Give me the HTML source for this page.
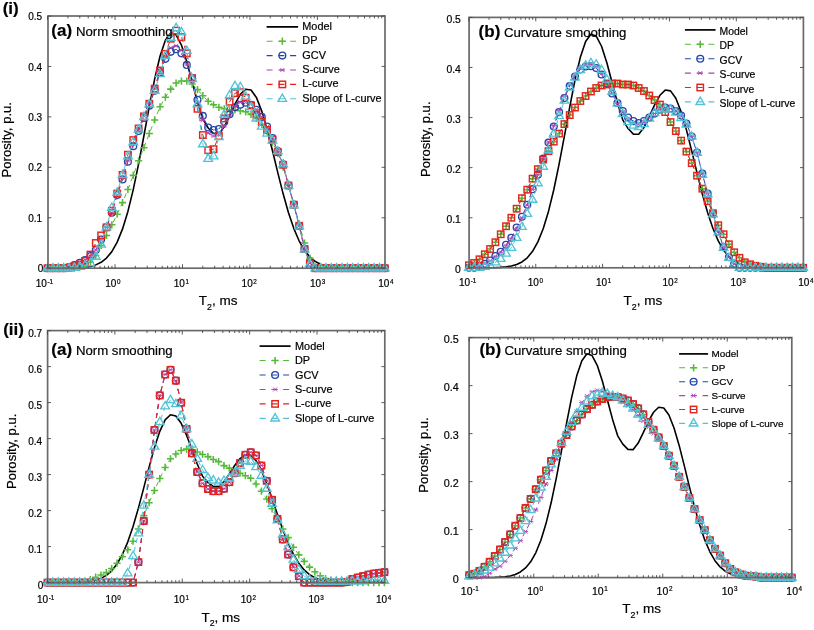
<!DOCTYPE html><html><head><meta charset="utf-8"><title>T2 distributions</title><style>html,body{margin:0;padding:0;background:#fff;width:814px;height:630px;overflow:hidden}svg{display:block}text{stroke:#000;stroke-width:.2px}</style></head><body><svg width="814" height="630" viewBox="0 0 814 630" font-family='"Liberation Sans", Arial, Helvetica, sans-serif'><rect width="814" height="630" fill="#fff"/><text x="2.7" y="14.0" font-size="17" font-weight="bold" fill="#000">(i)</text><text x="3.2" y="335.0" font-size="17" font-weight="bold" fill="#000">(ii)</text><clipPath id="clipA"><rect x="41.6" y="10" width="349.25" height="264.2"/></clipPath>
<g clip-path="url(#clipA)">
<path d="M47.6 268.2 L52.95 268.19 L58.31 268.18 L63.66 268.16 L69.01 268.1 L74.37 267.99 L79.72 267.75 L85.07 267.29 L90.43 266.43 L95.78 264.9 L101.13 262.3 L106.48 258.1 L111.84 251.63 L117.19 242.14 L122.54 228.91 L127.9 211.43 L133.25 189.59 L138.6 163.87 L143.96 135.48 L149.31 106.38 L154.66 79.05 L160.02 56.2 L165.37 40.28 L170.72 32.97 L176.08 34.82 L181.43 45.06 L186.78 61.68 L192.14 81.75 L197.49 101.97 L202.84 119.19 L208.2 127.97 L213.55 133.52 L218.9 133.75 L224.25 126.82 L229.61 115.87 L234.96 104.14 L240.31 94.44 L245.67 89.19 L251.02 89.99 L256.37 97.41 L261.73 110.96 L267.08 129.29 L272.43 150.53 L277.79 172.65 L283.14 193.84 L288.49 212.75 L293.85 228.57 L299.2 241.06 L304.55 250.39 L309.91 257.01 L315.26 261.46 L320.61 264.31 L325.97 266.05 L331.32 267.06 L336.67 267.62 L342.02 267.92 L347.38 268.07 L352.73 268.14 L358.08 268.17 L363.44 268.19 L368.79 268.2 L374.14 268.2 L379.5 268.2 L384.85 268.2" stroke="#000" stroke-width="1.6" fill="none" stroke-linejoin="round"/>
<path d="M47.6 268.2 L52.95 268.2 L58.31 268.2 L63.66 268.2 L69.01 268.2 L74.37 268.2 L79.72 267.19 L85.07 265.68 L90.43 262.15 L95.78 255.59 L101.13 245.5 L106.48 235.41 L111.84 224.82 L117.19 214.23 L122.54 202.63 L127.9 189.51 L133.25 175.39 L138.6 160.76 L143.96 147.65 L149.31 133.53 L154.66 119.91 L160.02 106.79 L165.37 97.21 L170.72 89.14 L176.08 83.09 L181.43 81.07 L186.78 81.07 L192.14 84.09 L197.49 89.64 L202.84 95.7 L208.2 101.24 L213.55 104.77 L218.9 107.3 L224.25 108.81 L229.61 109.82 L234.96 109.82 L240.31 110.83 L245.67 111.84 L251.02 114.36 L256.37 118.39 L261.73 124.45 L267.08 132.01 L272.43 142.1 L277.79 153.2 L283.14 167.32 L288.49 184.97 L293.85 204.14 L299.2 223.81 L304.55 242.98 L309.91 258.11 L315.26 265.68 L320.61 268.2 L325.97 268.2 L331.32 268.2 L336.67 268.2 L342.02 268.2 L347.38 268.2 L352.73 268.2 L358.08 268.2 L363.44 268.2 L368.79 268.2 L374.14 268.2 L379.5 268.2 L384.85 268.2" stroke="#56b93a" stroke-width="1" fill="none" stroke-dasharray="5 4"/>
<path d="M44 268.2H51.2M47.6 264.6V271.8" stroke="#56b93a" stroke-width="1.55" fill="none"/><path d="M49.35 268.2H56.55M52.95 264.6V271.8" stroke="#56b93a" stroke-width="1.55" fill="none"/><path d="M54.71 268.2H61.91M58.31 264.6V271.8" stroke="#56b93a" stroke-width="1.55" fill="none"/><path d="M60.06 268.2H67.26M63.66 264.6V271.8" stroke="#56b93a" stroke-width="1.55" fill="none"/><path d="M65.41 268.2H72.61M69.01 264.6V271.8" stroke="#56b93a" stroke-width="1.55" fill="none"/><path d="M70.77 268.2H77.97M74.37 264.6V271.8" stroke="#56b93a" stroke-width="1.55" fill="none"/><path d="M76.12 267.19H83.32M79.72 263.59V270.79" stroke="#56b93a" stroke-width="1.55" fill="none"/><path d="M81.47 265.68H88.67M85.07 262.08V269.28" stroke="#56b93a" stroke-width="1.55" fill="none"/><path d="M86.83 262.15H94.03M90.43 258.55V265.75" stroke="#56b93a" stroke-width="1.55" fill="none"/><path d="M92.18 255.59H99.38M95.78 251.99V259.19" stroke="#56b93a" stroke-width="1.55" fill="none"/><path d="M97.53 245.5H104.73M101.13 241.9V249.1" stroke="#56b93a" stroke-width="1.55" fill="none"/><path d="M102.88 235.41H110.08M106.48 231.81V239.01" stroke="#56b93a" stroke-width="1.55" fill="none"/><path d="M108.24 224.82H115.44M111.84 221.22V228.42" stroke="#56b93a" stroke-width="1.55" fill="none"/><path d="M113.59 214.23H120.79M117.19 210.63V217.83" stroke="#56b93a" stroke-width="1.55" fill="none"/><path d="M118.94 202.63H126.14M122.54 199.03V206.23" stroke="#56b93a" stroke-width="1.55" fill="none"/><path d="M124.3 189.51H131.5M127.9 185.91V193.11" stroke="#56b93a" stroke-width="1.55" fill="none"/><path d="M129.65 175.39H136.85M133.25 171.79V178.99" stroke="#56b93a" stroke-width="1.55" fill="none"/><path d="M135 160.76H142.2M138.6 157.16V164.36" stroke="#56b93a" stroke-width="1.55" fill="none"/><path d="M140.36 147.65H147.56M143.96 144.05V151.25" stroke="#56b93a" stroke-width="1.55" fill="none"/><path d="M145.71 133.53H152.91M149.31 129.93V137.13" stroke="#56b93a" stroke-width="1.55" fill="none"/><path d="M151.06 119.91H158.26M154.66 116.31V123.51" stroke="#56b93a" stroke-width="1.55" fill="none"/><path d="M156.42 106.79H163.62M160.02 103.19V110.39" stroke="#56b93a" stroke-width="1.55" fill="none"/><path d="M161.77 97.21H168.97M165.37 93.61V100.81" stroke="#56b93a" stroke-width="1.55" fill="none"/><path d="M167.12 89.14H174.32M170.72 85.54V92.74" stroke="#56b93a" stroke-width="1.55" fill="none"/><path d="M172.48 83.09H179.68M176.08 79.49V86.69" stroke="#56b93a" stroke-width="1.55" fill="none"/><path d="M177.83 81.07H185.03M181.43 77.47V84.67" stroke="#56b93a" stroke-width="1.55" fill="none"/><path d="M183.18 81.07H190.38M186.78 77.47V84.67" stroke="#56b93a" stroke-width="1.55" fill="none"/><path d="M188.54 84.09H195.74M192.14 80.49V87.69" stroke="#56b93a" stroke-width="1.55" fill="none"/><path d="M193.89 89.64H201.09M197.49 86.04V93.24" stroke="#56b93a" stroke-width="1.55" fill="none"/><path d="M199.24 95.7H206.44M202.84 92.1V99.3" stroke="#56b93a" stroke-width="1.55" fill="none"/><path d="M204.6 101.24H211.8M208.2 97.64V104.84" stroke="#56b93a" stroke-width="1.55" fill="none"/><path d="M209.95 104.77H217.15M213.55 101.17V108.37" stroke="#56b93a" stroke-width="1.55" fill="none"/><path d="M215.3 107.3H222.5M218.9 103.7V110.9" stroke="#56b93a" stroke-width="1.55" fill="none"/><path d="M220.65 108.81H227.85M224.25 105.21V112.41" stroke="#56b93a" stroke-width="1.55" fill="none"/><path d="M226.01 109.82H233.21M229.61 106.22V113.42" stroke="#56b93a" stroke-width="1.55" fill="none"/><path d="M231.36 109.82H238.56M234.96 106.22V113.42" stroke="#56b93a" stroke-width="1.55" fill="none"/><path d="M236.71 110.83H243.91M240.31 107.23V114.43" stroke="#56b93a" stroke-width="1.55" fill="none"/><path d="M242.07 111.84H249.27M245.67 108.24V115.44" stroke="#56b93a" stroke-width="1.55" fill="none"/><path d="M247.42 114.36H254.62M251.02 110.76V117.96" stroke="#56b93a" stroke-width="1.55" fill="none"/><path d="M252.77 118.39H259.97M256.37 114.79V121.99" stroke="#56b93a" stroke-width="1.55" fill="none"/><path d="M258.13 124.45H265.33M261.73 120.85V128.05" stroke="#56b93a" stroke-width="1.55" fill="none"/><path d="M263.48 132.01H270.68M267.08 128.41V135.61" stroke="#56b93a" stroke-width="1.55" fill="none"/><path d="M268.83 142.1H276.03M272.43 138.5V145.7" stroke="#56b93a" stroke-width="1.55" fill="none"/><path d="M274.19 153.2H281.39M277.79 149.6V156.8" stroke="#56b93a" stroke-width="1.55" fill="none"/><path d="M279.54 167.32H286.74M283.14 163.72V170.92" stroke="#56b93a" stroke-width="1.55" fill="none"/><path d="M284.89 184.97H292.09M288.49 181.37V188.57" stroke="#56b93a" stroke-width="1.55" fill="none"/><path d="M290.25 204.14H297.45M293.85 200.54V207.74" stroke="#56b93a" stroke-width="1.55" fill="none"/><path d="M295.6 223.81H302.8M299.2 220.21V227.41" stroke="#56b93a" stroke-width="1.55" fill="none"/><path d="M300.95 242.98H308.15M304.55 239.38V246.58" stroke="#56b93a" stroke-width="1.55" fill="none"/><path d="M306.31 258.11H313.51M309.91 254.51V261.71" stroke="#56b93a" stroke-width="1.55" fill="none"/><path d="M311.66 265.68H318.86M315.26 262.08V269.28" stroke="#56b93a" stroke-width="1.55" fill="none"/><path d="M317.01 268.2H324.21M320.61 264.6V271.8" stroke="#56b93a" stroke-width="1.55" fill="none"/><path d="M322.37 268.2H329.57M325.97 264.6V271.8" stroke="#56b93a" stroke-width="1.55" fill="none"/><path d="M327.72 268.2H334.92M331.32 264.6V271.8" stroke="#56b93a" stroke-width="1.55" fill="none"/><path d="M333.07 268.2H340.27M336.67 264.6V271.8" stroke="#56b93a" stroke-width="1.55" fill="none"/><path d="M338.42 268.2H345.62M342.02 264.6V271.8" stroke="#56b93a" stroke-width="1.55" fill="none"/><path d="M343.78 268.2H350.98M347.38 264.6V271.8" stroke="#56b93a" stroke-width="1.55" fill="none"/><path d="M349.13 268.2H356.33M352.73 264.6V271.8" stroke="#56b93a" stroke-width="1.55" fill="none"/><path d="M354.48 268.2H361.68M358.08 264.6V271.8" stroke="#56b93a" stroke-width="1.55" fill="none"/><path d="M359.84 268.2H367.04M363.44 264.6V271.8" stroke="#56b93a" stroke-width="1.55" fill="none"/><path d="M365.19 268.2H372.39M368.79 264.6V271.8" stroke="#56b93a" stroke-width="1.55" fill="none"/><path d="M370.54 268.2H377.74M374.14 264.6V271.8" stroke="#56b93a" stroke-width="1.55" fill="none"/><path d="M375.9 268.2H383.1M379.5 264.6V271.8" stroke="#56b93a" stroke-width="1.55" fill="none"/><path d="M381.25 268.2H388.45M384.85 264.6V271.8" stroke="#56b93a" stroke-width="1.55" fill="none"/>
<path d="M47.6 268.2 L52.95 268.2 L58.31 268.2 L63.66 268.2 L69.01 267.19 L74.37 265.17 L79.72 262.8 L85.07 259.98 L90.43 256.09 L95.78 250.04 L101.13 239.45 L106.48 227.34 L111.84 212.72 L117.19 195.06 L122.54 179.43 L127.9 161.77 L133.25 146.14 L138.6 131 L143.96 117.89 L149.31 105.78 L154.66 90.65 L160.02 72.49 L165.37 58.87 L170.72 51.81 L176.08 49.29 L181.43 53.33 L186.78 64.93 L192.14 79.05 L197.49 99.73 L202.84 115.87 L208.2 127.47 L213.55 129.99 L218.9 128.99 L224.25 121.92 L229.61 114.36 L234.96 107.3 L240.31 104.77 L245.67 102.76 L251.02 104.77 L256.37 109.82 L261.73 116.88 L267.08 126.46 L272.43 138.06 L277.79 151.18 L283.14 164.29 L288.49 185.48 L293.85 204.65 L299.2 225.83 L304.55 249.03 L309.91 263.16 L315.26 268.2 L320.61 268.2 L325.97 268.2 L331.32 268.2 L336.67 268.2 L342.02 268.2 L347.38 268.2 L352.73 268.2 L358.08 268.2 L363.44 268.2 L368.79 268.2 L374.14 268.2 L379.5 268.2 L384.85 268.2" stroke="#2446a8" stroke-width="1" fill="none" stroke-dasharray="5 4"/>
<circle cx="47.6" cy="268.2" r="3.4" stroke="#2446a8" stroke-width="1.35" fill="none"/><circle cx="52.95" cy="268.2" r="3.4" stroke="#2446a8" stroke-width="1.35" fill="none"/><circle cx="58.31" cy="268.2" r="3.4" stroke="#2446a8" stroke-width="1.35" fill="none"/><circle cx="63.66" cy="268.2" r="3.4" stroke="#2446a8" stroke-width="1.35" fill="none"/><circle cx="69.01" cy="267.19" r="3.4" stroke="#2446a8" stroke-width="1.35" fill="none"/><circle cx="74.37" cy="265.17" r="3.4" stroke="#2446a8" stroke-width="1.35" fill="none"/><circle cx="79.72" cy="262.8" r="3.4" stroke="#2446a8" stroke-width="1.35" fill="none"/><circle cx="85.07" cy="259.98" r="3.4" stroke="#2446a8" stroke-width="1.35" fill="none"/><circle cx="90.43" cy="256.09" r="3.4" stroke="#2446a8" stroke-width="1.35" fill="none"/><circle cx="95.78" cy="250.04" r="3.4" stroke="#2446a8" stroke-width="1.35" fill="none"/><circle cx="101.13" cy="239.45" r="3.4" stroke="#2446a8" stroke-width="1.35" fill="none"/><circle cx="106.48" cy="227.34" r="3.4" stroke="#2446a8" stroke-width="1.35" fill="none"/><circle cx="111.84" cy="212.72" r="3.4" stroke="#2446a8" stroke-width="1.35" fill="none"/><circle cx="117.19" cy="195.06" r="3.4" stroke="#2446a8" stroke-width="1.35" fill="none"/><circle cx="122.54" cy="179.43" r="3.4" stroke="#2446a8" stroke-width="1.35" fill="none"/><circle cx="127.9" cy="161.77" r="3.4" stroke="#2446a8" stroke-width="1.35" fill="none"/><circle cx="133.25" cy="146.14" r="3.4" stroke="#2446a8" stroke-width="1.35" fill="none"/><circle cx="138.6" cy="131" r="3.4" stroke="#2446a8" stroke-width="1.35" fill="none"/><circle cx="143.96" cy="117.89" r="3.4" stroke="#2446a8" stroke-width="1.35" fill="none"/><circle cx="149.31" cy="105.78" r="3.4" stroke="#2446a8" stroke-width="1.35" fill="none"/><circle cx="154.66" cy="90.65" r="3.4" stroke="#2446a8" stroke-width="1.35" fill="none"/><circle cx="160.02" cy="72.49" r="3.4" stroke="#2446a8" stroke-width="1.35" fill="none"/><circle cx="165.37" cy="58.87" r="3.4" stroke="#2446a8" stroke-width="1.35" fill="none"/><circle cx="170.72" cy="51.81" r="3.4" stroke="#2446a8" stroke-width="1.35" fill="none"/><circle cx="176.08" cy="49.29" r="3.4" stroke="#2446a8" stroke-width="1.35" fill="none"/><circle cx="181.43" cy="53.33" r="3.4" stroke="#2446a8" stroke-width="1.35" fill="none"/><circle cx="186.78" cy="64.93" r="3.4" stroke="#2446a8" stroke-width="1.35" fill="none"/><circle cx="192.14" cy="79.05" r="3.4" stroke="#2446a8" stroke-width="1.35" fill="none"/><circle cx="197.49" cy="99.73" r="3.4" stroke="#2446a8" stroke-width="1.35" fill="none"/><circle cx="202.84" cy="115.87" r="3.4" stroke="#2446a8" stroke-width="1.35" fill="none"/><circle cx="208.2" cy="127.47" r="3.4" stroke="#2446a8" stroke-width="1.35" fill="none"/><circle cx="213.55" cy="129.99" r="3.4" stroke="#2446a8" stroke-width="1.35" fill="none"/><circle cx="218.9" cy="128.99" r="3.4" stroke="#2446a8" stroke-width="1.35" fill="none"/><circle cx="224.25" cy="121.92" r="3.4" stroke="#2446a8" stroke-width="1.35" fill="none"/><circle cx="229.61" cy="114.36" r="3.4" stroke="#2446a8" stroke-width="1.35" fill="none"/><circle cx="234.96" cy="107.3" r="3.4" stroke="#2446a8" stroke-width="1.35" fill="none"/><circle cx="240.31" cy="104.77" r="3.4" stroke="#2446a8" stroke-width="1.35" fill="none"/><circle cx="245.67" cy="102.76" r="3.4" stroke="#2446a8" stroke-width="1.35" fill="none"/><circle cx="251.02" cy="104.77" r="3.4" stroke="#2446a8" stroke-width="1.35" fill="none"/><circle cx="256.37" cy="109.82" r="3.4" stroke="#2446a8" stroke-width="1.35" fill="none"/><circle cx="261.73" cy="116.88" r="3.4" stroke="#2446a8" stroke-width="1.35" fill="none"/><circle cx="267.08" cy="126.46" r="3.4" stroke="#2446a8" stroke-width="1.35" fill="none"/><circle cx="272.43" cy="138.06" r="3.4" stroke="#2446a8" stroke-width="1.35" fill="none"/><circle cx="277.79" cy="151.18" r="3.4" stroke="#2446a8" stroke-width="1.35" fill="none"/><circle cx="283.14" cy="164.29" r="3.4" stroke="#2446a8" stroke-width="1.35" fill="none"/><circle cx="288.49" cy="185.48" r="3.4" stroke="#2446a8" stroke-width="1.35" fill="none"/><circle cx="293.85" cy="204.65" r="3.4" stroke="#2446a8" stroke-width="1.35" fill="none"/><circle cx="299.2" cy="225.83" r="3.4" stroke="#2446a8" stroke-width="1.35" fill="none"/><circle cx="304.55" cy="249.03" r="3.4" stroke="#2446a8" stroke-width="1.35" fill="none"/><circle cx="309.91" cy="263.16" r="3.4" stroke="#2446a8" stroke-width="1.35" fill="none"/><circle cx="315.26" cy="268.2" r="3.4" stroke="#2446a8" stroke-width="1.35" fill="none"/><circle cx="320.61" cy="268.2" r="3.4" stroke="#2446a8" stroke-width="1.35" fill="none"/><circle cx="325.97" cy="268.2" r="3.4" stroke="#2446a8" stroke-width="1.35" fill="none"/><circle cx="331.32" cy="268.2" r="3.4" stroke="#2446a8" stroke-width="1.35" fill="none"/><circle cx="336.67" cy="268.2" r="3.4" stroke="#2446a8" stroke-width="1.35" fill="none"/><circle cx="342.02" cy="268.2" r="3.4" stroke="#2446a8" stroke-width="1.35" fill="none"/><circle cx="347.38" cy="268.2" r="3.4" stroke="#2446a8" stroke-width="1.35" fill="none"/><circle cx="352.73" cy="268.2" r="3.4" stroke="#2446a8" stroke-width="1.35" fill="none"/><circle cx="358.08" cy="268.2" r="3.4" stroke="#2446a8" stroke-width="1.35" fill="none"/><circle cx="363.44" cy="268.2" r="3.4" stroke="#2446a8" stroke-width="1.35" fill="none"/><circle cx="368.79" cy="268.2" r="3.4" stroke="#2446a8" stroke-width="1.35" fill="none"/><circle cx="374.14" cy="268.2" r="3.4" stroke="#2446a8" stroke-width="1.35" fill="none"/><circle cx="379.5" cy="268.2" r="3.4" stroke="#2446a8" stroke-width="1.35" fill="none"/><circle cx="384.85" cy="268.2" r="3.4" stroke="#2446a8" stroke-width="1.35" fill="none"/>
<path d="M47.6 268.2 L52.95 268.2 L58.31 268.2 L63.66 268.2 L69.01 267.19 L74.37 265.17 L79.72 262.9 L85.07 260.13 L90.43 256.09 L95.78 250.04 L101.13 239.95 L106.48 227.34 L111.84 212.72 L117.19 195.06 L122.54 178.42 L127.9 160.26 L133.25 144.12 L138.6 128.99 L143.96 115.87 L149.31 103.26 L154.66 88.13 L160.02 70.48 L165.37 56.35 L170.72 47.78 L176.08 45.76 L181.43 50.3 L186.78 63.92 L192.14 80.56 L197.49 102.76 L202.84 120.41 L208.2 133.02 L213.55 136.05 L218.9 134.53 L224.25 125.96 L229.61 115.87 L234.96 106.29 L240.31 102.25 L245.67 100.23 L251.02 103.26 L256.37 109.31 L261.73 116.88 L267.08 126.97 L272.43 138.57 L277.79 151.68 L283.14 164.8 L288.49 185.48 L293.85 204.65 L299.2 225.83 L304.55 249.03 L309.91 263.16 L315.26 268.2 L320.61 268.2 L325.97 268.2 L331.32 268.2 L336.67 268.2 L342.02 268.2 L347.38 268.2 L352.73 268.2 L358.08 268.2 L363.44 268.2 L368.79 268.2 L374.14 268.2 L379.5 268.2 L384.85 268.2" stroke="#b040b0" stroke-width="1" fill="none" stroke-dasharray="5 4"/>
<path d="M44.9 268.2H50.3M45.6 266.2L49.6 270.2M45.6 270.2L49.6 266.2" stroke="#b040b0" stroke-width="0.9" fill="none"/><path d="M50.25 268.2H55.65M50.95 266.2L54.95 270.2M50.95 270.2L54.95 266.2" stroke="#b040b0" stroke-width="0.9" fill="none"/><path d="M55.61 268.2H61.01M56.31 266.2L60.31 270.2M56.31 270.2L60.31 266.2" stroke="#b040b0" stroke-width="0.9" fill="none"/><path d="M60.96 268.2H66.36M61.66 266.2L65.66 270.2M61.66 270.2L65.66 266.2" stroke="#b040b0" stroke-width="0.9" fill="none"/><path d="M66.31 267.19H71.71M67.01 265.19L71.01 269.19M67.01 269.19L71.01 265.19" stroke="#b040b0" stroke-width="0.9" fill="none"/><path d="M71.67 265.17H77.07M72.37 263.17L76.37 267.17M72.37 267.17L76.37 263.17" stroke="#b040b0" stroke-width="0.9" fill="none"/><path d="M77.02 262.9H82.42M77.72 260.9L81.72 264.9M77.72 264.9L81.72 260.9" stroke="#b040b0" stroke-width="0.9" fill="none"/><path d="M82.37 260.13H87.77M83.07 258.13L87.07 262.13M83.07 262.13L87.07 258.13" stroke="#b040b0" stroke-width="0.9" fill="none"/><path d="M87.73 256.09H93.13M88.43 254.09L92.43 258.09M88.43 258.09L92.43 254.09" stroke="#b040b0" stroke-width="0.9" fill="none"/><path d="M93.08 250.04H98.48M93.78 248.04L97.78 252.04M93.78 252.04L97.78 248.04" stroke="#b040b0" stroke-width="0.9" fill="none"/><path d="M98.43 239.95H103.83M99.13 237.95L103.13 241.95M99.13 241.95L103.13 237.95" stroke="#b040b0" stroke-width="0.9" fill="none"/><path d="M103.78 227.34H109.18M104.48 225.34L108.48 229.34M104.48 229.34L108.48 225.34" stroke="#b040b0" stroke-width="0.9" fill="none"/><path d="M109.14 212.72H114.54M109.84 210.72L113.84 214.72M109.84 214.72L113.84 210.72" stroke="#b040b0" stroke-width="0.9" fill="none"/><path d="M114.49 195.06H119.89M115.19 193.06L119.19 197.06M115.19 197.06L119.19 193.06" stroke="#b040b0" stroke-width="0.9" fill="none"/><path d="M119.84 178.42H125.24M120.54 176.42L124.54 180.42M120.54 180.42L124.54 176.42" stroke="#b040b0" stroke-width="0.9" fill="none"/><path d="M125.2 160.26H130.6M125.9 158.26L129.9 162.26M125.9 162.26L129.9 158.26" stroke="#b040b0" stroke-width="0.9" fill="none"/><path d="M130.55 144.12H135.95M131.25 142.12L135.25 146.12M131.25 146.12L135.25 142.12" stroke="#b040b0" stroke-width="0.9" fill="none"/><path d="M135.9 128.99H141.3M136.6 126.99L140.6 130.99M136.6 130.99L140.6 126.99" stroke="#b040b0" stroke-width="0.9" fill="none"/><path d="M141.26 115.87H146.66M141.96 113.87L145.96 117.87M141.96 117.87L145.96 113.87" stroke="#b040b0" stroke-width="0.9" fill="none"/><path d="M146.61 103.26H152.01M147.31 101.26L151.31 105.26M147.31 105.26L151.31 101.26" stroke="#b040b0" stroke-width="0.9" fill="none"/><path d="M151.96 88.13H157.36M152.66 86.13L156.66 90.13M152.66 90.13L156.66 86.13" stroke="#b040b0" stroke-width="0.9" fill="none"/><path d="M157.32 70.48H162.72M158.02 68.48L162.02 72.48M158.02 72.48L162.02 68.48" stroke="#b040b0" stroke-width="0.9" fill="none"/><path d="M162.67 56.35H168.07M163.37 54.35L167.37 58.35M163.37 58.35L167.37 54.35" stroke="#b040b0" stroke-width="0.9" fill="none"/><path d="M168.02 47.78H173.42M168.72 45.78L172.72 49.78M168.72 49.78L172.72 45.78" stroke="#b040b0" stroke-width="0.9" fill="none"/><path d="M173.38 45.76H178.78M174.08 43.76L178.08 47.76M174.08 47.76L178.08 43.76" stroke="#b040b0" stroke-width="0.9" fill="none"/><path d="M178.73 50.3H184.13M179.43 48.3L183.43 52.3M179.43 52.3L183.43 48.3" stroke="#b040b0" stroke-width="0.9" fill="none"/><path d="M184.08 63.92H189.48M184.78 61.92L188.78 65.92M184.78 65.92L188.78 61.92" stroke="#b040b0" stroke-width="0.9" fill="none"/><path d="M189.44 80.56H194.84M190.14 78.56L194.14 82.56M190.14 82.56L194.14 78.56" stroke="#b040b0" stroke-width="0.9" fill="none"/><path d="M194.79 102.76H200.19M195.49 100.76L199.49 104.76M195.49 104.76L199.49 100.76" stroke="#b040b0" stroke-width="0.9" fill="none"/><path d="M200.14 120.41H205.54M200.84 118.41L204.84 122.41M200.84 122.41L204.84 118.41" stroke="#b040b0" stroke-width="0.9" fill="none"/><path d="M205.5 133.02H210.9M206.2 131.02L210.2 135.02M206.2 135.02L210.2 131.02" stroke="#b040b0" stroke-width="0.9" fill="none"/><path d="M210.85 136.05H216.25M211.55 134.05L215.55 138.05M211.55 138.05L215.55 134.05" stroke="#b040b0" stroke-width="0.9" fill="none"/><path d="M216.2 134.53H221.6M216.9 132.53L220.9 136.53M216.9 136.53L220.9 132.53" stroke="#b040b0" stroke-width="0.9" fill="none"/><path d="M221.55 125.96H226.95M222.25 123.96L226.25 127.96M222.25 127.96L226.25 123.96" stroke="#b040b0" stroke-width="0.9" fill="none"/><path d="M226.91 115.87H232.31M227.61 113.87L231.61 117.87M227.61 117.87L231.61 113.87" stroke="#b040b0" stroke-width="0.9" fill="none"/><path d="M232.26 106.29H237.66M232.96 104.29L236.96 108.29M232.96 108.29L236.96 104.29" stroke="#b040b0" stroke-width="0.9" fill="none"/><path d="M237.61 102.25H243.01M238.31 100.25L242.31 104.25M238.31 104.25L242.31 100.25" stroke="#b040b0" stroke-width="0.9" fill="none"/><path d="M242.97 100.23H248.37M243.67 98.23L247.67 102.23M243.67 102.23L247.67 98.23" stroke="#b040b0" stroke-width="0.9" fill="none"/><path d="M248.32 103.26H253.72M249.02 101.26L253.02 105.26M249.02 105.26L253.02 101.26" stroke="#b040b0" stroke-width="0.9" fill="none"/><path d="M253.67 109.31H259.07M254.37 107.31L258.37 111.31M254.37 111.31L258.37 107.31" stroke="#b040b0" stroke-width="0.9" fill="none"/><path d="M259.03 116.88H264.43M259.73 114.88L263.73 118.88M259.73 118.88L263.73 114.88" stroke="#b040b0" stroke-width="0.9" fill="none"/><path d="M264.38 126.97H269.78M265.08 124.97L269.08 128.97M265.08 128.97L269.08 124.97" stroke="#b040b0" stroke-width="0.9" fill="none"/><path d="M269.73 138.57H275.13M270.43 136.57L274.43 140.57M270.43 140.57L274.43 136.57" stroke="#b040b0" stroke-width="0.9" fill="none"/><path d="M275.09 151.68H280.49M275.79 149.68L279.79 153.68M275.79 153.68L279.79 149.68" stroke="#b040b0" stroke-width="0.9" fill="none"/><path d="M280.44 164.8H285.84M281.14 162.8L285.14 166.8M281.14 166.8L285.14 162.8" stroke="#b040b0" stroke-width="0.9" fill="none"/><path d="M285.79 185.48H291.19M286.49 183.48L290.49 187.48M286.49 187.48L290.49 183.48" stroke="#b040b0" stroke-width="0.9" fill="none"/><path d="M291.15 204.65H296.55M291.85 202.65L295.85 206.65M291.85 206.65L295.85 202.65" stroke="#b040b0" stroke-width="0.9" fill="none"/><path d="M296.5 225.83H301.9M297.2 223.83L301.2 227.83M297.2 227.83L301.2 223.83" stroke="#b040b0" stroke-width="0.9" fill="none"/><path d="M301.85 249.03H307.25M302.55 247.03L306.55 251.03M302.55 251.03L306.55 247.03" stroke="#b040b0" stroke-width="0.9" fill="none"/><path d="M307.21 263.16H312.61M307.91 261.16L311.91 265.16M307.91 265.16L311.91 261.16" stroke="#b040b0" stroke-width="0.9" fill="none"/><path d="M312.56 268.2H317.96M313.26 266.2L317.26 270.2M313.26 270.2L317.26 266.2" stroke="#b040b0" stroke-width="0.9" fill="none"/><path d="M317.91 268.2H323.31M318.61 266.2L322.61 270.2M318.61 270.2L322.61 266.2" stroke="#b040b0" stroke-width="0.9" fill="none"/><path d="M323.27 268.2H328.67M323.97 266.2L327.97 270.2M323.97 270.2L327.97 266.2" stroke="#b040b0" stroke-width="0.9" fill="none"/><path d="M328.62 268.2H334.02M329.32 266.2L333.32 270.2M329.32 270.2L333.32 266.2" stroke="#b040b0" stroke-width="0.9" fill="none"/><path d="M333.97 268.2H339.37M334.67 266.2L338.67 270.2M334.67 270.2L338.67 266.2" stroke="#b040b0" stroke-width="0.9" fill="none"/><path d="M339.32 268.2H344.72M340.02 266.2L344.02 270.2M340.02 270.2L344.02 266.2" stroke="#b040b0" stroke-width="0.9" fill="none"/><path d="M344.68 268.2H350.08M345.38 266.2L349.38 270.2M345.38 270.2L349.38 266.2" stroke="#b040b0" stroke-width="0.9" fill="none"/><path d="M350.03 268.2H355.43M350.73 266.2L354.73 270.2M350.73 270.2L354.73 266.2" stroke="#b040b0" stroke-width="0.9" fill="none"/><path d="M355.38 268.2H360.78M356.08 266.2L360.08 270.2M356.08 270.2L360.08 266.2" stroke="#b040b0" stroke-width="0.9" fill="none"/><path d="M360.74 268.2H366.14M361.44 266.2L365.44 270.2M361.44 270.2L365.44 266.2" stroke="#b040b0" stroke-width="0.9" fill="none"/><path d="M366.09 268.2H371.49M366.79 266.2L370.79 270.2M366.79 270.2L370.79 266.2" stroke="#b040b0" stroke-width="0.9" fill="none"/><path d="M371.44 268.2H376.84M372.14 266.2L376.14 270.2M372.14 270.2L376.14 266.2" stroke="#b040b0" stroke-width="0.9" fill="none"/><path d="M376.8 268.2H382.2M377.5 266.2L381.5 270.2M377.5 270.2L381.5 266.2" stroke="#b040b0" stroke-width="0.9" fill="none"/><path d="M382.15 268.2H387.55M382.85 266.2L386.85 270.2M382.85 270.2L386.85 266.2" stroke="#b040b0" stroke-width="0.9" fill="none"/>
<path d="M47.6 268.2 L52.95 268.2 L58.31 268.2 L63.66 268.2 L69.01 267.7 L74.37 266.18 L79.72 264.42 L85.07 260.89 L90.43 254.58 L95.78 242.98 L101.13 235.41 L106.48 227.34 L111.84 210.7 L117.19 193.55 L122.54 174.89 L127.9 154.71 L133.25 140.08 L138.6 128.48 L143.96 116.38 L149.31 103.77 L154.66 88.63 L160.02 70.48 L165.37 53.83 L170.72 38.7 L176.08 30.63 L181.43 37.18 L186.78 53.33 L192.14 78.04 L197.49 108.81 L202.84 135.04 L208.2 150.17 L213.55 149.16 L218.9 136.05 L224.25 118.39 L229.61 101.75 L234.96 93.17 L240.31 92.16 L245.67 97.71 L251.02 105.28 L256.37 114.36 L261.73 121.92 L267.08 129.99 L272.43 139.58 L277.79 152.19 L283.14 164.8 L288.49 185.48 L293.85 204.65 L299.2 225.83 L304.55 249.03 L309.91 263.16 L315.26 268.2 L320.61 268.2 L325.97 268.2 L331.32 268.2 L336.67 268.2 L342.02 268.2 L347.38 268.2 L352.73 268.2 L358.08 268.2 L363.44 268.2 L368.79 268.2 L374.14 268.2 L379.5 268.2 L384.85 268.2" stroke="#e3241f" stroke-width="1" fill="none" stroke-dasharray="5 4"/>
<rect x="44.4" y="265" width="6.4" height="6.4" stroke="#e3241f" stroke-width="1.45" fill="none"/><rect x="49.75" y="265" width="6.4" height="6.4" stroke="#e3241f" stroke-width="1.45" fill="none"/><rect x="55.11" y="265" width="6.4" height="6.4" stroke="#e3241f" stroke-width="1.45" fill="none"/><rect x="60.46" y="265" width="6.4" height="6.4" stroke="#e3241f" stroke-width="1.45" fill="none"/><rect x="65.81" y="264.5" width="6.4" height="6.4" stroke="#e3241f" stroke-width="1.45" fill="none"/><rect x="71.17" y="262.98" width="6.4" height="6.4" stroke="#e3241f" stroke-width="1.45" fill="none"/><rect x="76.52" y="261.22" width="6.4" height="6.4" stroke="#e3241f" stroke-width="1.45" fill="none"/><rect x="81.87" y="257.69" width="6.4" height="6.4" stroke="#e3241f" stroke-width="1.45" fill="none"/><rect x="87.23" y="251.38" width="6.4" height="6.4" stroke="#e3241f" stroke-width="1.45" fill="none"/><rect x="92.58" y="239.78" width="6.4" height="6.4" stroke="#e3241f" stroke-width="1.45" fill="none"/><rect x="97.93" y="232.21" width="6.4" height="6.4" stroke="#e3241f" stroke-width="1.45" fill="none"/><rect x="103.28" y="224.14" width="6.4" height="6.4" stroke="#e3241f" stroke-width="1.45" fill="none"/><rect x="108.64" y="207.5" width="6.4" height="6.4" stroke="#e3241f" stroke-width="1.45" fill="none"/><rect x="113.99" y="190.35" width="6.4" height="6.4" stroke="#e3241f" stroke-width="1.45" fill="none"/><rect x="119.34" y="171.69" width="6.4" height="6.4" stroke="#e3241f" stroke-width="1.45" fill="none"/><rect x="124.7" y="151.51" width="6.4" height="6.4" stroke="#e3241f" stroke-width="1.45" fill="none"/><rect x="130.05" y="136.88" width="6.4" height="6.4" stroke="#e3241f" stroke-width="1.45" fill="none"/><rect x="135.4" y="125.28" width="6.4" height="6.4" stroke="#e3241f" stroke-width="1.45" fill="none"/><rect x="140.76" y="113.18" width="6.4" height="6.4" stroke="#e3241f" stroke-width="1.45" fill="none"/><rect x="146.11" y="100.57" width="6.4" height="6.4" stroke="#e3241f" stroke-width="1.45" fill="none"/><rect x="151.46" y="85.43" width="6.4" height="6.4" stroke="#e3241f" stroke-width="1.45" fill="none"/><rect x="156.82" y="67.28" width="6.4" height="6.4" stroke="#e3241f" stroke-width="1.45" fill="none"/><rect x="162.17" y="50.63" width="6.4" height="6.4" stroke="#e3241f" stroke-width="1.45" fill="none"/><rect x="167.52" y="35.5" width="6.4" height="6.4" stroke="#e3241f" stroke-width="1.45" fill="none"/><rect x="172.88" y="27.43" width="6.4" height="6.4" stroke="#e3241f" stroke-width="1.45" fill="none"/><rect x="178.23" y="33.98" width="6.4" height="6.4" stroke="#e3241f" stroke-width="1.45" fill="none"/><rect x="183.58" y="50.13" width="6.4" height="6.4" stroke="#e3241f" stroke-width="1.45" fill="none"/><rect x="188.94" y="74.84" width="6.4" height="6.4" stroke="#e3241f" stroke-width="1.45" fill="none"/><rect x="194.29" y="105.61" width="6.4" height="6.4" stroke="#e3241f" stroke-width="1.45" fill="none"/><rect x="199.64" y="131.84" width="6.4" height="6.4" stroke="#e3241f" stroke-width="1.45" fill="none"/><rect x="205" y="146.97" width="6.4" height="6.4" stroke="#e3241f" stroke-width="1.45" fill="none"/><rect x="210.35" y="145.96" width="6.4" height="6.4" stroke="#e3241f" stroke-width="1.45" fill="none"/><rect x="215.7" y="132.85" width="6.4" height="6.4" stroke="#e3241f" stroke-width="1.45" fill="none"/><rect x="221.05" y="115.19" width="6.4" height="6.4" stroke="#e3241f" stroke-width="1.45" fill="none"/><rect x="226.41" y="98.55" width="6.4" height="6.4" stroke="#e3241f" stroke-width="1.45" fill="none"/><rect x="231.76" y="89.97" width="6.4" height="6.4" stroke="#e3241f" stroke-width="1.45" fill="none"/><rect x="237.11" y="88.96" width="6.4" height="6.4" stroke="#e3241f" stroke-width="1.45" fill="none"/><rect x="242.47" y="94.51" width="6.4" height="6.4" stroke="#e3241f" stroke-width="1.45" fill="none"/><rect x="247.82" y="102.08" width="6.4" height="6.4" stroke="#e3241f" stroke-width="1.45" fill="none"/><rect x="253.17" y="111.16" width="6.4" height="6.4" stroke="#e3241f" stroke-width="1.45" fill="none"/><rect x="258.53" y="118.72" width="6.4" height="6.4" stroke="#e3241f" stroke-width="1.45" fill="none"/><rect x="263.88" y="126.79" width="6.4" height="6.4" stroke="#e3241f" stroke-width="1.45" fill="none"/><rect x="269.23" y="136.38" width="6.4" height="6.4" stroke="#e3241f" stroke-width="1.45" fill="none"/><rect x="274.59" y="148.99" width="6.4" height="6.4" stroke="#e3241f" stroke-width="1.45" fill="none"/><rect x="279.94" y="161.6" width="6.4" height="6.4" stroke="#e3241f" stroke-width="1.45" fill="none"/><rect x="285.29" y="182.28" width="6.4" height="6.4" stroke="#e3241f" stroke-width="1.45" fill="none"/><rect x="290.65" y="201.45" width="6.4" height="6.4" stroke="#e3241f" stroke-width="1.45" fill="none"/><rect x="296" y="222.63" width="6.4" height="6.4" stroke="#e3241f" stroke-width="1.45" fill="none"/><rect x="301.35" y="245.83" width="6.4" height="6.4" stroke="#e3241f" stroke-width="1.45" fill="none"/><rect x="306.71" y="259.96" width="6.4" height="6.4" stroke="#e3241f" stroke-width="1.45" fill="none"/><rect x="312.06" y="265" width="6.4" height="6.4" stroke="#e3241f" stroke-width="1.45" fill="none"/><rect x="317.41" y="265" width="6.4" height="6.4" stroke="#e3241f" stroke-width="1.45" fill="none"/><rect x="322.77" y="265" width="6.4" height="6.4" stroke="#e3241f" stroke-width="1.45" fill="none"/><rect x="328.12" y="265" width="6.4" height="6.4" stroke="#e3241f" stroke-width="1.45" fill="none"/><rect x="333.47" y="265" width="6.4" height="6.4" stroke="#e3241f" stroke-width="1.45" fill="none"/><rect x="338.82" y="265" width="6.4" height="6.4" stroke="#e3241f" stroke-width="1.45" fill="none"/><rect x="344.18" y="265" width="6.4" height="6.4" stroke="#e3241f" stroke-width="1.45" fill="none"/><rect x="349.53" y="265" width="6.4" height="6.4" stroke="#e3241f" stroke-width="1.45" fill="none"/><rect x="354.88" y="265" width="6.4" height="6.4" stroke="#e3241f" stroke-width="1.45" fill="none"/><rect x="360.24" y="265" width="6.4" height="6.4" stroke="#e3241f" stroke-width="1.45" fill="none"/><rect x="365.59" y="265" width="6.4" height="6.4" stroke="#e3241f" stroke-width="1.45" fill="none"/><rect x="370.94" y="265" width="6.4" height="6.4" stroke="#e3241f" stroke-width="1.45" fill="none"/><rect x="376.3" y="265" width="6.4" height="6.4" stroke="#e3241f" stroke-width="1.45" fill="none"/><rect x="381.65" y="265" width="6.4" height="6.4" stroke="#e3241f" stroke-width="1.45" fill="none"/>
<path d="M47.6 268.2 L52.95 268.2 L58.31 268.2 L63.66 268.2 L69.01 268.2 L74.37 267.7 L79.72 266.69 L85.07 265.17 L90.43 263.16 L95.78 256.6 L101.13 244.49 L106.48 227.34 L111.84 207.67 L117.19 192.54 L122.54 174.89 L127.9 156.22 L133.25 142.1 L138.6 129.49 L143.96 116.88 L149.31 104.27 L154.66 90.65 L160.02 74.01 L165.37 55.85 L170.72 37.69 L176.08 28.11 L181.43 32.14 L186.78 50.8 L192.14 79.05 L197.49 104.27 L202.84 144.12 L208.2 158.75 L213.55 156.22 L218.9 137.06 L224.25 114.36 L229.61 95.19 L234.96 86.11 L240.31 87.12 L245.67 96.7 L251.02 107.3 L256.37 118.39 L261.73 126.46 L267.08 133.53 L272.43 140.59 L277.79 151.18 L283.14 164.29 L288.49 185.48 L293.85 205.15 L299.2 226.33 L304.55 249.54 L309.91 263.66 L315.26 268.2 L320.61 268.2 L325.97 268.2 L331.32 268.2 L336.67 268.2 L342.02 268.2 L347.38 268.2 L352.73 268.2 L358.08 268.2 L363.44 268.2 L368.79 268.2 L374.14 268.2 L379.5 268.2 L384.85 268.2" stroke="#52c3d6" stroke-width="1" fill="none" stroke-dasharray="5 4"/>
<path d="M47.6 263.5L51.9 270.8H43.3Z" stroke="#52c3d6" stroke-width="1.35" fill="none"/><path d="M52.95 263.5L57.25 270.8H48.65Z" stroke="#52c3d6" stroke-width="1.35" fill="none"/><path d="M58.31 263.5L62.61 270.8H54.01Z" stroke="#52c3d6" stroke-width="1.35" fill="none"/><path d="M63.66 263.5L67.96 270.8H59.36Z" stroke="#52c3d6" stroke-width="1.35" fill="none"/><path d="M69.01 263.5L73.31 270.8H64.71Z" stroke="#52c3d6" stroke-width="1.35" fill="none"/><path d="M74.37 263L78.67 270.3H70.07Z" stroke="#52c3d6" stroke-width="1.35" fill="none"/><path d="M79.72 261.99L84.02 269.29H75.42Z" stroke="#52c3d6" stroke-width="1.35" fill="none"/><path d="M85.07 260.47L89.37 267.77H80.77Z" stroke="#52c3d6" stroke-width="1.35" fill="none"/><path d="M90.43 258.46L94.73 265.76H86.13Z" stroke="#52c3d6" stroke-width="1.35" fill="none"/><path d="M95.78 251.9L100.08 259.2H91.48Z" stroke="#52c3d6" stroke-width="1.35" fill="none"/><path d="M101.13 239.79L105.43 247.09H96.83Z" stroke="#52c3d6" stroke-width="1.35" fill="none"/><path d="M106.48 222.64L110.78 229.94H102.18Z" stroke="#52c3d6" stroke-width="1.35" fill="none"/><path d="M111.84 202.97L116.14 210.27H107.54Z" stroke="#52c3d6" stroke-width="1.35" fill="none"/><path d="M117.19 187.84L121.49 195.14H112.89Z" stroke="#52c3d6" stroke-width="1.35" fill="none"/><path d="M122.54 170.19L126.84 177.49H118.24Z" stroke="#52c3d6" stroke-width="1.35" fill="none"/><path d="M127.9 151.52L132.2 158.82H123.6Z" stroke="#52c3d6" stroke-width="1.35" fill="none"/><path d="M133.25 137.4L137.55 144.7H128.95Z" stroke="#52c3d6" stroke-width="1.35" fill="none"/><path d="M138.6 124.79L142.9 132.09H134.3Z" stroke="#52c3d6" stroke-width="1.35" fill="none"/><path d="M143.96 112.18L148.26 119.48H139.66Z" stroke="#52c3d6" stroke-width="1.35" fill="none"/><path d="M149.31 99.57L153.61 106.87H145.01Z" stroke="#52c3d6" stroke-width="1.35" fill="none"/><path d="M154.66 85.95L158.96 93.25H150.36Z" stroke="#52c3d6" stroke-width="1.35" fill="none"/><path d="M160.02 69.31L164.32 76.61H155.72Z" stroke="#52c3d6" stroke-width="1.35" fill="none"/><path d="M165.37 51.15L169.67 58.45H161.07Z" stroke="#52c3d6" stroke-width="1.35" fill="none"/><path d="M170.72 32.99L175.02 40.29H166.42Z" stroke="#52c3d6" stroke-width="1.35" fill="none"/><path d="M176.08 23.41L180.38 30.71H171.78Z" stroke="#52c3d6" stroke-width="1.35" fill="none"/><path d="M181.43 27.44L185.73 34.74H177.13Z" stroke="#52c3d6" stroke-width="1.35" fill="none"/><path d="M186.78 46.1L191.08 53.4H182.48Z" stroke="#52c3d6" stroke-width="1.35" fill="none"/><path d="M192.14 74.35L196.44 81.65H187.84Z" stroke="#52c3d6" stroke-width="1.35" fill="none"/><path d="M197.49 99.57L201.79 106.87H193.19Z" stroke="#52c3d6" stroke-width="1.35" fill="none"/><path d="M202.84 139.42L207.14 146.72H198.54Z" stroke="#52c3d6" stroke-width="1.35" fill="none"/><path d="M208.2 154.05L212.5 161.35H203.9Z" stroke="#52c3d6" stroke-width="1.35" fill="none"/><path d="M213.55 151.52L217.85 158.82H209.25Z" stroke="#52c3d6" stroke-width="1.35" fill="none"/><path d="M218.9 132.36L223.2 139.66H214.6Z" stroke="#52c3d6" stroke-width="1.35" fill="none"/><path d="M224.25 109.66L228.55 116.96H219.95Z" stroke="#52c3d6" stroke-width="1.35" fill="none"/><path d="M229.61 90.49L233.91 97.79H225.31Z" stroke="#52c3d6" stroke-width="1.35" fill="none"/><path d="M234.96 81.41L239.26 88.71H230.66Z" stroke="#52c3d6" stroke-width="1.35" fill="none"/><path d="M240.31 82.42L244.61 89.72H236.01Z" stroke="#52c3d6" stroke-width="1.35" fill="none"/><path d="M245.67 92L249.97 99.3H241.37Z" stroke="#52c3d6" stroke-width="1.35" fill="none"/><path d="M251.02 102.6L255.32 109.9H246.72Z" stroke="#52c3d6" stroke-width="1.35" fill="none"/><path d="M256.37 113.69L260.67 120.99H252.07Z" stroke="#52c3d6" stroke-width="1.35" fill="none"/><path d="M261.73 121.76L266.03 129.06H257.43Z" stroke="#52c3d6" stroke-width="1.35" fill="none"/><path d="M267.08 128.83L271.38 136.13H262.78Z" stroke="#52c3d6" stroke-width="1.35" fill="none"/><path d="M272.43 135.89L276.73 143.19H268.13Z" stroke="#52c3d6" stroke-width="1.35" fill="none"/><path d="M277.79 146.48L282.09 153.78H273.49Z" stroke="#52c3d6" stroke-width="1.35" fill="none"/><path d="M283.14 159.59L287.44 166.89H278.84Z" stroke="#52c3d6" stroke-width="1.35" fill="none"/><path d="M288.49 180.78L292.79 188.08H284.19Z" stroke="#52c3d6" stroke-width="1.35" fill="none"/><path d="M293.85 200.45L298.15 207.75H289.55Z" stroke="#52c3d6" stroke-width="1.35" fill="none"/><path d="M299.2 221.63L303.5 228.93H294.9Z" stroke="#52c3d6" stroke-width="1.35" fill="none"/><path d="M304.55 244.84L308.85 252.14H300.25Z" stroke="#52c3d6" stroke-width="1.35" fill="none"/><path d="M309.91 258.96L314.21 266.26H305.61Z" stroke="#52c3d6" stroke-width="1.35" fill="none"/><path d="M315.26 263.5L319.56 270.8H310.96Z" stroke="#52c3d6" stroke-width="1.35" fill="none"/><path d="M320.61 263.5L324.91 270.8H316.31Z" stroke="#52c3d6" stroke-width="1.35" fill="none"/><path d="M325.97 263.5L330.27 270.8H321.67Z" stroke="#52c3d6" stroke-width="1.35" fill="none"/><path d="M331.32 263.5L335.62 270.8H327.02Z" stroke="#52c3d6" stroke-width="1.35" fill="none"/><path d="M336.67 263.5L340.97 270.8H332.37Z" stroke="#52c3d6" stroke-width="1.35" fill="none"/><path d="M342.02 263.5L346.32 270.8H337.72Z" stroke="#52c3d6" stroke-width="1.35" fill="none"/><path d="M347.38 263.5L351.68 270.8H343.08Z" stroke="#52c3d6" stroke-width="1.35" fill="none"/><path d="M352.73 263.5L357.03 270.8H348.43Z" stroke="#52c3d6" stroke-width="1.35" fill="none"/><path d="M358.08 263.5L362.38 270.8H353.78Z" stroke="#52c3d6" stroke-width="1.35" fill="none"/><path d="M363.44 263.5L367.74 270.8H359.14Z" stroke="#52c3d6" stroke-width="1.35" fill="none"/><path d="M368.79 263.5L373.09 270.8H364.49Z" stroke="#52c3d6" stroke-width="1.35" fill="none"/><path d="M374.14 263.5L378.44 270.8H369.84Z" stroke="#52c3d6" stroke-width="1.35" fill="none"/><path d="M379.5 263.5L383.8 270.8H375.2Z" stroke="#52c3d6" stroke-width="1.35" fill="none"/><path d="M384.85 263.5L389.15 270.8H380.55Z" stroke="#52c3d6" stroke-width="1.35" fill="none"/>
</g>
<rect x="48" y="16" width="337" height="252.2" fill="none" stroke="#6a6a6a" stroke-width="1.7"/>
<path d="M47.6 268.2V264.2M47.6 16V20M67.9 268.2V265.8M67.9 16V18.4M79.78 268.2V265.8M79.78 16V18.4M88.21 268.2V265.8M88.21 16V18.4M94.75 268.2V265.8M94.75 16V18.4M100.09 268.2V265.8M100.09 16V18.4M104.6 268.2V265.8M104.6 16V18.4M108.51 268.2V265.8M108.51 16V18.4M111.96 268.2V265.8M111.96 16V18.4M115.05 268.2V264.2M115.05 16V20M135.35 268.2V265.8M135.35 16V18.4M147.23 268.2V265.8M147.23 16V18.4M155.66 268.2V265.8M155.66 16V18.4M162.2 268.2V265.8M162.2 16V18.4M167.54 268.2V265.8M167.54 16V18.4M172.05 268.2V265.8M172.05 16V18.4M175.96 268.2V265.8M175.96 16V18.4M179.41 268.2V265.8M179.41 16V18.4M182.5 268.2V264.2M182.5 16V20M202.8 268.2V265.8M202.8 16V18.4M214.68 268.2V265.8M214.68 16V18.4M223.11 268.2V265.8M223.11 16V18.4M229.65 268.2V265.8M229.65 16V18.4M234.99 268.2V265.8M234.99 16V18.4M239.5 268.2V265.8M239.5 16V18.4M243.41 268.2V265.8M243.41 16V18.4M246.86 268.2V265.8M246.86 16V18.4M249.95 268.2V264.2M249.95 16V20M270.25 268.2V265.8M270.25 16V18.4M282.13 268.2V265.8M282.13 16V18.4M290.56 268.2V265.8M290.56 16V18.4M297.1 268.2V265.8M297.1 16V18.4M302.44 268.2V265.8M302.44 16V18.4M306.95 268.2V265.8M306.95 16V18.4M310.86 268.2V265.8M310.86 16V18.4M314.31 268.2V265.8M314.31 16V18.4M317.4 268.2V264.2M317.4 16V20M337.7 268.2V265.8M337.7 16V18.4M349.58 268.2V265.8M349.58 16V18.4M358.01 268.2V265.8M358.01 16V18.4M364.55 268.2V265.8M364.55 16V18.4M369.89 268.2V265.8M369.89 16V18.4M374.4 268.2V265.8M374.4 16V18.4M378.31 268.2V265.8M378.31 16V18.4M381.76 268.2V265.8M381.76 16V18.4M48 268.2H51.4M385 268.2H381.6M48 217.76H51.4M385 217.76H381.6M48 167.32H51.4M385 167.32H381.6M48 116.88H51.4M385 116.88H381.6M48 66.44H51.4M385 66.44H381.6M48 16H51.4M385 16H381.6" stroke="#4a4a4a" stroke-width="0.9" fill="none"/>
<g fill="#000"><text x="35.7" y="286.9" font-size="10.0">10<tspan font-size="6.3" dx="0.6" dy="-3.4">-1</tspan></text><text x="105.3" y="286.9" font-size="10.0">10<tspan font-size="6.3" dx="0.6" dy="-3.4">0</tspan></text><text x="173.8" y="286.9" font-size="10.0">10<tspan font-size="6.3" dx="0.6" dy="-3.4">1</tspan></text><text x="241.6" y="286.9" font-size="10.0">10<tspan font-size="6.3" dx="0.6" dy="-3.4">2</tspan></text><text x="310" y="286.9" font-size="10.0">10<tspan font-size="6.3" dx="0.6" dy="-3.4">3</tspan></text><text x="378.3" y="286.9" font-size="10.0">10<tspan font-size="6.3" dx="0.6" dy="-3.4">4</tspan></text><text x="43.4" y="272.28" font-size="10.0" text-anchor="end">0</text><text x="42.1" y="221.84" font-size="10.0" text-anchor="end">0.1</text><text x="42.1" y="171.4" font-size="10.0" text-anchor="end">0.2</text><text x="42.1" y="120.96" font-size="10.0" text-anchor="end">0.3</text><text x="42.1" y="70.52" font-size="10.0" text-anchor="end">0.4</text><text x="42.1" y="20.08" font-size="10.0" text-anchor="end">0.5</text></g>
<text x="51.3" y="35.7" font-size="17" font-weight="bold" fill="#000">(a)</text>
<text x="75.9" y="35.7" font-size="13.2" fill="#000">Norm smoothing</text>
<text x="198.8" y="305" font-size="13.5" fill="#000">T<tspan font-size="8.8" dy="4.8">2</tspan><tspan dy="-4.8">, ms</tspan></text>
<text transform="translate(11.2 139.75) rotate(-90)" x="0" y="0" font-size="13.1" text-anchor="middle" fill="#000">Porosity, p.u.</text>
<path d="M266.6 26.8H298.1" stroke="#000" stroke-width="1.7"/>
<text x="302.3" y="29.8" font-size="10.9" fill="#000">Model</text>
<path d="M266.6 41.2H298.1" stroke="#56b93a" stroke-width="1.1" stroke-dasharray="6 5.75"/>
<path d="M278.75 41.2H285.95M282.35 37.6V44.8" stroke="#56b93a" stroke-width="1.55" fill="none"/>
<text x="302.3" y="44.2" font-size="10.9" fill="#000">DP</text>
<path d="M266.6 55.6H298.1" stroke="#2446a8" stroke-width="1.1" stroke-dasharray="6 5.75"/>
<circle cx="282.35" cy="55.6" r="3.4" stroke="#2446a8" stroke-width="1.35" fill="none"/>
<text x="302.3" y="58.6" font-size="10.9" fill="#000">GCV</text>
<path d="M266.6 70H298.1" stroke="#b040b0" stroke-width="1.1" stroke-dasharray="6 5.75"/>
<path d="M279.65 70H285.05M280.35 68L284.35 72M280.35 72L284.35 68" stroke="#b040b0" stroke-width="0.9" fill="none"/>
<text x="302.3" y="73" font-size="10.9" fill="#000">S-curve</text>
<path d="M266.6 84.4H298.1" stroke="#e3241f" stroke-width="1.1" stroke-dasharray="6 5.75"/>
<rect x="279.15" y="81.2" width="6.4" height="6.4" stroke="#e3241f" stroke-width="1.45" fill="none"/>
<text x="302.3" y="87.4" font-size="10.9" fill="#000">L-curve</text>
<path d="M266.6 98.8H298.1" stroke="#52c3d6" stroke-width="1.1" stroke-dasharray="6 5.75"/>
<path d="M282.35 94.1L286.65 101.4H278.05Z" stroke="#52c3d6" stroke-width="1.35" fill="none"/>
<text x="302.3" y="101.8" font-size="10.9" fill="#000">Slope of L-curve</text>
<clipPath id="clipB"><rect x="462.9" y="11.4" width="346.25" height="262.4"/></clipPath>
<g clip-path="url(#clipB)">
<path d="M468.9 267.8 L474.21 267.79 L479.51 267.78 L484.82 267.76 L490.12 267.7 L495.43 267.59 L500.73 267.35 L506.04 266.9 L511.34 266.04 L516.65 264.52 L521.96 261.95 L527.26 257.78 L532.57 251.35 L537.87 241.92 L543.18 228.79 L548.48 211.43 L553.79 189.75 L559.09 164.21 L564.4 136.03 L569.71 107.13 L575.01 80 L580.32 57.31 L585.62 41.51 L590.93 34.25 L596.23 36.09 L601.54 46.25 L606.84 62.75 L612.15 82.69 L617.46 102.76 L622.76 119.86 L628.07 128.57 L633.37 134.08 L638.68 134.31 L643.98 127.43 L649.29 116.56 L654.59 104.91 L659.9 95.28 L665.21 90.07 L670.51 90.86 L675.82 98.23 L681.12 111.68 L686.43 129.88 L691.73 150.97 L697.04 172.93 L702.34 193.97 L707.65 212.74 L712.96 228.45 L718.26 240.86 L723.57 250.12 L728.87 256.69 L734.18 261.1 L739.48 263.93 L744.79 265.66 L750.09 266.67 L755.4 267.22 L760.71 267.52 L766.01 267.67 L771.32 267.74 L776.62 267.78 L781.93 267.79 L787.23 267.8 L792.54 267.8 L797.84 267.8 L803.15 267.8" stroke="#000" stroke-width="1.6" fill="none" stroke-linejoin="round"/>
<path d="M468.9 265.3 L474.21 262.99 L479.51 259.29 L484.82 254.28 L490.12 249.02 L495.43 242.26 L500.73 234.25 L506.04 226.23 L511.34 217.72 L516.65 208.71 L521.96 198.19 L527.26 189.68 L532.57 178.66 L537.87 169.14 L543.18 159.63 L548.48 151.11 L553.79 141.6 L559.09 133.59 L564.4 124.07 L569.71 115.06 L575.01 107.54 L580.32 101.03 L585.62 96.03 L590.93 91.52 L596.23 88.01 L601.54 85.51 L606.84 84.51 L612.15 83.51 L617.46 83.51 L622.76 84.51 L628.07 84.51 L633.37 85.51 L638.68 88.01 L643.98 91.02 L649.29 95.52 L654.59 100.03 L659.9 104.54 L665.21 112.05 L670.51 122.07 L675.82 131.08 L681.12 140.6 L686.43 151.61 L691.73 163.13 L697.04 175.65 L702.34 188.67 L707.65 201.19 L712.96 213.21 L718.26 225.23 L723.57 234.25 L728.87 244.26 L734.18 252.28 L739.48 257.78 L744.79 262.29 L750.09 264.29 L755.4 265.8 L760.71 266.8 L766.01 267.8 L771.32 267.8 L776.62 267.8 L781.93 267.8 L787.23 267.8 L792.54 267.8 L797.84 267.8 L803.15 267.8" stroke="#56b93a" stroke-width="1" fill="none" stroke-dasharray="5 4"/>
<path d="M465.3 265.3H472.5M468.9 261.7V268.9" stroke="#56b93a" stroke-width="1.55" fill="none"/><path d="M470.61 262.99H477.81M474.21 259.39V266.59" stroke="#56b93a" stroke-width="1.55" fill="none"/><path d="M475.91 259.29H483.11M479.51 255.69V262.89" stroke="#56b93a" stroke-width="1.55" fill="none"/><path d="M481.22 254.28H488.42M484.82 250.68V257.88" stroke="#56b93a" stroke-width="1.55" fill="none"/><path d="M486.52 249.02H493.72M490.12 245.42V252.62" stroke="#56b93a" stroke-width="1.55" fill="none"/><path d="M491.83 242.26H499.03M495.43 238.66V245.86" stroke="#56b93a" stroke-width="1.55" fill="none"/><path d="M497.13 234.25H504.33M500.73 230.65V237.85" stroke="#56b93a" stroke-width="1.55" fill="none"/><path d="M502.44 226.23H509.64M506.04 222.63V229.83" stroke="#56b93a" stroke-width="1.55" fill="none"/><path d="M507.74 217.72H514.94M511.34 214.12V221.32" stroke="#56b93a" stroke-width="1.55" fill="none"/><path d="M513.05 208.71H520.25M516.65 205.11V212.31" stroke="#56b93a" stroke-width="1.55" fill="none"/><path d="M518.36 198.19H525.56M521.96 194.59V201.79" stroke="#56b93a" stroke-width="1.55" fill="none"/><path d="M523.66 189.68H530.86M527.26 186.08V193.28" stroke="#56b93a" stroke-width="1.55" fill="none"/><path d="M528.97 178.66H536.17M532.57 175.06V182.26" stroke="#56b93a" stroke-width="1.55" fill="none"/><path d="M534.27 169.14H541.47M537.87 165.54V172.74" stroke="#56b93a" stroke-width="1.55" fill="none"/><path d="M539.58 159.63H546.78M543.18 156.03V163.23" stroke="#56b93a" stroke-width="1.55" fill="none"/><path d="M544.88 151.11H552.08M548.48 147.51V154.71" stroke="#56b93a" stroke-width="1.55" fill="none"/><path d="M550.19 141.6H557.39M553.79 138V145.2" stroke="#56b93a" stroke-width="1.55" fill="none"/><path d="M555.49 133.59H562.69M559.09 129.99V137.19" stroke="#56b93a" stroke-width="1.55" fill="none"/><path d="M560.8 124.07H568M564.4 120.47V127.67" stroke="#56b93a" stroke-width="1.55" fill="none"/><path d="M566.11 115.06H573.31M569.71 111.46V118.66" stroke="#56b93a" stroke-width="1.55" fill="none"/><path d="M571.41 107.54H578.61M575.01 103.94V111.14" stroke="#56b93a" stroke-width="1.55" fill="none"/><path d="M576.72 101.03H583.92M580.32 97.43V104.63" stroke="#56b93a" stroke-width="1.55" fill="none"/><path d="M582.02 96.03H589.22M585.62 92.43V99.63" stroke="#56b93a" stroke-width="1.55" fill="none"/><path d="M587.33 91.52H594.53M590.93 87.92V95.12" stroke="#56b93a" stroke-width="1.55" fill="none"/><path d="M592.63 88.01H599.83M596.23 84.41V91.61" stroke="#56b93a" stroke-width="1.55" fill="none"/><path d="M597.94 85.51H605.14M601.54 81.91V89.11" stroke="#56b93a" stroke-width="1.55" fill="none"/><path d="M603.24 84.51H610.44M606.84 80.91V88.11" stroke="#56b93a" stroke-width="1.55" fill="none"/><path d="M608.55 83.51H615.75M612.15 79.91V87.11" stroke="#56b93a" stroke-width="1.55" fill="none"/><path d="M613.86 83.51H621.06M617.46 79.91V87.11" stroke="#56b93a" stroke-width="1.55" fill="none"/><path d="M619.16 84.51H626.36M622.76 80.91V88.11" stroke="#56b93a" stroke-width="1.55" fill="none"/><path d="M624.47 84.51H631.67M628.07 80.91V88.11" stroke="#56b93a" stroke-width="1.55" fill="none"/><path d="M629.77 85.51H636.97M633.37 81.91V89.11" stroke="#56b93a" stroke-width="1.55" fill="none"/><path d="M635.08 88.01H642.28M638.68 84.41V91.61" stroke="#56b93a" stroke-width="1.55" fill="none"/><path d="M640.38 91.02H647.58M643.98 87.42V94.62" stroke="#56b93a" stroke-width="1.55" fill="none"/><path d="M645.69 95.52H652.89M649.29 91.92V99.12" stroke="#56b93a" stroke-width="1.55" fill="none"/><path d="M650.99 100.03H658.19M654.59 96.43V103.63" stroke="#56b93a" stroke-width="1.55" fill="none"/><path d="M656.3 104.54H663.5M659.9 100.94V108.14" stroke="#56b93a" stroke-width="1.55" fill="none"/><path d="M661.61 112.05H668.81M665.21 108.45V115.65" stroke="#56b93a" stroke-width="1.55" fill="none"/><path d="M666.91 122.07H674.11M670.51 118.47V125.67" stroke="#56b93a" stroke-width="1.55" fill="none"/><path d="M672.22 131.08H679.42M675.82 127.48V134.68" stroke="#56b93a" stroke-width="1.55" fill="none"/><path d="M677.52 140.6H684.72M681.12 137V144.2" stroke="#56b93a" stroke-width="1.55" fill="none"/><path d="M682.83 151.61H690.03M686.43 148.01V155.21" stroke="#56b93a" stroke-width="1.55" fill="none"/><path d="M688.13 163.13H695.33M691.73 159.53V166.73" stroke="#56b93a" stroke-width="1.55" fill="none"/><path d="M693.44 175.65H700.64M697.04 172.05V179.25" stroke="#56b93a" stroke-width="1.55" fill="none"/><path d="M698.74 188.67H705.94M702.34 185.07V192.27" stroke="#56b93a" stroke-width="1.55" fill="none"/><path d="M704.05 201.19H711.25M707.65 197.59V204.79" stroke="#56b93a" stroke-width="1.55" fill="none"/><path d="M709.36 213.21H716.56M712.96 209.61V216.81" stroke="#56b93a" stroke-width="1.55" fill="none"/><path d="M714.66 225.23H721.86M718.26 221.63V228.83" stroke="#56b93a" stroke-width="1.55" fill="none"/><path d="M719.97 234.25H727.17M723.57 230.65V237.85" stroke="#56b93a" stroke-width="1.55" fill="none"/><path d="M725.27 244.26H732.47M728.87 240.66V247.86" stroke="#56b93a" stroke-width="1.55" fill="none"/><path d="M730.58 252.28H737.78M734.18 248.68V255.88" stroke="#56b93a" stroke-width="1.55" fill="none"/><path d="M735.88 257.78H743.08M739.48 254.18V261.38" stroke="#56b93a" stroke-width="1.55" fill="none"/><path d="M741.19 262.29H748.39M744.79 258.69V265.89" stroke="#56b93a" stroke-width="1.55" fill="none"/><path d="M746.49 264.29H753.69M750.09 260.69V267.89" stroke="#56b93a" stroke-width="1.55" fill="none"/><path d="M751.8 265.8H759M755.4 262.2V269.4" stroke="#56b93a" stroke-width="1.55" fill="none"/><path d="M757.11 266.8H764.31M760.71 263.2V270.4" stroke="#56b93a" stroke-width="1.55" fill="none"/><path d="M762.41 267.8H769.61M766.01 264.2V271.4" stroke="#56b93a" stroke-width="1.55" fill="none"/><path d="M767.72 267.8H774.92M771.32 264.2V271.4" stroke="#56b93a" stroke-width="1.55" fill="none"/><path d="M773.02 267.8H780.22M776.62 264.2V271.4" stroke="#56b93a" stroke-width="1.55" fill="none"/><path d="M778.33 267.8H785.53M781.93 264.2V271.4" stroke="#56b93a" stroke-width="1.55" fill="none"/><path d="M783.63 267.8H790.83M787.23 264.2V271.4" stroke="#56b93a" stroke-width="1.55" fill="none"/><path d="M788.94 267.8H796.14M792.54 264.2V271.4" stroke="#56b93a" stroke-width="1.55" fill="none"/><path d="M794.24 267.8H801.44M797.84 264.2V271.4" stroke="#56b93a" stroke-width="1.55" fill="none"/><path d="M799.55 267.8H806.75M803.15 264.2V271.4" stroke="#56b93a" stroke-width="1.55" fill="none"/>
<path d="M468.9 267.8 L474.21 267.8 L479.51 266.3 L484.82 263.79 L490.12 260.49 L495.43 256.03 L500.73 251.77 L506.04 244.76 L511.34 237.75 L516.65 227.49 L521.96 216.72 L527.26 204.7 L532.57 189.17 L537.87 174.65 L543.18 158.63 L548.48 142.6 L553.79 126.57 L559.09 112.05 L564.4 98.03 L569.71 86.01 L575.01 76.49 L580.32 69.48 L585.62 66.48 L590.93 66.23 L596.23 67.98 L601.54 74.49 L606.84 83.51 L612.15 93.52 L617.46 103.04 L622.76 111.05 L628.07 117.56 L633.37 121.07 L638.68 123.07 L643.98 121.07 L649.29 117.56 L654.59 113.55 L659.9 109.55 L665.21 107.54 L670.51 108.55 L675.82 111.05 L681.12 115.56 L686.43 123.57 L691.73 136.59 L697.04 152.62 L702.34 173.65 L707.65 193.68 L712.96 213.71 L718.26 231.74 L723.57 247.27 L728.87 257.28 L734.18 263.79 L739.48 267.8 L744.79 267.8 L750.09 267.8 L755.4 267.8 L760.71 267.8 L766.01 267.8 L771.32 267.8 L776.62 267.8 L781.93 267.8 L787.23 267.8 L792.54 267.8 L797.84 267.8 L803.15 267.8" stroke="#2446a8" stroke-width="1" fill="none" stroke-dasharray="5 4"/>
<circle cx="468.9" cy="267.8" r="3.4" stroke="#2446a8" stroke-width="1.35" fill="none"/><circle cx="474.21" cy="267.8" r="3.4" stroke="#2446a8" stroke-width="1.35" fill="none"/><circle cx="479.51" cy="266.3" r="3.4" stroke="#2446a8" stroke-width="1.35" fill="none"/><circle cx="484.82" cy="263.79" r="3.4" stroke="#2446a8" stroke-width="1.35" fill="none"/><circle cx="490.12" cy="260.49" r="3.4" stroke="#2446a8" stroke-width="1.35" fill="none"/><circle cx="495.43" cy="256.03" r="3.4" stroke="#2446a8" stroke-width="1.35" fill="none"/><circle cx="500.73" cy="251.77" r="3.4" stroke="#2446a8" stroke-width="1.35" fill="none"/><circle cx="506.04" cy="244.76" r="3.4" stroke="#2446a8" stroke-width="1.35" fill="none"/><circle cx="511.34" cy="237.75" r="3.4" stroke="#2446a8" stroke-width="1.35" fill="none"/><circle cx="516.65" cy="227.49" r="3.4" stroke="#2446a8" stroke-width="1.35" fill="none"/><circle cx="521.96" cy="216.72" r="3.4" stroke="#2446a8" stroke-width="1.35" fill="none"/><circle cx="527.26" cy="204.7" r="3.4" stroke="#2446a8" stroke-width="1.35" fill="none"/><circle cx="532.57" cy="189.17" r="3.4" stroke="#2446a8" stroke-width="1.35" fill="none"/><circle cx="537.87" cy="174.65" r="3.4" stroke="#2446a8" stroke-width="1.35" fill="none"/><circle cx="543.18" cy="158.63" r="3.4" stroke="#2446a8" stroke-width="1.35" fill="none"/><circle cx="548.48" cy="142.6" r="3.4" stroke="#2446a8" stroke-width="1.35" fill="none"/><circle cx="553.79" cy="126.57" r="3.4" stroke="#2446a8" stroke-width="1.35" fill="none"/><circle cx="559.09" cy="112.05" r="3.4" stroke="#2446a8" stroke-width="1.35" fill="none"/><circle cx="564.4" cy="98.03" r="3.4" stroke="#2446a8" stroke-width="1.35" fill="none"/><circle cx="569.71" cy="86.01" r="3.4" stroke="#2446a8" stroke-width="1.35" fill="none"/><circle cx="575.01" cy="76.49" r="3.4" stroke="#2446a8" stroke-width="1.35" fill="none"/><circle cx="580.32" cy="69.48" r="3.4" stroke="#2446a8" stroke-width="1.35" fill="none"/><circle cx="585.62" cy="66.48" r="3.4" stroke="#2446a8" stroke-width="1.35" fill="none"/><circle cx="590.93" cy="66.23" r="3.4" stroke="#2446a8" stroke-width="1.35" fill="none"/><circle cx="596.23" cy="67.98" r="3.4" stroke="#2446a8" stroke-width="1.35" fill="none"/><circle cx="601.54" cy="74.49" r="3.4" stroke="#2446a8" stroke-width="1.35" fill="none"/><circle cx="606.84" cy="83.51" r="3.4" stroke="#2446a8" stroke-width="1.35" fill="none"/><circle cx="612.15" cy="93.52" r="3.4" stroke="#2446a8" stroke-width="1.35" fill="none"/><circle cx="617.46" cy="103.04" r="3.4" stroke="#2446a8" stroke-width="1.35" fill="none"/><circle cx="622.76" cy="111.05" r="3.4" stroke="#2446a8" stroke-width="1.35" fill="none"/><circle cx="628.07" cy="117.56" r="3.4" stroke="#2446a8" stroke-width="1.35" fill="none"/><circle cx="633.37" cy="121.07" r="3.4" stroke="#2446a8" stroke-width="1.35" fill="none"/><circle cx="638.68" cy="123.07" r="3.4" stroke="#2446a8" stroke-width="1.35" fill="none"/><circle cx="643.98" cy="121.07" r="3.4" stroke="#2446a8" stroke-width="1.35" fill="none"/><circle cx="649.29" cy="117.56" r="3.4" stroke="#2446a8" stroke-width="1.35" fill="none"/><circle cx="654.59" cy="113.55" r="3.4" stroke="#2446a8" stroke-width="1.35" fill="none"/><circle cx="659.9" cy="109.55" r="3.4" stroke="#2446a8" stroke-width="1.35" fill="none"/><circle cx="665.21" cy="107.54" r="3.4" stroke="#2446a8" stroke-width="1.35" fill="none"/><circle cx="670.51" cy="108.55" r="3.4" stroke="#2446a8" stroke-width="1.35" fill="none"/><circle cx="675.82" cy="111.05" r="3.4" stroke="#2446a8" stroke-width="1.35" fill="none"/><circle cx="681.12" cy="115.56" r="3.4" stroke="#2446a8" stroke-width="1.35" fill="none"/><circle cx="686.43" cy="123.57" r="3.4" stroke="#2446a8" stroke-width="1.35" fill="none"/><circle cx="691.73" cy="136.59" r="3.4" stroke="#2446a8" stroke-width="1.35" fill="none"/><circle cx="697.04" cy="152.62" r="3.4" stroke="#2446a8" stroke-width="1.35" fill="none"/><circle cx="702.34" cy="173.65" r="3.4" stroke="#2446a8" stroke-width="1.35" fill="none"/><circle cx="707.65" cy="193.68" r="3.4" stroke="#2446a8" stroke-width="1.35" fill="none"/><circle cx="712.96" cy="213.71" r="3.4" stroke="#2446a8" stroke-width="1.35" fill="none"/><circle cx="718.26" cy="231.74" r="3.4" stroke="#2446a8" stroke-width="1.35" fill="none"/><circle cx="723.57" cy="247.27" r="3.4" stroke="#2446a8" stroke-width="1.35" fill="none"/><circle cx="728.87" cy="257.28" r="3.4" stroke="#2446a8" stroke-width="1.35" fill="none"/><circle cx="734.18" cy="263.79" r="3.4" stroke="#2446a8" stroke-width="1.35" fill="none"/><circle cx="739.48" cy="267.8" r="3.4" stroke="#2446a8" stroke-width="1.35" fill="none"/><circle cx="744.79" cy="267.8" r="3.4" stroke="#2446a8" stroke-width="1.35" fill="none"/><circle cx="750.09" cy="267.8" r="3.4" stroke="#2446a8" stroke-width="1.35" fill="none"/><circle cx="755.4" cy="267.8" r="3.4" stroke="#2446a8" stroke-width="1.35" fill="none"/><circle cx="760.71" cy="267.8" r="3.4" stroke="#2446a8" stroke-width="1.35" fill="none"/><circle cx="766.01" cy="267.8" r="3.4" stroke="#2446a8" stroke-width="1.35" fill="none"/><circle cx="771.32" cy="267.8" r="3.4" stroke="#2446a8" stroke-width="1.35" fill="none"/><circle cx="776.62" cy="267.8" r="3.4" stroke="#2446a8" stroke-width="1.35" fill="none"/><circle cx="781.93" cy="267.8" r="3.4" stroke="#2446a8" stroke-width="1.35" fill="none"/><circle cx="787.23" cy="267.8" r="3.4" stroke="#2446a8" stroke-width="1.35" fill="none"/><circle cx="792.54" cy="267.8" r="3.4" stroke="#2446a8" stroke-width="1.35" fill="none"/><circle cx="797.84" cy="267.8" r="3.4" stroke="#2446a8" stroke-width="1.35" fill="none"/><circle cx="803.15" cy="267.8" r="3.4" stroke="#2446a8" stroke-width="1.35" fill="none"/>
<path d="M468.9 267.8 L474.21 267.8 L479.51 266.3 L484.82 263.79 L490.12 260.79 L495.43 256.78 L500.73 252.28 L506.04 245.76 L511.34 238.75 L516.65 228.74 L521.96 217.72 L527.26 205.2 L532.57 189.68 L537.87 174.65 L543.18 158.63 L548.48 142.1 L553.79 125.57 L559.09 110.55 L564.4 96.53 L569.71 84.51 L575.01 74.99 L580.32 67.98 L585.62 64.98 L590.93 64.48 L596.23 66.48 L601.54 73.49 L606.84 83 L612.15 93.52 L617.46 103.54 L622.76 112.05 L628.07 118.56 L633.37 122.57 L638.68 124.07 L643.98 122.07 L649.29 118.06 L654.59 113.55 L659.9 109.55 L665.21 107.54 L670.51 108.55 L675.82 111.05 L681.12 115.56 L686.43 124.07 L691.73 136.59 L697.04 152.62 L702.34 173.65 L707.65 193.68 L712.96 213.71 L718.26 231.74 L723.57 247.27 L728.87 257.28 L734.18 263.79 L739.48 267.8 L744.79 267.8 L750.09 267.8 L755.4 267.8 L760.71 267.8 L766.01 267.8 L771.32 267.8 L776.62 267.8 L781.93 267.8 L787.23 267.8 L792.54 267.8 L797.84 267.8 L803.15 267.8" stroke="#b040b0" stroke-width="1" fill="none" stroke-dasharray="5 4"/>
<path d="M466.2 267.8H471.6M466.9 265.8L470.9 269.8M466.9 269.8L470.9 265.8" stroke="#b040b0" stroke-width="0.9" fill="none"/><path d="M471.51 267.8H476.91M472.21 265.8L476.21 269.8M472.21 269.8L476.21 265.8" stroke="#b040b0" stroke-width="0.9" fill="none"/><path d="M476.81 266.3H482.21M477.51 264.3L481.51 268.3M477.51 268.3L481.51 264.3" stroke="#b040b0" stroke-width="0.9" fill="none"/><path d="M482.12 263.79H487.52M482.82 261.79L486.82 265.79M482.82 265.79L486.82 261.79" stroke="#b040b0" stroke-width="0.9" fill="none"/><path d="M487.42 260.79H492.82M488.12 258.79L492.12 262.79M488.12 262.79L492.12 258.79" stroke="#b040b0" stroke-width="0.9" fill="none"/><path d="M492.73 256.78H498.13M493.43 254.78L497.43 258.78M493.43 258.78L497.43 254.78" stroke="#b040b0" stroke-width="0.9" fill="none"/><path d="M498.03 252.28H503.43M498.73 250.28L502.73 254.28M498.73 254.28L502.73 250.28" stroke="#b040b0" stroke-width="0.9" fill="none"/><path d="M503.34 245.76H508.74M504.04 243.76L508.04 247.76M504.04 247.76L508.04 243.76" stroke="#b040b0" stroke-width="0.9" fill="none"/><path d="M508.64 238.75H514.04M509.34 236.75L513.34 240.75M509.34 240.75L513.34 236.75" stroke="#b040b0" stroke-width="0.9" fill="none"/><path d="M513.95 228.74H519.35M514.65 226.74L518.65 230.74M514.65 230.74L518.65 226.74" stroke="#b040b0" stroke-width="0.9" fill="none"/><path d="M519.26 217.72H524.66M519.96 215.72L523.96 219.72M519.96 219.72L523.96 215.72" stroke="#b040b0" stroke-width="0.9" fill="none"/><path d="M524.56 205.2H529.96M525.26 203.2L529.26 207.2M525.26 207.2L529.26 203.2" stroke="#b040b0" stroke-width="0.9" fill="none"/><path d="M529.87 189.68H535.27M530.57 187.68L534.57 191.68M530.57 191.68L534.57 187.68" stroke="#b040b0" stroke-width="0.9" fill="none"/><path d="M535.17 174.65H540.57M535.87 172.65L539.87 176.65M535.87 176.65L539.87 172.65" stroke="#b040b0" stroke-width="0.9" fill="none"/><path d="M540.48 158.63H545.88M541.18 156.63L545.18 160.63M541.18 160.63L545.18 156.63" stroke="#b040b0" stroke-width="0.9" fill="none"/><path d="M545.78 142.1H551.18M546.48 140.1L550.48 144.1M546.48 144.1L550.48 140.1" stroke="#b040b0" stroke-width="0.9" fill="none"/><path d="M551.09 125.57H556.49M551.79 123.57L555.79 127.57M551.79 127.57L555.79 123.57" stroke="#b040b0" stroke-width="0.9" fill="none"/><path d="M556.39 110.55H561.79M557.09 108.55L561.09 112.55M557.09 112.55L561.09 108.55" stroke="#b040b0" stroke-width="0.9" fill="none"/><path d="M561.7 96.53H567.1M562.4 94.53L566.4 98.53M562.4 98.53L566.4 94.53" stroke="#b040b0" stroke-width="0.9" fill="none"/><path d="M567.01 84.51H572.41M567.71 82.51L571.71 86.51M567.71 86.51L571.71 82.51" stroke="#b040b0" stroke-width="0.9" fill="none"/><path d="M572.31 74.99H577.71M573.01 72.99L577.01 76.99M573.01 76.99L577.01 72.99" stroke="#b040b0" stroke-width="0.9" fill="none"/><path d="M577.62 67.98H583.02M578.32 65.98L582.32 69.98M578.32 69.98L582.32 65.98" stroke="#b040b0" stroke-width="0.9" fill="none"/><path d="M582.92 64.98H588.32M583.62 62.98L587.62 66.98M583.62 66.98L587.62 62.98" stroke="#b040b0" stroke-width="0.9" fill="none"/><path d="M588.23 64.48H593.63M588.93 62.48L592.93 66.48M588.93 66.48L592.93 62.48" stroke="#b040b0" stroke-width="0.9" fill="none"/><path d="M593.53 66.48H598.93M594.23 64.48L598.23 68.48M594.23 68.48L598.23 64.48" stroke="#b040b0" stroke-width="0.9" fill="none"/><path d="M598.84 73.49H604.24M599.54 71.49L603.54 75.49M599.54 75.49L603.54 71.49" stroke="#b040b0" stroke-width="0.9" fill="none"/><path d="M604.14 83H609.54M604.84 81L608.84 85M604.84 85L608.84 81" stroke="#b040b0" stroke-width="0.9" fill="none"/><path d="M609.45 93.52H614.85M610.15 91.52L614.15 95.52M610.15 95.52L614.15 91.52" stroke="#b040b0" stroke-width="0.9" fill="none"/><path d="M614.76 103.54H620.16M615.46 101.54L619.46 105.54M615.46 105.54L619.46 101.54" stroke="#b040b0" stroke-width="0.9" fill="none"/><path d="M620.06 112.05H625.46M620.76 110.05L624.76 114.05M620.76 114.05L624.76 110.05" stroke="#b040b0" stroke-width="0.9" fill="none"/><path d="M625.37 118.56H630.77M626.07 116.56L630.07 120.56M626.07 120.56L630.07 116.56" stroke="#b040b0" stroke-width="0.9" fill="none"/><path d="M630.67 122.57H636.07M631.37 120.57L635.37 124.57M631.37 124.57L635.37 120.57" stroke="#b040b0" stroke-width="0.9" fill="none"/><path d="M635.98 124.07H641.38M636.68 122.07L640.68 126.07M636.68 126.07L640.68 122.07" stroke="#b040b0" stroke-width="0.9" fill="none"/><path d="M641.28 122.07H646.68M641.98 120.07L645.98 124.07M641.98 124.07L645.98 120.07" stroke="#b040b0" stroke-width="0.9" fill="none"/><path d="M646.59 118.06H651.99M647.29 116.06L651.29 120.06M647.29 120.06L651.29 116.06" stroke="#b040b0" stroke-width="0.9" fill="none"/><path d="M651.89 113.55H657.29M652.59 111.55L656.59 115.55M652.59 115.55L656.59 111.55" stroke="#b040b0" stroke-width="0.9" fill="none"/><path d="M657.2 109.55H662.6M657.9 107.55L661.9 111.55M657.9 111.55L661.9 107.55" stroke="#b040b0" stroke-width="0.9" fill="none"/><path d="M662.51 107.54H667.91M663.21 105.54L667.21 109.54M663.21 109.54L667.21 105.54" stroke="#b040b0" stroke-width="0.9" fill="none"/><path d="M667.81 108.55H673.21M668.51 106.55L672.51 110.55M668.51 110.55L672.51 106.55" stroke="#b040b0" stroke-width="0.9" fill="none"/><path d="M673.12 111.05H678.52M673.82 109.05L677.82 113.05M673.82 113.05L677.82 109.05" stroke="#b040b0" stroke-width="0.9" fill="none"/><path d="M678.42 115.56H683.82M679.12 113.56L683.12 117.56M679.12 117.56L683.12 113.56" stroke="#b040b0" stroke-width="0.9" fill="none"/><path d="M683.73 124.07H689.13M684.43 122.07L688.43 126.07M684.43 126.07L688.43 122.07" stroke="#b040b0" stroke-width="0.9" fill="none"/><path d="M689.03 136.59H694.43M689.73 134.59L693.73 138.59M689.73 138.59L693.73 134.59" stroke="#b040b0" stroke-width="0.9" fill="none"/><path d="M694.34 152.62H699.74M695.04 150.62L699.04 154.62M695.04 154.62L699.04 150.62" stroke="#b040b0" stroke-width="0.9" fill="none"/><path d="M699.64 173.65H705.04M700.34 171.65L704.34 175.65M700.34 175.65L704.34 171.65" stroke="#b040b0" stroke-width="0.9" fill="none"/><path d="M704.95 193.68H710.35M705.65 191.68L709.65 195.68M705.65 195.68L709.65 191.68" stroke="#b040b0" stroke-width="0.9" fill="none"/><path d="M710.26 213.71H715.66M710.96 211.71L714.96 215.71M710.96 215.71L714.96 211.71" stroke="#b040b0" stroke-width="0.9" fill="none"/><path d="M715.56 231.74H720.96M716.26 229.74L720.26 233.74M716.26 233.74L720.26 229.74" stroke="#b040b0" stroke-width="0.9" fill="none"/><path d="M720.87 247.27H726.27M721.57 245.27L725.57 249.27M721.57 249.27L725.57 245.27" stroke="#b040b0" stroke-width="0.9" fill="none"/><path d="M726.17 257.28H731.57M726.87 255.28L730.87 259.28M726.87 259.28L730.87 255.28" stroke="#b040b0" stroke-width="0.9" fill="none"/><path d="M731.48 263.79H736.88M732.18 261.79L736.18 265.79M732.18 265.79L736.18 261.79" stroke="#b040b0" stroke-width="0.9" fill="none"/><path d="M736.78 267.8H742.18M737.48 265.8L741.48 269.8M737.48 269.8L741.48 265.8" stroke="#b040b0" stroke-width="0.9" fill="none"/><path d="M742.09 267.8H747.49M742.79 265.8L746.79 269.8M742.79 269.8L746.79 265.8" stroke="#b040b0" stroke-width="0.9" fill="none"/><path d="M747.39 267.8H752.79M748.09 265.8L752.09 269.8M748.09 269.8L752.09 265.8" stroke="#b040b0" stroke-width="0.9" fill="none"/><path d="M752.7 267.8H758.1M753.4 265.8L757.4 269.8M753.4 269.8L757.4 265.8" stroke="#b040b0" stroke-width="0.9" fill="none"/><path d="M758.01 267.8H763.41M758.71 265.8L762.71 269.8M758.71 269.8L762.71 265.8" stroke="#b040b0" stroke-width="0.9" fill="none"/><path d="M763.31 267.8H768.71M764.01 265.8L768.01 269.8M764.01 269.8L768.01 265.8" stroke="#b040b0" stroke-width="0.9" fill="none"/><path d="M768.62 267.8H774.02M769.32 265.8L773.32 269.8M769.32 269.8L773.32 265.8" stroke="#b040b0" stroke-width="0.9" fill="none"/><path d="M773.92 267.8H779.32M774.62 265.8L778.62 269.8M774.62 269.8L778.62 265.8" stroke="#b040b0" stroke-width="0.9" fill="none"/><path d="M779.23 267.8H784.63M779.93 265.8L783.93 269.8M779.93 269.8L783.93 265.8" stroke="#b040b0" stroke-width="0.9" fill="none"/><path d="M784.53 267.8H789.93M785.23 265.8L789.23 269.8M785.23 269.8L789.23 265.8" stroke="#b040b0" stroke-width="0.9" fill="none"/><path d="M789.84 267.8H795.24M790.54 265.8L794.54 269.8M790.54 269.8L794.54 265.8" stroke="#b040b0" stroke-width="0.9" fill="none"/><path d="M795.14 267.8H800.54M795.84 265.8L799.84 269.8M795.84 269.8L799.84 265.8" stroke="#b040b0" stroke-width="0.9" fill="none"/><path d="M800.45 267.8H805.85M801.15 265.8L805.15 269.8M801.15 269.8L805.15 265.8" stroke="#b040b0" stroke-width="0.9" fill="none"/>
<path d="M468.9 265.3 L474.21 262.99 L479.51 259.29 L484.82 254.28 L490.12 249.02 L495.43 242.26 L500.73 234.25 L506.04 226.23 L511.34 217.72 L516.65 208.71 L521.96 198.19 L527.26 189.68 L532.57 178.66 L537.87 169.14 L543.18 159.63 L548.48 151.11 L553.79 141.6 L559.09 133.59 L564.4 124.07 L569.71 115.06 L575.01 107.54 L580.32 101.03 L585.62 96.03 L590.93 91.52 L596.23 88.01 L601.54 85.51 L606.84 84.51 L612.15 83.51 L617.46 83.51 L622.76 84.51 L628.07 84.51 L633.37 85.51 L638.68 88.01 L643.98 91.02 L649.29 95.52 L654.59 100.03 L659.9 104.54 L665.21 112.05 L670.51 122.07 L675.82 131.08 L681.12 140.6 L686.43 151.61 L691.73 163.13 L697.04 175.65 L702.34 188.67 L707.65 201.19 L712.96 213.21 L718.26 225.23 L723.57 234.25 L728.87 244.26 L734.18 252.28 L739.48 257.78 L744.79 262.29 L750.09 264.29 L755.4 265.8 L760.71 266.8 L766.01 267.8 L771.32 267.8 L776.62 267.8 L781.93 267.8 L787.23 267.8 L792.54 267.8 L797.84 267.8 L803.15 267.8" stroke="#e3241f" stroke-width="1" fill="none" stroke-dasharray="5 4"/>
<rect x="465.7" y="262.1" width="6.4" height="6.4" stroke="#e3241f" stroke-width="1.45" fill="none"/><rect x="471.01" y="259.79" width="6.4" height="6.4" stroke="#e3241f" stroke-width="1.45" fill="none"/><rect x="476.31" y="256.09" width="6.4" height="6.4" stroke="#e3241f" stroke-width="1.45" fill="none"/><rect x="481.62" y="251.08" width="6.4" height="6.4" stroke="#e3241f" stroke-width="1.45" fill="none"/><rect x="486.92" y="245.82" width="6.4" height="6.4" stroke="#e3241f" stroke-width="1.45" fill="none"/><rect x="492.23" y="239.06" width="6.4" height="6.4" stroke="#e3241f" stroke-width="1.45" fill="none"/><rect x="497.53" y="231.05" width="6.4" height="6.4" stroke="#e3241f" stroke-width="1.45" fill="none"/><rect x="502.84" y="223.03" width="6.4" height="6.4" stroke="#e3241f" stroke-width="1.45" fill="none"/><rect x="508.14" y="214.52" width="6.4" height="6.4" stroke="#e3241f" stroke-width="1.45" fill="none"/><rect x="513.45" y="205.51" width="6.4" height="6.4" stroke="#e3241f" stroke-width="1.45" fill="none"/><rect x="518.76" y="194.99" width="6.4" height="6.4" stroke="#e3241f" stroke-width="1.45" fill="none"/><rect x="524.06" y="186.48" width="6.4" height="6.4" stroke="#e3241f" stroke-width="1.45" fill="none"/><rect x="529.37" y="175.46" width="6.4" height="6.4" stroke="#e3241f" stroke-width="1.45" fill="none"/><rect x="534.67" y="165.94" width="6.4" height="6.4" stroke="#e3241f" stroke-width="1.45" fill="none"/><rect x="539.98" y="156.43" width="6.4" height="6.4" stroke="#e3241f" stroke-width="1.45" fill="none"/><rect x="545.28" y="147.91" width="6.4" height="6.4" stroke="#e3241f" stroke-width="1.45" fill="none"/><rect x="550.59" y="138.4" width="6.4" height="6.4" stroke="#e3241f" stroke-width="1.45" fill="none"/><rect x="555.89" y="130.39" width="6.4" height="6.4" stroke="#e3241f" stroke-width="1.45" fill="none"/><rect x="561.2" y="120.87" width="6.4" height="6.4" stroke="#e3241f" stroke-width="1.45" fill="none"/><rect x="566.51" y="111.86" width="6.4" height="6.4" stroke="#e3241f" stroke-width="1.45" fill="none"/><rect x="571.81" y="104.34" width="6.4" height="6.4" stroke="#e3241f" stroke-width="1.45" fill="none"/><rect x="577.12" y="97.83" width="6.4" height="6.4" stroke="#e3241f" stroke-width="1.45" fill="none"/><rect x="582.42" y="92.83" width="6.4" height="6.4" stroke="#e3241f" stroke-width="1.45" fill="none"/><rect x="587.73" y="88.32" width="6.4" height="6.4" stroke="#e3241f" stroke-width="1.45" fill="none"/><rect x="593.03" y="84.81" width="6.4" height="6.4" stroke="#e3241f" stroke-width="1.45" fill="none"/><rect x="598.34" y="82.31" width="6.4" height="6.4" stroke="#e3241f" stroke-width="1.45" fill="none"/><rect x="603.64" y="81.31" width="6.4" height="6.4" stroke="#e3241f" stroke-width="1.45" fill="none"/><rect x="608.95" y="80.31" width="6.4" height="6.4" stroke="#e3241f" stroke-width="1.45" fill="none"/><rect x="614.26" y="80.31" width="6.4" height="6.4" stroke="#e3241f" stroke-width="1.45" fill="none"/><rect x="619.56" y="81.31" width="6.4" height="6.4" stroke="#e3241f" stroke-width="1.45" fill="none"/><rect x="624.87" y="81.31" width="6.4" height="6.4" stroke="#e3241f" stroke-width="1.45" fill="none"/><rect x="630.17" y="82.31" width="6.4" height="6.4" stroke="#e3241f" stroke-width="1.45" fill="none"/><rect x="635.48" y="84.81" width="6.4" height="6.4" stroke="#e3241f" stroke-width="1.45" fill="none"/><rect x="640.78" y="87.82" width="6.4" height="6.4" stroke="#e3241f" stroke-width="1.45" fill="none"/><rect x="646.09" y="92.32" width="6.4" height="6.4" stroke="#e3241f" stroke-width="1.45" fill="none"/><rect x="651.39" y="96.83" width="6.4" height="6.4" stroke="#e3241f" stroke-width="1.45" fill="none"/><rect x="656.7" y="101.34" width="6.4" height="6.4" stroke="#e3241f" stroke-width="1.45" fill="none"/><rect x="662.01" y="108.85" width="6.4" height="6.4" stroke="#e3241f" stroke-width="1.45" fill="none"/><rect x="667.31" y="118.87" width="6.4" height="6.4" stroke="#e3241f" stroke-width="1.45" fill="none"/><rect x="672.62" y="127.88" width="6.4" height="6.4" stroke="#e3241f" stroke-width="1.45" fill="none"/><rect x="677.92" y="137.4" width="6.4" height="6.4" stroke="#e3241f" stroke-width="1.45" fill="none"/><rect x="683.23" y="148.41" width="6.4" height="6.4" stroke="#e3241f" stroke-width="1.45" fill="none"/><rect x="688.53" y="159.93" width="6.4" height="6.4" stroke="#e3241f" stroke-width="1.45" fill="none"/><rect x="693.84" y="172.45" width="6.4" height="6.4" stroke="#e3241f" stroke-width="1.45" fill="none"/><rect x="699.14" y="185.47" width="6.4" height="6.4" stroke="#e3241f" stroke-width="1.45" fill="none"/><rect x="704.45" y="197.99" width="6.4" height="6.4" stroke="#e3241f" stroke-width="1.45" fill="none"/><rect x="709.76" y="210.01" width="6.4" height="6.4" stroke="#e3241f" stroke-width="1.45" fill="none"/><rect x="715.06" y="222.03" width="6.4" height="6.4" stroke="#e3241f" stroke-width="1.45" fill="none"/><rect x="720.37" y="231.05" width="6.4" height="6.4" stroke="#e3241f" stroke-width="1.45" fill="none"/><rect x="725.67" y="241.06" width="6.4" height="6.4" stroke="#e3241f" stroke-width="1.45" fill="none"/><rect x="730.98" y="249.08" width="6.4" height="6.4" stroke="#e3241f" stroke-width="1.45" fill="none"/><rect x="736.28" y="254.58" width="6.4" height="6.4" stroke="#e3241f" stroke-width="1.45" fill="none"/><rect x="741.59" y="259.09" width="6.4" height="6.4" stroke="#e3241f" stroke-width="1.45" fill="none"/><rect x="746.89" y="261.09" width="6.4" height="6.4" stroke="#e3241f" stroke-width="1.45" fill="none"/><rect x="752.2" y="262.6" width="6.4" height="6.4" stroke="#e3241f" stroke-width="1.45" fill="none"/><rect x="757.51" y="263.6" width="6.4" height="6.4" stroke="#e3241f" stroke-width="1.45" fill="none"/><rect x="762.81" y="264.6" width="6.4" height="6.4" stroke="#e3241f" stroke-width="1.45" fill="none"/><rect x="768.12" y="264.6" width="6.4" height="6.4" stroke="#e3241f" stroke-width="1.45" fill="none"/><rect x="773.42" y="264.6" width="6.4" height="6.4" stroke="#e3241f" stroke-width="1.45" fill="none"/><rect x="778.73" y="264.6" width="6.4" height="6.4" stroke="#e3241f" stroke-width="1.45" fill="none"/><rect x="784.03" y="264.6" width="6.4" height="6.4" stroke="#e3241f" stroke-width="1.45" fill="none"/><rect x="789.34" y="264.6" width="6.4" height="6.4" stroke="#e3241f" stroke-width="1.45" fill="none"/><rect x="794.64" y="264.6" width="6.4" height="6.4" stroke="#e3241f" stroke-width="1.45" fill="none"/><rect x="799.95" y="264.6" width="6.4" height="6.4" stroke="#e3241f" stroke-width="1.45" fill="none"/>
<path d="M468.9 267.8 L474.21 267.8 L479.51 267.8 L484.82 266.8 L490.12 265.3 L495.43 262.29 L500.73 258.79 L506.04 253.53 L511.34 247.77 L516.65 237.75 L521.96 226.73 L527.26 213.71 L532.57 199.69 L537.87 183.16 L543.18 166.64 L548.48 150.11 L553.79 133.59 L559.09 116.06 L564.4 100.53 L569.71 87.51 L575.01 77.5 L580.32 69.98 L585.62 65.48 L590.93 62.97 L596.23 64.48 L601.54 69.98 L606.84 79.5 L612.15 91.52 L617.46 103.54 L622.76 114.05 L628.07 122.07 L633.37 125.57 L638.68 127.08 L643.98 124.07 L649.29 118.56 L654.59 113.05 L659.9 109.55 L665.21 108.55 L670.51 109.55 L675.82 112.55 L681.12 118.06 L686.43 124.57 L691.73 136.59 L697.04 152.62 L702.34 174.65 L707.65 194.18 L712.96 214.21 L718.26 232.24 L723.57 247.77 L728.87 257.78 L734.18 264.29 L739.48 267.8 L744.79 267.8 L750.09 267.8 L755.4 267.8 L760.71 267.8 L766.01 267.8 L771.32 267.8 L776.62 267.8 L781.93 267.8 L787.23 267.8 L792.54 267.8 L797.84 267.8 L803.15 267.8" stroke="#52c3d6" stroke-width="1" fill="none" stroke-dasharray="5 4"/>
<path d="M468.9 263.1L473.2 270.4H464.6Z" stroke="#52c3d6" stroke-width="1.35" fill="none"/><path d="M474.21 263.1L478.51 270.4H469.91Z" stroke="#52c3d6" stroke-width="1.35" fill="none"/><path d="M479.51 263.1L483.81 270.4H475.21Z" stroke="#52c3d6" stroke-width="1.35" fill="none"/><path d="M484.82 262.1L489.12 269.4H480.52Z" stroke="#52c3d6" stroke-width="1.35" fill="none"/><path d="M490.12 260.6L494.42 267.9H485.82Z" stroke="#52c3d6" stroke-width="1.35" fill="none"/><path d="M495.43 257.59L499.73 264.89H491.13Z" stroke="#52c3d6" stroke-width="1.35" fill="none"/><path d="M500.73 254.09L505.03 261.39H496.43Z" stroke="#52c3d6" stroke-width="1.35" fill="none"/><path d="M506.04 248.83L510.34 256.13H501.74Z" stroke="#52c3d6" stroke-width="1.35" fill="none"/><path d="M511.34 243.07L515.64 250.37H507.04Z" stroke="#52c3d6" stroke-width="1.35" fill="none"/><path d="M516.65 233.05L520.95 240.35H512.35Z" stroke="#52c3d6" stroke-width="1.35" fill="none"/><path d="M521.96 222.03L526.26 229.33H517.66Z" stroke="#52c3d6" stroke-width="1.35" fill="none"/><path d="M527.26 209.01L531.56 216.31H522.96Z" stroke="#52c3d6" stroke-width="1.35" fill="none"/><path d="M532.57 194.99L536.87 202.29H528.27Z" stroke="#52c3d6" stroke-width="1.35" fill="none"/><path d="M537.87 178.46L542.17 185.76H533.57Z" stroke="#52c3d6" stroke-width="1.35" fill="none"/><path d="M543.18 161.94L547.48 169.24H538.88Z" stroke="#52c3d6" stroke-width="1.35" fill="none"/><path d="M548.48 145.41L552.78 152.71H544.18Z" stroke="#52c3d6" stroke-width="1.35" fill="none"/><path d="M553.79 128.89L558.09 136.19H549.49Z" stroke="#52c3d6" stroke-width="1.35" fill="none"/><path d="M559.09 111.36L563.39 118.66H554.79Z" stroke="#52c3d6" stroke-width="1.35" fill="none"/><path d="M564.4 95.83L568.7 103.13H560.1Z" stroke="#52c3d6" stroke-width="1.35" fill="none"/><path d="M569.71 82.81L574.01 90.11H565.41Z" stroke="#52c3d6" stroke-width="1.35" fill="none"/><path d="M575.01 72.8L579.31 80.1H570.71Z" stroke="#52c3d6" stroke-width="1.35" fill="none"/><path d="M580.32 65.28L584.62 72.58H576.02Z" stroke="#52c3d6" stroke-width="1.35" fill="none"/><path d="M585.62 60.78L589.92 68.08H581.32Z" stroke="#52c3d6" stroke-width="1.35" fill="none"/><path d="M590.93 58.27L595.23 65.57H586.63Z" stroke="#52c3d6" stroke-width="1.35" fill="none"/><path d="M596.23 59.78L600.53 67.08H591.93Z" stroke="#52c3d6" stroke-width="1.35" fill="none"/><path d="M601.54 65.28L605.84 72.58H597.24Z" stroke="#52c3d6" stroke-width="1.35" fill="none"/><path d="M606.84 74.8L611.14 82.1H602.54Z" stroke="#52c3d6" stroke-width="1.35" fill="none"/><path d="M612.15 86.82L616.45 94.12H607.85Z" stroke="#52c3d6" stroke-width="1.35" fill="none"/><path d="M617.46 98.84L621.76 106.14H613.16Z" stroke="#52c3d6" stroke-width="1.35" fill="none"/><path d="M622.76 109.35L627.06 116.65H618.46Z" stroke="#52c3d6" stroke-width="1.35" fill="none"/><path d="M628.07 117.37L632.37 124.67H623.77Z" stroke="#52c3d6" stroke-width="1.35" fill="none"/><path d="M633.37 120.87L637.67 128.17H629.07Z" stroke="#52c3d6" stroke-width="1.35" fill="none"/><path d="M638.68 122.38L642.98 129.68H634.38Z" stroke="#52c3d6" stroke-width="1.35" fill="none"/><path d="M643.98 119.37L648.28 126.67H639.68Z" stroke="#52c3d6" stroke-width="1.35" fill="none"/><path d="M649.29 113.86L653.59 121.16H644.99Z" stroke="#52c3d6" stroke-width="1.35" fill="none"/><path d="M654.59 108.35L658.89 115.65H650.29Z" stroke="#52c3d6" stroke-width="1.35" fill="none"/><path d="M659.9 104.85L664.2 112.15H655.6Z" stroke="#52c3d6" stroke-width="1.35" fill="none"/><path d="M665.21 103.85L669.51 111.15H660.91Z" stroke="#52c3d6" stroke-width="1.35" fill="none"/><path d="M670.51 104.85L674.81 112.15H666.21Z" stroke="#52c3d6" stroke-width="1.35" fill="none"/><path d="M675.82 107.85L680.12 115.15H671.52Z" stroke="#52c3d6" stroke-width="1.35" fill="none"/><path d="M681.12 113.36L685.42 120.66H676.82Z" stroke="#52c3d6" stroke-width="1.35" fill="none"/><path d="M686.43 119.87L690.73 127.17H682.13Z" stroke="#52c3d6" stroke-width="1.35" fill="none"/><path d="M691.73 131.89L696.03 139.19H687.43Z" stroke="#52c3d6" stroke-width="1.35" fill="none"/><path d="M697.04 147.92L701.34 155.22H692.74Z" stroke="#52c3d6" stroke-width="1.35" fill="none"/><path d="M702.34 169.95L706.64 177.25H698.04Z" stroke="#52c3d6" stroke-width="1.35" fill="none"/><path d="M707.65 189.48L711.95 196.78H703.35Z" stroke="#52c3d6" stroke-width="1.35" fill="none"/><path d="M712.96 209.51L717.26 216.81H708.66Z" stroke="#52c3d6" stroke-width="1.35" fill="none"/><path d="M718.26 227.54L722.56 234.84H713.96Z" stroke="#52c3d6" stroke-width="1.35" fill="none"/><path d="M723.57 243.07L727.87 250.37H719.27Z" stroke="#52c3d6" stroke-width="1.35" fill="none"/><path d="M728.87 253.08L733.17 260.38H724.57Z" stroke="#52c3d6" stroke-width="1.35" fill="none"/><path d="M734.18 259.59L738.48 266.89H729.88Z" stroke="#52c3d6" stroke-width="1.35" fill="none"/><path d="M739.48 263.1L743.78 270.4H735.18Z" stroke="#52c3d6" stroke-width="1.35" fill="none"/><path d="M744.79 263.1L749.09 270.4H740.49Z" stroke="#52c3d6" stroke-width="1.35" fill="none"/><path d="M750.09 263.1L754.39 270.4H745.79Z" stroke="#52c3d6" stroke-width="1.35" fill="none"/><path d="M755.4 263.1L759.7 270.4H751.1Z" stroke="#52c3d6" stroke-width="1.35" fill="none"/><path d="M760.71 263.1L765.01 270.4H756.41Z" stroke="#52c3d6" stroke-width="1.35" fill="none"/><path d="M766.01 263.1L770.31 270.4H761.71Z" stroke="#52c3d6" stroke-width="1.35" fill="none"/><path d="M771.32 263.1L775.62 270.4H767.02Z" stroke="#52c3d6" stroke-width="1.35" fill="none"/><path d="M776.62 263.1L780.92 270.4H772.32Z" stroke="#52c3d6" stroke-width="1.35" fill="none"/><path d="M781.93 263.1L786.23 270.4H777.63Z" stroke="#52c3d6" stroke-width="1.35" fill="none"/><path d="M787.23 263.1L791.53 270.4H782.93Z" stroke="#52c3d6" stroke-width="1.35" fill="none"/><path d="M792.54 263.1L796.84 270.4H788.24Z" stroke="#52c3d6" stroke-width="1.35" fill="none"/><path d="M797.84 263.1L802.14 270.4H793.54Z" stroke="#52c3d6" stroke-width="1.35" fill="none"/><path d="M803.15 263.1L807.45 270.4H798.85Z" stroke="#52c3d6" stroke-width="1.35" fill="none"/>
</g>
<rect x="469.1" y="17.4" width="334.3" height="250.4" fill="none" stroke="#6a6a6a" stroke-width="1.7"/>
<path d="M468.9 267.8V263.8M468.9 17.4V21.4M489.02 267.8V265.4M489.02 17.4V19.8M500.8 267.8V265.4M500.8 17.4V19.8M509.15 267.8V265.4M509.15 17.4V19.8M515.63 267.8V265.4M515.63 17.4V19.8M520.92 267.8V265.4M520.92 17.4V19.8M525.39 267.8V265.4M525.39 17.4V19.8M529.27 267.8V265.4M529.27 17.4V19.8M532.69 267.8V265.4M532.69 17.4V19.8M535.75 267.8V263.8M535.75 17.4V21.4M555.87 267.8V265.4M555.87 17.4V19.8M567.65 267.8V265.4M567.65 17.4V19.8M576 267.8V265.4M576 17.4V19.8M582.48 267.8V265.4M582.48 17.4V19.8M587.77 267.8V265.4M587.77 17.4V19.8M592.24 267.8V265.4M592.24 17.4V19.8M596.12 267.8V265.4M596.12 17.4V19.8M599.54 267.8V265.4M599.54 17.4V19.8M602.6 267.8V263.8M602.6 17.4V21.4M622.72 267.8V265.4M622.72 17.4V19.8M634.5 267.8V265.4M634.5 17.4V19.8M642.85 267.8V265.4M642.85 17.4V19.8M649.33 267.8V265.4M649.33 17.4V19.8M654.62 267.8V265.4M654.62 17.4V19.8M659.09 267.8V265.4M659.09 17.4V19.8M662.97 267.8V265.4M662.97 17.4V19.8M666.39 267.8V265.4M666.39 17.4V19.8M669.45 267.8V263.8M669.45 17.4V21.4M689.57 267.8V265.4M689.57 17.4V19.8M701.35 267.8V265.4M701.35 17.4V19.8M709.7 267.8V265.4M709.7 17.4V19.8M716.18 267.8V265.4M716.18 17.4V19.8M721.47 267.8V265.4M721.47 17.4V19.8M725.94 267.8V265.4M725.94 17.4V19.8M729.82 267.8V265.4M729.82 17.4V19.8M733.24 267.8V265.4M733.24 17.4V19.8M736.3 267.8V263.8M736.3 17.4V21.4M756.42 267.8V265.4M756.42 17.4V19.8M768.2 267.8V265.4M768.2 17.4V19.8M776.55 267.8V265.4M776.55 17.4V19.8M783.03 267.8V265.4M783.03 17.4V19.8M788.32 267.8V265.4M788.32 17.4V19.8M792.79 267.8V265.4M792.79 17.4V19.8M796.67 267.8V265.4M796.67 17.4V19.8M800.09 267.8V265.4M800.09 17.4V19.8M469.1 267.8H472.5M803.4 267.8H800M469.1 217.72H472.5M803.4 217.72H800M469.1 167.64H472.5M803.4 167.64H800M469.1 117.56H472.5M803.4 117.56H800M469.1 67.48H472.5M803.4 67.48H800M469.1 17.4H472.5M803.4 17.4H800" stroke="#4a4a4a" stroke-width="0.9" fill="none"/>
<g fill="#000"><text x="459" y="286.1" font-size="10.0">10<tspan font-size="6.3" dx="0.6" dy="-3.4">-1</tspan></text><text x="527.8" y="286.1" font-size="10.0">10<tspan font-size="6.3" dx="0.6" dy="-3.4">0</tspan></text><text x="596" y="286.1" font-size="10.0">10<tspan font-size="6.3" dx="0.6" dy="-3.4">1</tspan></text><text x="662.5" y="286.1" font-size="10.0">10<tspan font-size="6.3" dx="0.6" dy="-3.4">2</tspan></text><text x="730.6" y="286.1" font-size="10.0">10<tspan font-size="6.3" dx="0.6" dy="-3.4">3</tspan></text><text x="798.2" y="286.1" font-size="10.0">10<tspan font-size="6.3" dx="0.6" dy="-3.4">4</tspan></text><text x="460.9" y="273.32" font-size="10.4" text-anchor="end">0</text><text x="460.9" y="223.24" font-size="10.4" text-anchor="end">0.1</text><text x="460.9" y="173.16" font-size="10.4" text-anchor="end">0.2</text><text x="460.9" y="123.08" font-size="10.4" text-anchor="end">0.3</text><text x="460.9" y="73" font-size="10.4" text-anchor="end">0.4</text><text x="460.9" y="22.92" font-size="10.4" text-anchor="end">0.5</text></g>
<text x="478.6" y="36.8" font-size="17" font-weight="bold" fill="#000">(b)</text>
<text x="504" y="36.8" font-size="13.2" fill="#000">Curvature smoothing</text>
<text x="623.6" y="304.7" font-size="13.5" fill="#000">T<tspan font-size="8.8" dy="4.8">2</tspan><tspan dy="-4.8">, ms</tspan></text>
<text transform="translate(429.9 139.2) rotate(-90)" x="0" y="0" font-size="13.1" text-anchor="middle" fill="#000">Porosity, p.u.</text>
<path d="M684.9 29.9H715.6" stroke="#000" stroke-width="1.7"/>
<text x="719.6" y="34.92" font-size="10.4" fill="#000">Model</text>
<path d="M684.9 44.3H715.6" stroke="#56b93a" stroke-width="1.1" stroke-dasharray="6 5.75"/>
<path d="M696.65 44.3H703.85M700.25 40.7V47.9" stroke="#56b93a" stroke-width="1.55" fill="none"/>
<text x="719.6" y="49.32" font-size="10.4" fill="#000">DP</text>
<path d="M684.9 58.7H715.6" stroke="#2446a8" stroke-width="1.1" stroke-dasharray="6 5.75"/>
<circle cx="700.25" cy="58.7" r="3.4" stroke="#2446a8" stroke-width="1.35" fill="none"/>
<text x="719.6" y="63.72" font-size="10.4" fill="#000">GCV</text>
<path d="M684.9 73.1H715.6" stroke="#b040b0" stroke-width="1.1" stroke-dasharray="6 5.75"/>
<path d="M697.55 73.1H702.95M698.25 71.1L702.25 75.1M698.25 75.1L702.25 71.1" stroke="#b040b0" stroke-width="0.9" fill="none"/>
<text x="719.6" y="78.12" font-size="10.4" fill="#000">S-curve</text>
<path d="M684.9 87.5H715.6" stroke="#e3241f" stroke-width="1.1" stroke-dasharray="6 5.75"/>
<rect x="697.05" y="84.3" width="6.4" height="6.4" stroke="#e3241f" stroke-width="1.45" fill="none"/>
<text x="719.6" y="92.52" font-size="10.4" fill="#000">L-curve</text>
<path d="M684.9 101.9H715.6" stroke="#52c3d6" stroke-width="1.1" stroke-dasharray="6 5.75"/>
<path d="M700.25 97.2L704.55 104.5H695.95Z" stroke="#52c3d6" stroke-width="1.35" fill="none"/>
<text x="719.6" y="106.92" font-size="10.4" fill="#000">Slope of L-curve</text>
<clipPath id="clipC"><rect x="41.5" y="324.6" width="348.9" height="264"/></clipPath>
<g clip-path="url(#clipC)">
<path d="M47.5 582.6 L52.85 582.6 L58.2 582.59 L63.54 582.57 L68.89 582.53 L74.24 582.45 L79.59 582.28 L84.93 581.95 L90.28 581.34 L95.63 580.24 L100.98 578.39 L106.32 575.39 L111.67 570.77 L117.02 564 L122.37 554.56 L127.71 542.08 L133.06 526.49 L138.41 508.13 L143.76 487.88 L149.1 467.1 L154.45 447.6 L159.8 431.29 L165.15 419.93 L170.5 414.71 L175.84 416.03 L181.19 423.34 L186.54 435.2 L191.89 449.53 L197.23 463.96 L202.58 476.25 L207.93 482.51 L213.28 486.47 L218.62 486.64 L223.97 481.69 L229.32 473.88 L234.67 465.51 L240.01 458.59 L245.36 454.84 L250.71 455.41 L256.06 460.7 L261.4 470.37 L266.75 483.46 L272.1 498.62 L277.45 514.41 L282.8 529.53 L288.14 543.02 L293.49 554.32 L298.84 563.23 L304.19 569.89 L309.53 574.61 L314.88 577.79 L320.23 579.82 L325.58 581.06 L330.92 581.79 L336.27 582.19 L341.62 582.4 L346.97 582.51 L352.31 582.56 L357.66 582.58 L363.01 582.59 L368.36 582.6 L373.7 582.6 L379.05 582.6 L384.4 582.6" stroke="#000" stroke-width="1.6" fill="none" stroke-linejoin="round"/>
<path d="M47.5 582.6 L52.85 582.6 L58.2 582.6 L63.54 582.6 L68.89 582.6 L74.24 582.6 L79.59 582.6 L84.93 581.52 L90.28 579.72 L95.63 577.2 L100.98 575.04 L106.32 572.52 L111.67 568.56 L117.02 563.16 L122.37 556.68 L127.71 549.84 L133.06 541.2 L138.41 528.96 L143.76 515.64 L149.1 502.68 L154.45 490.44 L159.8 478.56 L165.15 467.4 L170.5 458.76 L175.84 454.08 L181.19 450.48 L186.54 449.04 L191.89 449.76 L197.23 451.92 L202.58 454.44 L207.93 456.6 L213.28 459.48 L218.62 461.64 L223.97 465.6 L229.32 468.12 L234.67 470.64 L240.01 473.16 L245.36 475.68 L250.71 478.2 L256.06 483.96 L261.4 491.16 L266.75 499.08 L272.1 508.8 L277.45 518.88 L282.8 528.96 L288.14 537.6 L293.49 547.32 L298.84 554.88 L304.19 561.36 L309.53 567.12 L314.88 571.8 L320.23 575.76 L325.58 578.64 L330.92 580.8 L336.27 582.6 L341.62 582.6 L346.97 582.6 L352.31 582.6 L357.66 582.6 L363.01 582.6 L368.36 582.6 L373.7 582.6 L379.05 582.6 L384.4 582.6" stroke="#56b93a" stroke-width="1" fill="none" stroke-dasharray="5 4"/>
<path d="M43.9 582.6H51.1M47.5 579V586.2" stroke="#56b93a" stroke-width="1.55" fill="none"/><path d="M49.25 582.6H56.45M52.85 579V586.2" stroke="#56b93a" stroke-width="1.55" fill="none"/><path d="M54.6 582.6H61.8M58.2 579V586.2" stroke="#56b93a" stroke-width="1.55" fill="none"/><path d="M59.94 582.6H67.14M63.54 579V586.2" stroke="#56b93a" stroke-width="1.55" fill="none"/><path d="M65.29 582.6H72.49M68.89 579V586.2" stroke="#56b93a" stroke-width="1.55" fill="none"/><path d="M70.64 582.6H77.84M74.24 579V586.2" stroke="#56b93a" stroke-width="1.55" fill="none"/><path d="M75.99 582.6H83.19M79.59 579V586.2" stroke="#56b93a" stroke-width="1.55" fill="none"/><path d="M81.33 581.52H88.53M84.93 577.92V585.12" stroke="#56b93a" stroke-width="1.55" fill="none"/><path d="M86.68 579.72H93.88M90.28 576.12V583.32" stroke="#56b93a" stroke-width="1.55" fill="none"/><path d="M92.03 577.2H99.23M95.63 573.6V580.8" stroke="#56b93a" stroke-width="1.55" fill="none"/><path d="M97.38 575.04H104.58M100.98 571.44V578.64" stroke="#56b93a" stroke-width="1.55" fill="none"/><path d="M102.72 572.52H109.92M106.32 568.92V576.12" stroke="#56b93a" stroke-width="1.55" fill="none"/><path d="M108.07 568.56H115.27M111.67 564.96V572.16" stroke="#56b93a" stroke-width="1.55" fill="none"/><path d="M113.42 563.16H120.62M117.02 559.56V566.76" stroke="#56b93a" stroke-width="1.55" fill="none"/><path d="M118.77 556.68H125.97M122.37 553.08V560.28" stroke="#56b93a" stroke-width="1.55" fill="none"/><path d="M124.11 549.84H131.31M127.71 546.24V553.44" stroke="#56b93a" stroke-width="1.55" fill="none"/><path d="M129.46 541.2H136.66M133.06 537.6V544.8" stroke="#56b93a" stroke-width="1.55" fill="none"/><path d="M134.81 528.96H142.01M138.41 525.36V532.56" stroke="#56b93a" stroke-width="1.55" fill="none"/><path d="M140.16 515.64H147.36M143.76 512.04V519.24" stroke="#56b93a" stroke-width="1.55" fill="none"/><path d="M145.5 502.68H152.7M149.1 499.08V506.28" stroke="#56b93a" stroke-width="1.55" fill="none"/><path d="M150.85 490.44H158.05M154.45 486.84V494.04" stroke="#56b93a" stroke-width="1.55" fill="none"/><path d="M156.2 478.56H163.4M159.8 474.96V482.16" stroke="#56b93a" stroke-width="1.55" fill="none"/><path d="M161.55 467.4H168.75M165.15 463.8V471" stroke="#56b93a" stroke-width="1.55" fill="none"/><path d="M166.9 458.76H174.1M170.5 455.16V462.36" stroke="#56b93a" stroke-width="1.55" fill="none"/><path d="M172.24 454.08H179.44M175.84 450.48V457.68" stroke="#56b93a" stroke-width="1.55" fill="none"/><path d="M177.59 450.48H184.79M181.19 446.88V454.08" stroke="#56b93a" stroke-width="1.55" fill="none"/><path d="M182.94 449.04H190.14M186.54 445.44V452.64" stroke="#56b93a" stroke-width="1.55" fill="none"/><path d="M188.29 449.76H195.49M191.89 446.16V453.36" stroke="#56b93a" stroke-width="1.55" fill="none"/><path d="M193.63 451.92H200.83M197.23 448.32V455.52" stroke="#56b93a" stroke-width="1.55" fill="none"/><path d="M198.98 454.44H206.18M202.58 450.84V458.04" stroke="#56b93a" stroke-width="1.55" fill="none"/><path d="M204.33 456.6H211.53M207.93 453V460.2" stroke="#56b93a" stroke-width="1.55" fill="none"/><path d="M209.68 459.48H216.88M213.28 455.88V463.08" stroke="#56b93a" stroke-width="1.55" fill="none"/><path d="M215.02 461.64H222.22M218.62 458.04V465.24" stroke="#56b93a" stroke-width="1.55" fill="none"/><path d="M220.37 465.6H227.57M223.97 462V469.2" stroke="#56b93a" stroke-width="1.55" fill="none"/><path d="M225.72 468.12H232.92M229.32 464.52V471.72" stroke="#56b93a" stroke-width="1.55" fill="none"/><path d="M231.07 470.64H238.27M234.67 467.04V474.24" stroke="#56b93a" stroke-width="1.55" fill="none"/><path d="M236.41 473.16H243.61M240.01 469.56V476.76" stroke="#56b93a" stroke-width="1.55" fill="none"/><path d="M241.76 475.68H248.96M245.36 472.08V479.28" stroke="#56b93a" stroke-width="1.55" fill="none"/><path d="M247.11 478.2H254.31M250.71 474.6V481.8" stroke="#56b93a" stroke-width="1.55" fill="none"/><path d="M252.46 483.96H259.66M256.06 480.36V487.56" stroke="#56b93a" stroke-width="1.55" fill="none"/><path d="M257.8 491.16H265M261.4 487.56V494.76" stroke="#56b93a" stroke-width="1.55" fill="none"/><path d="M263.15 499.08H270.35M266.75 495.48V502.68" stroke="#56b93a" stroke-width="1.55" fill="none"/><path d="M268.5 508.8H275.7M272.1 505.2V512.4" stroke="#56b93a" stroke-width="1.55" fill="none"/><path d="M273.85 518.88H281.05M277.45 515.28V522.48" stroke="#56b93a" stroke-width="1.55" fill="none"/><path d="M279.2 528.96H286.4M282.8 525.36V532.56" stroke="#56b93a" stroke-width="1.55" fill="none"/><path d="M284.54 537.6H291.74M288.14 534V541.2" stroke="#56b93a" stroke-width="1.55" fill="none"/><path d="M289.89 547.32H297.09M293.49 543.72V550.92" stroke="#56b93a" stroke-width="1.55" fill="none"/><path d="M295.24 554.88H302.44M298.84 551.28V558.48" stroke="#56b93a" stroke-width="1.55" fill="none"/><path d="M300.59 561.36H307.79M304.19 557.76V564.96" stroke="#56b93a" stroke-width="1.55" fill="none"/><path d="M305.93 567.12H313.13M309.53 563.52V570.72" stroke="#56b93a" stroke-width="1.55" fill="none"/><path d="M311.28 571.8H318.48M314.88 568.2V575.4" stroke="#56b93a" stroke-width="1.55" fill="none"/><path d="M316.63 575.76H323.83M320.23 572.16V579.36" stroke="#56b93a" stroke-width="1.55" fill="none"/><path d="M321.98 578.64H329.18M325.58 575.04V582.24" stroke="#56b93a" stroke-width="1.55" fill="none"/><path d="M327.32 580.8H334.52M330.92 577.2V584.4" stroke="#56b93a" stroke-width="1.55" fill="none"/><path d="M332.67 582.6H339.87M336.27 579V586.2" stroke="#56b93a" stroke-width="1.55" fill="none"/><path d="M338.02 582.6H345.22M341.62 579V586.2" stroke="#56b93a" stroke-width="1.55" fill="none"/><path d="M343.37 582.6H350.57M346.97 579V586.2" stroke="#56b93a" stroke-width="1.55" fill="none"/><path d="M348.71 582.6H355.91M352.31 579V586.2" stroke="#56b93a" stroke-width="1.55" fill="none"/><path d="M354.06 582.6H361.26M357.66 579V586.2" stroke="#56b93a" stroke-width="1.55" fill="none"/><path d="M359.41 582.6H366.61M363.01 579V586.2" stroke="#56b93a" stroke-width="1.55" fill="none"/><path d="M364.76 582.6H371.96M368.36 579V586.2" stroke="#56b93a" stroke-width="1.55" fill="none"/><path d="M370.1 582.6H377.3M373.7 579V586.2" stroke="#56b93a" stroke-width="1.55" fill="none"/><path d="M375.45 582.6H382.65M379.05 579V586.2" stroke="#56b93a" stroke-width="1.55" fill="none"/><path d="M380.8 582.6H388M384.4 579V586.2" stroke="#56b93a" stroke-width="1.55" fill="none"/>
<path d="M47.5 582.6 L52.85 582.6 L58.2 582.6 L63.54 582.6 L68.89 582.6 L74.24 582.6 L79.59 582.6 L84.93 582.6 L90.28 582.6 L95.63 582.6 L100.98 582.6 L106.32 582.6 L111.67 582.6 L117.02 582.6 L122.37 582.6 L127.71 582.6 L133.06 582.6 L138.41 562.08 L143.76 521.04 L149.1 474.6 L154.45 429.96 L159.8 395.4 L165.15 374.52 L170.5 369.84 L175.84 380.64 L181.19 402.71 L186.54 428.88 L191.89 453.36 L197.23 472.08 L202.58 483.24 L207.93 489 L213.28 491.16 L218.62 491.16 L223.97 488.64 L229.32 482.16 L234.67 473.16 L240.01 463.08 L245.36 454.8 L250.71 452.28 L256.06 455.52 L261.4 465.6 L266.75 480.9 L272.1 499.8 L277.45 518.88 L282.8 539.4 L288.14 554.52 L293.49 567.3 L298.84 576.12 L304.19 582.6 L309.53 582.6 L314.88 582.6 L320.23 582.6 L325.58 582.6 L330.92 582.6 L336.27 582.6 L341.62 582.6 L346.97 581.88 L352.31 579 L357.66 577.56 L363.01 576.12 L368.36 574.68 L373.7 573.6 L379.05 572.88 L384.4 572.16" stroke="#2446a8" stroke-width="1" fill="none" stroke-dasharray="5 4"/>
<circle cx="47.5" cy="582.6" r="3.4" stroke="#2446a8" stroke-width="1.35" fill="none"/><circle cx="52.85" cy="582.6" r="3.4" stroke="#2446a8" stroke-width="1.35" fill="none"/><circle cx="58.2" cy="582.6" r="3.4" stroke="#2446a8" stroke-width="1.35" fill="none"/><circle cx="63.54" cy="582.6" r="3.4" stroke="#2446a8" stroke-width="1.35" fill="none"/><circle cx="68.89" cy="582.6" r="3.4" stroke="#2446a8" stroke-width="1.35" fill="none"/><circle cx="74.24" cy="582.6" r="3.4" stroke="#2446a8" stroke-width="1.35" fill="none"/><circle cx="79.59" cy="582.6" r="3.4" stroke="#2446a8" stroke-width="1.35" fill="none"/><circle cx="84.93" cy="582.6" r="3.4" stroke="#2446a8" stroke-width="1.35" fill="none"/><circle cx="90.28" cy="582.6" r="3.4" stroke="#2446a8" stroke-width="1.35" fill="none"/><circle cx="95.63" cy="582.6" r="3.4" stroke="#2446a8" stroke-width="1.35" fill="none"/><circle cx="100.98" cy="582.6" r="3.4" stroke="#2446a8" stroke-width="1.35" fill="none"/><circle cx="106.32" cy="582.6" r="3.4" stroke="#2446a8" stroke-width="1.35" fill="none"/><circle cx="111.67" cy="582.6" r="3.4" stroke="#2446a8" stroke-width="1.35" fill="none"/><circle cx="117.02" cy="582.6" r="3.4" stroke="#2446a8" stroke-width="1.35" fill="none"/><circle cx="122.37" cy="582.6" r="3.4" stroke="#2446a8" stroke-width="1.35" fill="none"/><circle cx="127.71" cy="582.6" r="3.4" stroke="#2446a8" stroke-width="1.35" fill="none"/><circle cx="133.06" cy="582.6" r="3.4" stroke="#2446a8" stroke-width="1.35" fill="none"/><circle cx="138.41" cy="562.08" r="3.4" stroke="#2446a8" stroke-width="1.35" fill="none"/><circle cx="143.76" cy="521.04" r="3.4" stroke="#2446a8" stroke-width="1.35" fill="none"/><circle cx="149.1" cy="474.6" r="3.4" stroke="#2446a8" stroke-width="1.35" fill="none"/><circle cx="154.45" cy="429.96" r="3.4" stroke="#2446a8" stroke-width="1.35" fill="none"/><circle cx="159.8" cy="395.4" r="3.4" stroke="#2446a8" stroke-width="1.35" fill="none"/><circle cx="165.15" cy="374.52" r="3.4" stroke="#2446a8" stroke-width="1.35" fill="none"/><circle cx="170.5" cy="369.84" r="3.4" stroke="#2446a8" stroke-width="1.35" fill="none"/><circle cx="175.84" cy="380.64" r="3.4" stroke="#2446a8" stroke-width="1.35" fill="none"/><circle cx="181.19" cy="402.71" r="3.4" stroke="#2446a8" stroke-width="1.35" fill="none"/><circle cx="186.54" cy="428.88" r="3.4" stroke="#2446a8" stroke-width="1.35" fill="none"/><circle cx="191.89" cy="453.36" r="3.4" stroke="#2446a8" stroke-width="1.35" fill="none"/><circle cx="197.23" cy="472.08" r="3.4" stroke="#2446a8" stroke-width="1.35" fill="none"/><circle cx="202.58" cy="483.24" r="3.4" stroke="#2446a8" stroke-width="1.35" fill="none"/><circle cx="207.93" cy="489" r="3.4" stroke="#2446a8" stroke-width="1.35" fill="none"/><circle cx="213.28" cy="491.16" r="3.4" stroke="#2446a8" stroke-width="1.35" fill="none"/><circle cx="218.62" cy="491.16" r="3.4" stroke="#2446a8" stroke-width="1.35" fill="none"/><circle cx="223.97" cy="488.64" r="3.4" stroke="#2446a8" stroke-width="1.35" fill="none"/><circle cx="229.32" cy="482.16" r="3.4" stroke="#2446a8" stroke-width="1.35" fill="none"/><circle cx="234.67" cy="473.16" r="3.4" stroke="#2446a8" stroke-width="1.35" fill="none"/><circle cx="240.01" cy="463.08" r="3.4" stroke="#2446a8" stroke-width="1.35" fill="none"/><circle cx="245.36" cy="454.8" r="3.4" stroke="#2446a8" stroke-width="1.35" fill="none"/><circle cx="250.71" cy="452.28" r="3.4" stroke="#2446a8" stroke-width="1.35" fill="none"/><circle cx="256.06" cy="455.52" r="3.4" stroke="#2446a8" stroke-width="1.35" fill="none"/><circle cx="261.4" cy="465.6" r="3.4" stroke="#2446a8" stroke-width="1.35" fill="none"/><circle cx="266.75" cy="480.9" r="3.4" stroke="#2446a8" stroke-width="1.35" fill="none"/><circle cx="272.1" cy="499.8" r="3.4" stroke="#2446a8" stroke-width="1.35" fill="none"/><circle cx="277.45" cy="518.88" r="3.4" stroke="#2446a8" stroke-width="1.35" fill="none"/><circle cx="282.8" cy="539.4" r="3.4" stroke="#2446a8" stroke-width="1.35" fill="none"/><circle cx="288.14" cy="554.52" r="3.4" stroke="#2446a8" stroke-width="1.35" fill="none"/><circle cx="293.49" cy="567.3" r="3.4" stroke="#2446a8" stroke-width="1.35" fill="none"/><circle cx="298.84" cy="576.12" r="3.4" stroke="#2446a8" stroke-width="1.35" fill="none"/><circle cx="304.19" cy="582.6" r="3.4" stroke="#2446a8" stroke-width="1.35" fill="none"/><circle cx="309.53" cy="582.6" r="3.4" stroke="#2446a8" stroke-width="1.35" fill="none"/><circle cx="314.88" cy="582.6" r="3.4" stroke="#2446a8" stroke-width="1.35" fill="none"/><circle cx="320.23" cy="582.6" r="3.4" stroke="#2446a8" stroke-width="1.35" fill="none"/><circle cx="325.58" cy="582.6" r="3.4" stroke="#2446a8" stroke-width="1.35" fill="none"/><circle cx="330.92" cy="582.6" r="3.4" stroke="#2446a8" stroke-width="1.35" fill="none"/><circle cx="336.27" cy="582.6" r="3.4" stroke="#2446a8" stroke-width="1.35" fill="none"/><circle cx="341.62" cy="582.6" r="3.4" stroke="#2446a8" stroke-width="1.35" fill="none"/><circle cx="346.97" cy="581.88" r="3.4" stroke="#2446a8" stroke-width="1.35" fill="none"/><circle cx="352.31" cy="579" r="3.4" stroke="#2446a8" stroke-width="1.35" fill="none"/><circle cx="357.66" cy="577.56" r="3.4" stroke="#2446a8" stroke-width="1.35" fill="none"/><circle cx="363.01" cy="576.12" r="3.4" stroke="#2446a8" stroke-width="1.35" fill="none"/><circle cx="368.36" cy="574.68" r="3.4" stroke="#2446a8" stroke-width="1.35" fill="none"/><circle cx="373.7" cy="573.6" r="3.4" stroke="#2446a8" stroke-width="1.35" fill="none"/><circle cx="379.05" cy="572.88" r="3.4" stroke="#2446a8" stroke-width="1.35" fill="none"/><circle cx="384.4" cy="572.16" r="3.4" stroke="#2446a8" stroke-width="1.35" fill="none"/>
<path d="M47.5 582.6 L52.85 582.6 L58.2 582.6 L63.54 582.6 L68.89 582.6 L74.24 582.6 L79.59 582.6 L84.93 582.6 L90.28 582.6 L95.63 582.6 L100.98 582.6 L106.32 582.6 L111.67 582.6 L117.02 582.6 L122.37 582.6 L127.71 582.6 L133.06 582.6 L138.41 562.08 L143.76 521.04 L149.1 474.6 L154.45 429.96 L159.8 395.4 L165.15 374.52 L170.5 369.84 L175.84 380.64 L181.19 402.71 L186.54 428.88 L191.89 453.36 L197.23 472.08 L202.58 483.24 L207.93 489 L213.28 491.16 L218.62 491.16 L223.97 488.64 L229.32 482.16 L234.67 473.16 L240.01 463.08 L245.36 454.8 L250.71 452.28 L256.06 455.52 L261.4 465.6 L266.75 480.9 L272.1 499.8 L277.45 518.88 L282.8 539.4 L288.14 554.52 L293.49 567.3 L298.84 576.12 L304.19 582.6 L309.53 582.6 L314.88 582.6 L320.23 582.6 L325.58 582.6 L330.92 582.6 L336.27 582.6 L341.62 582.6 L346.97 581.88 L352.31 579 L357.66 577.56 L363.01 576.12 L368.36 574.68 L373.7 573.6 L379.05 572.88 L384.4 572.16" stroke="#b040b0" stroke-width="1" fill="none" stroke-dasharray="5 4"/>
<path d="M44.8 582.6H50.2M45.5 580.6L49.5 584.6M45.5 584.6L49.5 580.6" stroke="#b040b0" stroke-width="0.9" fill="none"/><path d="M50.15 582.6H55.55M50.85 580.6L54.85 584.6M50.85 584.6L54.85 580.6" stroke="#b040b0" stroke-width="0.9" fill="none"/><path d="M55.5 582.6H60.9M56.2 580.6L60.2 584.6M56.2 584.6L60.2 580.6" stroke="#b040b0" stroke-width="0.9" fill="none"/><path d="M60.84 582.6H66.24M61.54 580.6L65.54 584.6M61.54 584.6L65.54 580.6" stroke="#b040b0" stroke-width="0.9" fill="none"/><path d="M66.19 582.6H71.59M66.89 580.6L70.89 584.6M66.89 584.6L70.89 580.6" stroke="#b040b0" stroke-width="0.9" fill="none"/><path d="M71.54 582.6H76.94M72.24 580.6L76.24 584.6M72.24 584.6L76.24 580.6" stroke="#b040b0" stroke-width="0.9" fill="none"/><path d="M76.89 582.6H82.29M77.59 580.6L81.59 584.6M77.59 584.6L81.59 580.6" stroke="#b040b0" stroke-width="0.9" fill="none"/><path d="M82.23 582.6H87.63M82.93 580.6L86.93 584.6M82.93 584.6L86.93 580.6" stroke="#b040b0" stroke-width="0.9" fill="none"/><path d="M87.58 582.6H92.98M88.28 580.6L92.28 584.6M88.28 584.6L92.28 580.6" stroke="#b040b0" stroke-width="0.9" fill="none"/><path d="M92.93 582.6H98.33M93.63 580.6L97.63 584.6M93.63 584.6L97.63 580.6" stroke="#b040b0" stroke-width="0.9" fill="none"/><path d="M98.28 582.6H103.68M98.98 580.6L102.98 584.6M98.98 584.6L102.98 580.6" stroke="#b040b0" stroke-width="0.9" fill="none"/><path d="M103.62 582.6H109.02M104.32 580.6L108.32 584.6M104.32 584.6L108.32 580.6" stroke="#b040b0" stroke-width="0.9" fill="none"/><path d="M108.97 582.6H114.37M109.67 580.6L113.67 584.6M109.67 584.6L113.67 580.6" stroke="#b040b0" stroke-width="0.9" fill="none"/><path d="M114.32 582.6H119.72M115.02 580.6L119.02 584.6M115.02 584.6L119.02 580.6" stroke="#b040b0" stroke-width="0.9" fill="none"/><path d="M119.67 582.6H125.07M120.37 580.6L124.37 584.6M120.37 584.6L124.37 580.6" stroke="#b040b0" stroke-width="0.9" fill="none"/><path d="M125.01 582.6H130.41M125.71 580.6L129.71 584.6M125.71 584.6L129.71 580.6" stroke="#b040b0" stroke-width="0.9" fill="none"/><path d="M130.36 582.6H135.76M131.06 580.6L135.06 584.6M131.06 584.6L135.06 580.6" stroke="#b040b0" stroke-width="0.9" fill="none"/><path d="M135.71 562.08H141.11M136.41 560.08L140.41 564.08M136.41 564.08L140.41 560.08" stroke="#b040b0" stroke-width="0.9" fill="none"/><path d="M141.06 521.04H146.46M141.76 519.04L145.76 523.04M141.76 523.04L145.76 519.04" stroke="#b040b0" stroke-width="0.9" fill="none"/><path d="M146.4 474.6H151.8M147.1 472.6L151.1 476.6M147.1 476.6L151.1 472.6" stroke="#b040b0" stroke-width="0.9" fill="none"/><path d="M151.75 429.96H157.15M152.45 427.96L156.45 431.96M152.45 431.96L156.45 427.96" stroke="#b040b0" stroke-width="0.9" fill="none"/><path d="M157.1 395.4H162.5M157.8 393.4L161.8 397.4M157.8 397.4L161.8 393.4" stroke="#b040b0" stroke-width="0.9" fill="none"/><path d="M162.45 374.52H167.85M163.15 372.52L167.15 376.52M163.15 376.52L167.15 372.52" stroke="#b040b0" stroke-width="0.9" fill="none"/><path d="M167.8 369.84H173.2M168.5 367.84L172.5 371.84M168.5 371.84L172.5 367.84" stroke="#b040b0" stroke-width="0.9" fill="none"/><path d="M173.14 380.64H178.54M173.84 378.64L177.84 382.64M173.84 382.64L177.84 378.64" stroke="#b040b0" stroke-width="0.9" fill="none"/><path d="M178.49 402.71H183.89M179.19 400.71L183.19 404.71M179.19 404.71L183.19 400.71" stroke="#b040b0" stroke-width="0.9" fill="none"/><path d="M183.84 428.88H189.24M184.54 426.88L188.54 430.88M184.54 430.88L188.54 426.88" stroke="#b040b0" stroke-width="0.9" fill="none"/><path d="M189.19 453.36H194.59M189.89 451.36L193.89 455.36M189.89 455.36L193.89 451.36" stroke="#b040b0" stroke-width="0.9" fill="none"/><path d="M194.53 472.08H199.93M195.23 470.08L199.23 474.08M195.23 474.08L199.23 470.08" stroke="#b040b0" stroke-width="0.9" fill="none"/><path d="M199.88 483.24H205.28M200.58 481.24L204.58 485.24M200.58 485.24L204.58 481.24" stroke="#b040b0" stroke-width="0.9" fill="none"/><path d="M205.23 489H210.63M205.93 487L209.93 491M205.93 491L209.93 487" stroke="#b040b0" stroke-width="0.9" fill="none"/><path d="M210.58 491.16H215.98M211.28 489.16L215.28 493.16M211.28 493.16L215.28 489.16" stroke="#b040b0" stroke-width="0.9" fill="none"/><path d="M215.92 491.16H221.32M216.62 489.16L220.62 493.16M216.62 493.16L220.62 489.16" stroke="#b040b0" stroke-width="0.9" fill="none"/><path d="M221.27 488.64H226.67M221.97 486.64L225.97 490.64M221.97 490.64L225.97 486.64" stroke="#b040b0" stroke-width="0.9" fill="none"/><path d="M226.62 482.16H232.02M227.32 480.16L231.32 484.16M227.32 484.16L231.32 480.16" stroke="#b040b0" stroke-width="0.9" fill="none"/><path d="M231.97 473.16H237.37M232.67 471.16L236.67 475.16M232.67 475.16L236.67 471.16" stroke="#b040b0" stroke-width="0.9" fill="none"/><path d="M237.31 463.08H242.71M238.01 461.08L242.01 465.08M238.01 465.08L242.01 461.08" stroke="#b040b0" stroke-width="0.9" fill="none"/><path d="M242.66 454.8H248.06M243.36 452.8L247.36 456.8M243.36 456.8L247.36 452.8" stroke="#b040b0" stroke-width="0.9" fill="none"/><path d="M248.01 452.28H253.41M248.71 450.28L252.71 454.28M248.71 454.28L252.71 450.28" stroke="#b040b0" stroke-width="0.9" fill="none"/><path d="M253.36 455.52H258.76M254.06 453.52L258.06 457.52M254.06 457.52L258.06 453.52" stroke="#b040b0" stroke-width="0.9" fill="none"/><path d="M258.7 465.6H264.1M259.4 463.6L263.4 467.6M259.4 467.6L263.4 463.6" stroke="#b040b0" stroke-width="0.9" fill="none"/><path d="M264.05 480.9H269.45M264.75 478.9L268.75 482.9M264.75 482.9L268.75 478.9" stroke="#b040b0" stroke-width="0.9" fill="none"/><path d="M269.4 499.8H274.8M270.1 497.8L274.1 501.8M270.1 501.8L274.1 497.8" stroke="#b040b0" stroke-width="0.9" fill="none"/><path d="M274.75 518.88H280.15M275.45 516.88L279.45 520.88M275.45 520.88L279.45 516.88" stroke="#b040b0" stroke-width="0.9" fill="none"/><path d="M280.1 539.4H285.5M280.8 537.4L284.8 541.4M280.8 541.4L284.8 537.4" stroke="#b040b0" stroke-width="0.9" fill="none"/><path d="M285.44 554.52H290.84M286.14 552.52L290.14 556.52M286.14 556.52L290.14 552.52" stroke="#b040b0" stroke-width="0.9" fill="none"/><path d="M290.79 567.3H296.19M291.49 565.3L295.49 569.3M291.49 569.3L295.49 565.3" stroke="#b040b0" stroke-width="0.9" fill="none"/><path d="M296.14 576.12H301.54M296.84 574.12L300.84 578.12M296.84 578.12L300.84 574.12" stroke="#b040b0" stroke-width="0.9" fill="none"/><path d="M301.49 582.6H306.89M302.19 580.6L306.19 584.6M302.19 584.6L306.19 580.6" stroke="#b040b0" stroke-width="0.9" fill="none"/><path d="M306.83 582.6H312.23M307.53 580.6L311.53 584.6M307.53 584.6L311.53 580.6" stroke="#b040b0" stroke-width="0.9" fill="none"/><path d="M312.18 582.6H317.58M312.88 580.6L316.88 584.6M312.88 584.6L316.88 580.6" stroke="#b040b0" stroke-width="0.9" fill="none"/><path d="M317.53 582.6H322.93M318.23 580.6L322.23 584.6M318.23 584.6L322.23 580.6" stroke="#b040b0" stroke-width="0.9" fill="none"/><path d="M322.88 582.6H328.28M323.58 580.6L327.58 584.6M323.58 584.6L327.58 580.6" stroke="#b040b0" stroke-width="0.9" fill="none"/><path d="M328.22 582.6H333.62M328.92 580.6L332.92 584.6M328.92 584.6L332.92 580.6" stroke="#b040b0" stroke-width="0.9" fill="none"/><path d="M333.57 582.6H338.97M334.27 580.6L338.27 584.6M334.27 584.6L338.27 580.6" stroke="#b040b0" stroke-width="0.9" fill="none"/><path d="M338.92 582.6H344.32M339.62 580.6L343.62 584.6M339.62 584.6L343.62 580.6" stroke="#b040b0" stroke-width="0.9" fill="none"/><path d="M344.27 581.88H349.67M344.97 579.88L348.97 583.88M344.97 583.88L348.97 579.88" stroke="#b040b0" stroke-width="0.9" fill="none"/><path d="M349.61 579H355.01M350.31 577L354.31 581M350.31 581L354.31 577" stroke="#b040b0" stroke-width="0.9" fill="none"/><path d="M354.96 577.56H360.36M355.66 575.56L359.66 579.56M355.66 579.56L359.66 575.56" stroke="#b040b0" stroke-width="0.9" fill="none"/><path d="M360.31 576.12H365.71M361.01 574.12L365.01 578.12M361.01 578.12L365.01 574.12" stroke="#b040b0" stroke-width="0.9" fill="none"/><path d="M365.66 574.68H371.06M366.36 572.68L370.36 576.68M366.36 576.68L370.36 572.68" stroke="#b040b0" stroke-width="0.9" fill="none"/><path d="M371 573.6H376.4M371.7 571.6L375.7 575.6M371.7 575.6L375.7 571.6" stroke="#b040b0" stroke-width="0.9" fill="none"/><path d="M376.35 572.88H381.75M377.05 570.88L381.05 574.88M377.05 574.88L381.05 570.88" stroke="#b040b0" stroke-width="0.9" fill="none"/><path d="M381.7 572.16H387.1M382.4 570.16L386.4 574.16M382.4 574.16L386.4 570.16" stroke="#b040b0" stroke-width="0.9" fill="none"/>
<path d="M47.5 582.6 L52.85 582.6 L58.2 582.6 L63.54 582.6 L68.89 582.6 L74.24 582.6 L79.59 582.6 L84.93 582.6 L90.28 582.6 L95.63 582.6 L100.98 582.6 L106.32 582.6 L111.67 582.6 L117.02 582.6 L122.37 582.6 L127.71 582.6 L133.06 582.6 L138.41 562.08 L143.76 521.04 L149.1 474.6 L154.45 429.96 L159.8 395.4 L165.15 374.52 L170.5 369.84 L175.84 380.64 L181.19 402.71 L186.54 428.88 L191.89 453.36 L197.23 472.08 L202.58 483.24 L207.93 489 L213.28 491.16 L218.62 491.16 L223.97 488.64 L229.32 482.16 L234.67 473.16 L240.01 463.08 L245.36 454.8 L250.71 452.28 L256.06 455.52 L261.4 465.6 L266.75 480.9 L272.1 499.8 L277.45 518.88 L282.8 539.4 L288.14 554.52 L293.49 567.3 L298.84 576.12 L304.19 582.6 L309.53 582.6 L314.88 582.6 L320.23 582.6 L325.58 582.6 L330.92 582.6 L336.27 582.6 L341.62 582.6 L346.97 581.88 L352.31 579 L357.66 577.56 L363.01 576.12 L368.36 574.68 L373.7 573.6 L379.05 572.88 L384.4 572.16" stroke="#e3241f" stroke-width="1" fill="none" stroke-dasharray="5 4"/>
<rect x="44.3" y="579.4" width="6.4" height="6.4" stroke="#e3241f" stroke-width="1.45" fill="none"/><rect x="49.65" y="579.4" width="6.4" height="6.4" stroke="#e3241f" stroke-width="1.45" fill="none"/><rect x="55" y="579.4" width="6.4" height="6.4" stroke="#e3241f" stroke-width="1.45" fill="none"/><rect x="60.34" y="579.4" width="6.4" height="6.4" stroke="#e3241f" stroke-width="1.45" fill="none"/><rect x="65.69" y="579.4" width="6.4" height="6.4" stroke="#e3241f" stroke-width="1.45" fill="none"/><rect x="71.04" y="579.4" width="6.4" height="6.4" stroke="#e3241f" stroke-width="1.45" fill="none"/><rect x="76.39" y="579.4" width="6.4" height="6.4" stroke="#e3241f" stroke-width="1.45" fill="none"/><rect x="81.73" y="579.4" width="6.4" height="6.4" stroke="#e3241f" stroke-width="1.45" fill="none"/><rect x="87.08" y="579.4" width="6.4" height="6.4" stroke="#e3241f" stroke-width="1.45" fill="none"/><rect x="92.43" y="579.4" width="6.4" height="6.4" stroke="#e3241f" stroke-width="1.45" fill="none"/><rect x="97.78" y="579.4" width="6.4" height="6.4" stroke="#e3241f" stroke-width="1.45" fill="none"/><rect x="103.12" y="579.4" width="6.4" height="6.4" stroke="#e3241f" stroke-width="1.45" fill="none"/><rect x="108.47" y="579.4" width="6.4" height="6.4" stroke="#e3241f" stroke-width="1.45" fill="none"/><rect x="113.82" y="579.4" width="6.4" height="6.4" stroke="#e3241f" stroke-width="1.45" fill="none"/><rect x="119.17" y="579.4" width="6.4" height="6.4" stroke="#e3241f" stroke-width="1.45" fill="none"/><rect x="124.51" y="579.4" width="6.4" height="6.4" stroke="#e3241f" stroke-width="1.45" fill="none"/><rect x="129.86" y="579.4" width="6.4" height="6.4" stroke="#e3241f" stroke-width="1.45" fill="none"/><rect x="135.21" y="558.88" width="6.4" height="6.4" stroke="#e3241f" stroke-width="1.45" fill="none"/><rect x="140.56" y="517.84" width="6.4" height="6.4" stroke="#e3241f" stroke-width="1.45" fill="none"/><rect x="145.9" y="471.4" width="6.4" height="6.4" stroke="#e3241f" stroke-width="1.45" fill="none"/><rect x="151.25" y="426.76" width="6.4" height="6.4" stroke="#e3241f" stroke-width="1.45" fill="none"/><rect x="156.6" y="392.2" width="6.4" height="6.4" stroke="#e3241f" stroke-width="1.45" fill="none"/><rect x="161.95" y="371.32" width="6.4" height="6.4" stroke="#e3241f" stroke-width="1.45" fill="none"/><rect x="167.3" y="366.64" width="6.4" height="6.4" stroke="#e3241f" stroke-width="1.45" fill="none"/><rect x="172.64" y="377.44" width="6.4" height="6.4" stroke="#e3241f" stroke-width="1.45" fill="none"/><rect x="177.99" y="399.51" width="6.4" height="6.4" stroke="#e3241f" stroke-width="1.45" fill="none"/><rect x="183.34" y="425.68" width="6.4" height="6.4" stroke="#e3241f" stroke-width="1.45" fill="none"/><rect x="188.69" y="450.16" width="6.4" height="6.4" stroke="#e3241f" stroke-width="1.45" fill="none"/><rect x="194.03" y="468.88" width="6.4" height="6.4" stroke="#e3241f" stroke-width="1.45" fill="none"/><rect x="199.38" y="480.04" width="6.4" height="6.4" stroke="#e3241f" stroke-width="1.45" fill="none"/><rect x="204.73" y="485.8" width="6.4" height="6.4" stroke="#e3241f" stroke-width="1.45" fill="none"/><rect x="210.08" y="487.96" width="6.4" height="6.4" stroke="#e3241f" stroke-width="1.45" fill="none"/><rect x="215.42" y="487.96" width="6.4" height="6.4" stroke="#e3241f" stroke-width="1.45" fill="none"/><rect x="220.77" y="485.44" width="6.4" height="6.4" stroke="#e3241f" stroke-width="1.45" fill="none"/><rect x="226.12" y="478.96" width="6.4" height="6.4" stroke="#e3241f" stroke-width="1.45" fill="none"/><rect x="231.47" y="469.96" width="6.4" height="6.4" stroke="#e3241f" stroke-width="1.45" fill="none"/><rect x="236.81" y="459.88" width="6.4" height="6.4" stroke="#e3241f" stroke-width="1.45" fill="none"/><rect x="242.16" y="451.6" width="6.4" height="6.4" stroke="#e3241f" stroke-width="1.45" fill="none"/><rect x="247.51" y="449.08" width="6.4" height="6.4" stroke="#e3241f" stroke-width="1.45" fill="none"/><rect x="252.86" y="452.32" width="6.4" height="6.4" stroke="#e3241f" stroke-width="1.45" fill="none"/><rect x="258.2" y="462.4" width="6.4" height="6.4" stroke="#e3241f" stroke-width="1.45" fill="none"/><rect x="263.55" y="477.7" width="6.4" height="6.4" stroke="#e3241f" stroke-width="1.45" fill="none"/><rect x="268.9" y="496.6" width="6.4" height="6.4" stroke="#e3241f" stroke-width="1.45" fill="none"/><rect x="274.25" y="515.68" width="6.4" height="6.4" stroke="#e3241f" stroke-width="1.45" fill="none"/><rect x="279.6" y="536.2" width="6.4" height="6.4" stroke="#e3241f" stroke-width="1.45" fill="none"/><rect x="284.94" y="551.32" width="6.4" height="6.4" stroke="#e3241f" stroke-width="1.45" fill="none"/><rect x="290.29" y="564.1" width="6.4" height="6.4" stroke="#e3241f" stroke-width="1.45" fill="none"/><rect x="295.64" y="572.92" width="6.4" height="6.4" stroke="#e3241f" stroke-width="1.45" fill="none"/><rect x="300.99" y="579.4" width="6.4" height="6.4" stroke="#e3241f" stroke-width="1.45" fill="none"/><rect x="306.33" y="579.4" width="6.4" height="6.4" stroke="#e3241f" stroke-width="1.45" fill="none"/><rect x="311.68" y="579.4" width="6.4" height="6.4" stroke="#e3241f" stroke-width="1.45" fill="none"/><rect x="317.03" y="579.4" width="6.4" height="6.4" stroke="#e3241f" stroke-width="1.45" fill="none"/><rect x="322.38" y="579.4" width="6.4" height="6.4" stroke="#e3241f" stroke-width="1.45" fill="none"/><rect x="327.72" y="579.4" width="6.4" height="6.4" stroke="#e3241f" stroke-width="1.45" fill="none"/><rect x="333.07" y="579.4" width="6.4" height="6.4" stroke="#e3241f" stroke-width="1.45" fill="none"/><rect x="338.42" y="579.4" width="6.4" height="6.4" stroke="#e3241f" stroke-width="1.45" fill="none"/><rect x="343.77" y="578.68" width="6.4" height="6.4" stroke="#e3241f" stroke-width="1.45" fill="none"/><rect x="349.11" y="575.8" width="6.4" height="6.4" stroke="#e3241f" stroke-width="1.45" fill="none"/><rect x="354.46" y="574.36" width="6.4" height="6.4" stroke="#e3241f" stroke-width="1.45" fill="none"/><rect x="359.81" y="572.92" width="6.4" height="6.4" stroke="#e3241f" stroke-width="1.45" fill="none"/><rect x="365.16" y="571.48" width="6.4" height="6.4" stroke="#e3241f" stroke-width="1.45" fill="none"/><rect x="370.5" y="570.4" width="6.4" height="6.4" stroke="#e3241f" stroke-width="1.45" fill="none"/><rect x="375.85" y="569.68" width="6.4" height="6.4" stroke="#e3241f" stroke-width="1.45" fill="none"/><rect x="381.2" y="568.96" width="6.4" height="6.4" stroke="#e3241f" stroke-width="1.45" fill="none"/>
<path d="M47.5 582.6 L52.85 582.6 L58.2 582.6 L63.54 582.6 L68.89 582.6 L74.24 582.6 L79.59 582.6 L84.93 582.6 L90.28 582.6 L95.63 582.6 L100.98 582.6 L106.32 582.6 L111.67 582.6 L117.02 582.6 L122.37 582.6 L127.71 573.24 L133.06 555.96 L138.41 533.28 L143.76 505.56 L149.1 474.6 L154.45 446.52 L159.8 422.04 L165.15 406.2 L170.5 400.08 L175.84 404.04 L181.19 415.56 L186.54 428.88 L191.89 444.36 L197.23 458.76 L202.58 469.92 L207.93 477.84 L213.28 480.36 L218.62 482.52 L223.97 480.72 L229.32 478.2 L234.67 473.16 L240.01 465.6 L245.36 460.92 L250.71 461.64 L256.06 467.04 L261.4 475.68 L266.75 488.64 L272.1 503.76 L277.45 520.32 L282.8 534.36 L288.14 546.96 L293.49 559.56 L298.84 569.64 L304.19 576.12 L309.53 579.72 L314.88 581.16 L320.23 581.52 L325.58 581.52 L330.92 581.52 L336.27 581.52 L341.62 581.52 L346.97 581.52 L352.31 581.16 L357.66 581.16 L363.01 581.16 L368.36 580.8 L373.7 580.8 L379.05 580.8 L384.4 580.8" stroke="#52c3d6" stroke-width="1" fill="none" stroke-dasharray="5 4"/>
<path d="M47.5 577.9L51.8 585.2H43.2Z" stroke="#52c3d6" stroke-width="1.35" fill="none"/><path d="M52.85 577.9L57.15 585.2H48.55Z" stroke="#52c3d6" stroke-width="1.35" fill="none"/><path d="M58.2 577.9L62.5 585.2H53.9Z" stroke="#52c3d6" stroke-width="1.35" fill="none"/><path d="M63.54 577.9L67.84 585.2H59.24Z" stroke="#52c3d6" stroke-width="1.35" fill="none"/><path d="M68.89 577.9L73.19 585.2H64.59Z" stroke="#52c3d6" stroke-width="1.35" fill="none"/><path d="M74.24 577.9L78.54 585.2H69.94Z" stroke="#52c3d6" stroke-width="1.35" fill="none"/><path d="M79.59 577.9L83.89 585.2H75.29Z" stroke="#52c3d6" stroke-width="1.35" fill="none"/><path d="M84.93 577.9L89.23 585.2H80.63Z" stroke="#52c3d6" stroke-width="1.35" fill="none"/><path d="M90.28 577.9L94.58 585.2H85.98Z" stroke="#52c3d6" stroke-width="1.35" fill="none"/><path d="M95.63 577.9L99.93 585.2H91.33Z" stroke="#52c3d6" stroke-width="1.35" fill="none"/><path d="M100.98 577.9L105.28 585.2H96.68Z" stroke="#52c3d6" stroke-width="1.35" fill="none"/><path d="M106.32 577.9L110.62 585.2H102.02Z" stroke="#52c3d6" stroke-width="1.35" fill="none"/><path d="M111.67 577.9L115.97 585.2H107.37Z" stroke="#52c3d6" stroke-width="1.35" fill="none"/><path d="M117.02 577.9L121.32 585.2H112.72Z" stroke="#52c3d6" stroke-width="1.35" fill="none"/><path d="M122.37 577.9L126.67 585.2H118.07Z" stroke="#52c3d6" stroke-width="1.35" fill="none"/><path d="M127.71 568.54L132.01 575.84H123.41Z" stroke="#52c3d6" stroke-width="1.35" fill="none"/><path d="M133.06 551.26L137.36 558.56H128.76Z" stroke="#52c3d6" stroke-width="1.35" fill="none"/><path d="M138.41 528.58L142.71 535.88H134.11Z" stroke="#52c3d6" stroke-width="1.35" fill="none"/><path d="M143.76 500.86L148.06 508.16H139.46Z" stroke="#52c3d6" stroke-width="1.35" fill="none"/><path d="M149.1 469.9L153.4 477.2H144.8Z" stroke="#52c3d6" stroke-width="1.35" fill="none"/><path d="M154.45 441.82L158.75 449.12H150.15Z" stroke="#52c3d6" stroke-width="1.35" fill="none"/><path d="M159.8 417.34L164.1 424.64H155.5Z" stroke="#52c3d6" stroke-width="1.35" fill="none"/><path d="M165.15 401.5L169.45 408.8H160.85Z" stroke="#52c3d6" stroke-width="1.35" fill="none"/><path d="M170.5 395.38L174.8 402.68H166.2Z" stroke="#52c3d6" stroke-width="1.35" fill="none"/><path d="M175.84 399.34L180.14 406.64H171.54Z" stroke="#52c3d6" stroke-width="1.35" fill="none"/><path d="M181.19 410.86L185.49 418.16H176.89Z" stroke="#52c3d6" stroke-width="1.35" fill="none"/><path d="M186.54 424.18L190.84 431.48H182.24Z" stroke="#52c3d6" stroke-width="1.35" fill="none"/><path d="M191.89 439.66L196.19 446.96H187.59Z" stroke="#52c3d6" stroke-width="1.35" fill="none"/><path d="M197.23 454.06L201.53 461.36H192.93Z" stroke="#52c3d6" stroke-width="1.35" fill="none"/><path d="M202.58 465.22L206.88 472.52H198.28Z" stroke="#52c3d6" stroke-width="1.35" fill="none"/><path d="M207.93 473.14L212.23 480.44H203.63Z" stroke="#52c3d6" stroke-width="1.35" fill="none"/><path d="M213.28 475.66L217.58 482.96H208.98Z" stroke="#52c3d6" stroke-width="1.35" fill="none"/><path d="M218.62 477.82L222.92 485.12H214.32Z" stroke="#52c3d6" stroke-width="1.35" fill="none"/><path d="M223.97 476.02L228.27 483.32H219.67Z" stroke="#52c3d6" stroke-width="1.35" fill="none"/><path d="M229.32 473.5L233.62 480.8H225.02Z" stroke="#52c3d6" stroke-width="1.35" fill="none"/><path d="M234.67 468.46L238.97 475.76H230.37Z" stroke="#52c3d6" stroke-width="1.35" fill="none"/><path d="M240.01 460.9L244.31 468.2H235.71Z" stroke="#52c3d6" stroke-width="1.35" fill="none"/><path d="M245.36 456.22L249.66 463.52H241.06Z" stroke="#52c3d6" stroke-width="1.35" fill="none"/><path d="M250.71 456.94L255.01 464.24H246.41Z" stroke="#52c3d6" stroke-width="1.35" fill="none"/><path d="M256.06 462.34L260.36 469.64H251.76Z" stroke="#52c3d6" stroke-width="1.35" fill="none"/><path d="M261.4 470.98L265.7 478.28H257.1Z" stroke="#52c3d6" stroke-width="1.35" fill="none"/><path d="M266.75 483.94L271.05 491.24H262.45Z" stroke="#52c3d6" stroke-width="1.35" fill="none"/><path d="M272.1 499.06L276.4 506.36H267.8Z" stroke="#52c3d6" stroke-width="1.35" fill="none"/><path d="M277.45 515.62L281.75 522.92H273.15Z" stroke="#52c3d6" stroke-width="1.35" fill="none"/><path d="M282.8 529.66L287.1 536.96H278.5Z" stroke="#52c3d6" stroke-width="1.35" fill="none"/><path d="M288.14 542.26L292.44 549.56H283.84Z" stroke="#52c3d6" stroke-width="1.35" fill="none"/><path d="M293.49 554.86L297.79 562.16H289.19Z" stroke="#52c3d6" stroke-width="1.35" fill="none"/><path d="M298.84 564.94L303.14 572.24H294.54Z" stroke="#52c3d6" stroke-width="1.35" fill="none"/><path d="M304.19 571.42L308.49 578.72H299.89Z" stroke="#52c3d6" stroke-width="1.35" fill="none"/><path d="M309.53 575.02L313.83 582.32H305.23Z" stroke="#52c3d6" stroke-width="1.35" fill="none"/><path d="M314.88 576.46L319.18 583.76H310.58Z" stroke="#52c3d6" stroke-width="1.35" fill="none"/><path d="M320.23 576.82L324.53 584.12H315.93Z" stroke="#52c3d6" stroke-width="1.35" fill="none"/><path d="M325.58 576.82L329.88 584.12H321.28Z" stroke="#52c3d6" stroke-width="1.35" fill="none"/><path d="M330.92 576.82L335.22 584.12H326.62Z" stroke="#52c3d6" stroke-width="1.35" fill="none"/><path d="M336.27 576.82L340.57 584.12H331.97Z" stroke="#52c3d6" stroke-width="1.35" fill="none"/><path d="M341.62 576.82L345.92 584.12H337.32Z" stroke="#52c3d6" stroke-width="1.35" fill="none"/><path d="M346.97 576.82L351.27 584.12H342.67Z" stroke="#52c3d6" stroke-width="1.35" fill="none"/><path d="M352.31 576.46L356.61 583.76H348.01Z" stroke="#52c3d6" stroke-width="1.35" fill="none"/><path d="M357.66 576.46L361.96 583.76H353.36Z" stroke="#52c3d6" stroke-width="1.35" fill="none"/><path d="M363.01 576.46L367.31 583.76H358.71Z" stroke="#52c3d6" stroke-width="1.35" fill="none"/><path d="M368.36 576.1L372.66 583.4H364.06Z" stroke="#52c3d6" stroke-width="1.35" fill="none"/><path d="M373.7 576.1L378 583.4H369.4Z" stroke="#52c3d6" stroke-width="1.35" fill="none"/><path d="M379.05 576.1L383.35 583.4H374.75Z" stroke="#52c3d6" stroke-width="1.35" fill="none"/><path d="M384.4 576.1L388.7 583.4H380.1Z" stroke="#52c3d6" stroke-width="1.35" fill="none"/>
</g>
<rect x="47.6" y="330.6" width="337.2" height="252" fill="none" stroke="#6a6a6a" stroke-width="1.7"/>
<path d="M47.5 582.6V578.6M47.5 330.6V334.6M67.78 582.6V580.2M67.78 330.6V333M79.65 582.6V580.2M79.65 330.6V333M88.07 582.6V580.2M88.07 330.6V333M94.6 582.6V580.2M94.6 330.6V333M99.93 582.6V580.2M99.93 330.6V333M104.44 582.6V580.2M104.44 330.6V333M108.35 582.6V580.2M108.35 330.6V333M111.8 582.6V580.2M111.8 330.6V333M114.88 582.6V578.6M114.88 330.6V334.6M135.16 582.6V580.2M135.16 330.6V333M147.03 582.6V580.2M147.03 330.6V333M155.45 582.6V580.2M155.45 330.6V333M161.98 582.6V580.2M161.98 330.6V333M167.31 582.6V580.2M167.31 330.6V333M171.82 582.6V580.2M171.82 330.6V333M175.73 582.6V580.2M175.73 330.6V333M179.18 582.6V580.2M179.18 330.6V333M182.26 582.6V578.6M182.26 330.6V334.6M202.54 582.6V580.2M202.54 330.6V333M214.41 582.6V580.2M214.41 330.6V333M222.83 582.6V580.2M222.83 330.6V333M229.36 582.6V580.2M229.36 330.6V333M234.69 582.6V580.2M234.69 330.6V333M239.2 582.6V580.2M239.2 330.6V333M243.11 582.6V580.2M243.11 330.6V333M246.56 582.6V580.2M246.56 330.6V333M249.64 582.6V578.6M249.64 330.6V334.6M269.92 582.6V580.2M269.92 330.6V333M281.79 582.6V580.2M281.79 330.6V333M290.21 582.6V580.2M290.21 330.6V333M296.74 582.6V580.2M296.74 330.6V333M302.07 582.6V580.2M302.07 330.6V333M306.58 582.6V580.2M306.58 330.6V333M310.49 582.6V580.2M310.49 330.6V333M313.94 582.6V580.2M313.94 330.6V333M317.02 582.6V578.6M317.02 330.6V334.6M337.3 582.6V580.2M337.3 330.6V333M349.17 582.6V580.2M349.17 330.6V333M357.59 582.6V580.2M357.59 330.6V333M364.12 582.6V580.2M364.12 330.6V333M369.45 582.6V580.2M369.45 330.6V333M373.96 582.6V580.2M373.96 330.6V333M377.87 582.6V580.2M377.87 330.6V333M381.32 582.6V580.2M381.32 330.6V333M47.6 582.6H51M384.8 582.6H381.4M47.6 546.6H51M384.8 546.6H381.4M47.6 510.6H51M384.8 510.6H381.4M47.6 474.6H51M384.8 474.6H381.4M47.6 438.6H51M384.8 438.6H381.4M47.6 402.6H51M384.8 402.6H381.4M47.6 366.6H51M384.8 366.6H381.4M47.6 330.6H51M384.8 330.6H381.4" stroke="#4a4a4a" stroke-width="0.9" fill="none"/>
<g fill="#000"><text x="37" y="603" font-size="10.0">10<tspan font-size="6.3" dx="0.6" dy="-3.4">-1</tspan></text><text x="105.6" y="603" font-size="10.0">10<tspan font-size="6.3" dx="0.6" dy="-3.4">0</tspan></text><text x="173.8" y="603" font-size="10.0">10<tspan font-size="6.3" dx="0.6" dy="-3.4">1</tspan></text><text x="240.7" y="603" font-size="10.0">10<tspan font-size="6.3" dx="0.6" dy="-3.4">2</tspan></text><text x="308.4" y="603" font-size="10.0">10<tspan font-size="6.3" dx="0.6" dy="-3.4">3</tspan></text><text x="375.9" y="603" font-size="10.0">10<tspan font-size="6.3" dx="0.6" dy="-3.4">4</tspan></text><text x="43.2" y="588.78" font-size="10.0" text-anchor="end">0</text><text x="42.2" y="552.78" font-size="10.0" text-anchor="end">0.1</text><text x="42.2" y="516.78" font-size="10.0" text-anchor="end">0.2</text><text x="42.2" y="480.78" font-size="10.0" text-anchor="end">0.3</text><text x="42.2" y="444.78" font-size="10.0" text-anchor="end">0.4</text><text x="42.2" y="408.78" font-size="10.0" text-anchor="end">0.5</text><text x="42.2" y="372.78" font-size="10.0" text-anchor="end">0.6</text><text x="42.2" y="336.78" font-size="10.0" text-anchor="end">0.7</text></g>
<text x="51.3" y="354.8" font-size="17" font-weight="bold" fill="#000">(a)</text>
<text x="75.9" y="354.8" font-size="13.2" fill="#000">Norm smoothing</text>
<text x="201.4" y="621.6" font-size="13.5" fill="#000">T<tspan font-size="8.8" dy="4.8">2</tspan><tspan dy="-4.8">, ms</tspan></text>
<text transform="translate(16.4 451.3) rotate(-90)" x="0" y="0" font-size="13.1" text-anchor="middle" fill="#000">Porosity, p.u.</text>
<path d="M259.6 346.1H290.6" stroke="#000" stroke-width="1.7"/>
<text x="295" y="349.6" font-size="10.9" fill="#000">Model</text>
<path d="M259.6 360.55H290.6" stroke="#56b93a" stroke-width="1.1" stroke-dasharray="6 5.75"/>
<path d="M271.5 360.55H278.7M275.1 356.95V364.15" stroke="#56b93a" stroke-width="1.55" fill="none"/>
<text x="295" y="364.05" font-size="10.9" fill="#000">DP</text>
<path d="M259.6 375H290.6" stroke="#2446a8" stroke-width="1.1" stroke-dasharray="6 5.75"/>
<circle cx="275.1" cy="375" r="3.4" stroke="#2446a8" stroke-width="1.35" fill="none"/>
<text x="295" y="378.5" font-size="10.9" fill="#000">GCV</text>
<path d="M259.6 389.45H290.6" stroke="#b040b0" stroke-width="1.1" stroke-dasharray="6 5.75"/>
<path d="M272.4 389.45H277.8M273.1 387.45L277.1 391.45M273.1 391.45L277.1 387.45" stroke="#b040b0" stroke-width="0.9" fill="none"/>
<text x="295" y="392.95" font-size="10.9" fill="#000">S-curve</text>
<path d="M259.6 403.9H290.6" stroke="#e3241f" stroke-width="1.1" stroke-dasharray="6 5.75"/>
<rect x="271.9" y="400.7" width="6.4" height="6.4" stroke="#e3241f" stroke-width="1.45" fill="none"/>
<text x="295" y="407.4" font-size="10.9" fill="#000">L-curve</text>
<path d="M259.6 418.35H290.6" stroke="#52c3d6" stroke-width="1.1" stroke-dasharray="6 5.75"/>
<path d="M275.1 413.65L279.4 420.95H270.8Z" stroke="#52c3d6" stroke-width="1.35" fill="none"/>
<text x="295" y="421.85" font-size="10.9" fill="#000">Slope of L-curve</text>
<clipPath id="clipD"><rect x="463.2" y="331.6" width="334.6" height="252"/></clipPath>
<g clip-path="url(#clipD)">
<path d="M469.2 577.6 L474.32 577.59 L479.44 577.58 L484.56 577.56 L489.68 577.51 L494.8 577.4 L499.92 577.17 L505.04 576.73 L510.17 575.92 L515.29 574.46 L520.41 571.99 L525.53 567.99 L530.65 561.83 L535.77 552.8 L540.89 540.21 L546.01 523.57 L551.13 502.79 L556.25 478.31 L561.37 451.3 L566.49 423.6 L571.61 397.6 L576.73 375.86 L581.85 360.7 L586.97 353.75 L592.1 355.51 L597.22 365.26 L602.34 381.07 L607.46 400.17 L612.58 419.41 L617.7 435.8 L622.82 444.15 L627.94 449.43 L633.06 449.66 L638.18 443.06 L643.3 432.64 L648.42 421.48 L653.54 412.25 L658.66 407.25 L663.78 408.01 L668.9 415.07 L674.03 427.96 L679.15 445.41 L684.27 465.62 L689.39 486.67 L694.51 506.84 L699.63 524.83 L704.75 539.89 L709.87 551.78 L714.99 560.66 L720.11 566.95 L725.23 571.18 L730.35 573.9 L735.47 575.55 L740.59 576.51 L745.71 577.05 L750.83 577.33 L755.96 577.47 L761.08 577.54 L766.2 577.58 L771.32 577.59 L776.44 577.6 L781.56 577.6 L786.68 577.6 L791.8 577.6" stroke="#000" stroke-width="1.6" fill="none" stroke-linejoin="round"/>
<path d="M469.2 575.2 L474.32 573.76 L479.44 570.88 L484.56 566.8 L489.68 561.76 L494.8 556 L499.92 549.52 L505.04 542.08 L510.17 534.4 L515.29 525.76 L520.41 518.08 L525.53 508 L530.65 498.88 L535.77 489.28 L540.89 479.68 L546.01 470.56 L551.13 460.96 L556.25 453.28 L561.37 443.68 L566.49 435.04 L571.61 426.4 L576.73 420.4 L581.85 414.4 L586.97 409.12 L592.1 404.8 L597.22 401.44 L602.34 399.04 L607.46 397.12 L612.58 396.88 L617.7 397.12 L622.82 398.56 L627.94 400.48 L633.06 404.08 L638.18 408.4 L643.3 414.4 L648.42 422.08 L653.54 429.76 L658.66 437.44 L663.78 446.08 L668.9 455.68 L674.03 465.76 L679.15 476.8 L684.27 486.88 L689.39 497.92 L694.51 508.96 L699.63 520 L704.75 530.08 L709.87 540.16 L714.99 548.8 L720.11 555.52 L725.23 563.2 L730.35 568.96 L735.47 572.32 L740.59 574.38 L745.71 575.68 L750.83 576.16 L755.96 576.64 L761.08 577.6 L766.2 577.6 L771.32 577.6 L776.44 577.6 L781.56 577.6 L786.68 577.6 L791.8 577.6" stroke="#56b93a" stroke-width="1" fill="none" stroke-dasharray="5 4"/>
<path d="M465.6 575.2H472.8M469.2 571.6V578.8" stroke="#56b93a" stroke-width="1.55" fill="none"/><path d="M470.72 573.76H477.92M474.32 570.16V577.36" stroke="#56b93a" stroke-width="1.55" fill="none"/><path d="M475.84 570.88H483.04M479.44 567.28V574.48" stroke="#56b93a" stroke-width="1.55" fill="none"/><path d="M480.96 566.8H488.16M484.56 563.2V570.4" stroke="#56b93a" stroke-width="1.55" fill="none"/><path d="M486.08 561.76H493.28M489.68 558.16V565.36" stroke="#56b93a" stroke-width="1.55" fill="none"/><path d="M491.2 556H498.4M494.8 552.4V559.6" stroke="#56b93a" stroke-width="1.55" fill="none"/><path d="M496.32 549.52H503.52M499.92 545.92V553.12" stroke="#56b93a" stroke-width="1.55" fill="none"/><path d="M501.44 542.08H508.64M505.04 538.48V545.68" stroke="#56b93a" stroke-width="1.55" fill="none"/><path d="M506.57 534.4H513.77M510.17 530.8V538" stroke="#56b93a" stroke-width="1.55" fill="none"/><path d="M511.69 525.76H518.89M515.29 522.16V529.36" stroke="#56b93a" stroke-width="1.55" fill="none"/><path d="M516.81 518.08H524.01M520.41 514.48V521.68" stroke="#56b93a" stroke-width="1.55" fill="none"/><path d="M521.93 508H529.13M525.53 504.4V511.6" stroke="#56b93a" stroke-width="1.55" fill="none"/><path d="M527.05 498.88H534.25M530.65 495.28V502.48" stroke="#56b93a" stroke-width="1.55" fill="none"/><path d="M532.17 489.28H539.37M535.77 485.68V492.88" stroke="#56b93a" stroke-width="1.55" fill="none"/><path d="M537.29 479.68H544.49M540.89 476.08V483.28" stroke="#56b93a" stroke-width="1.55" fill="none"/><path d="M542.41 470.56H549.61M546.01 466.96V474.16" stroke="#56b93a" stroke-width="1.55" fill="none"/><path d="M547.53 460.96H554.73M551.13 457.36V464.56" stroke="#56b93a" stroke-width="1.55" fill="none"/><path d="M552.65 453.28H559.85M556.25 449.68V456.88" stroke="#56b93a" stroke-width="1.55" fill="none"/><path d="M557.77 443.68H564.97M561.37 440.08V447.28" stroke="#56b93a" stroke-width="1.55" fill="none"/><path d="M562.89 435.04H570.09M566.49 431.44V438.64" stroke="#56b93a" stroke-width="1.55" fill="none"/><path d="M568.01 426.4H575.21M571.61 422.8V430" stroke="#56b93a" stroke-width="1.55" fill="none"/><path d="M573.13 420.4H580.33M576.73 416.8V424" stroke="#56b93a" stroke-width="1.55" fill="none"/><path d="M578.25 414.4H585.45M581.85 410.8V418" stroke="#56b93a" stroke-width="1.55" fill="none"/><path d="M583.37 409.12H590.57M586.97 405.52V412.72" stroke="#56b93a" stroke-width="1.55" fill="none"/><path d="M588.5 404.8H595.7M592.1 401.2V408.4" stroke="#56b93a" stroke-width="1.55" fill="none"/><path d="M593.62 401.44H600.82M597.22 397.84V405.04" stroke="#56b93a" stroke-width="1.55" fill="none"/><path d="M598.74 399.04H605.94M602.34 395.44V402.64" stroke="#56b93a" stroke-width="1.55" fill="none"/><path d="M603.86 397.12H611.06M607.46 393.52V400.72" stroke="#56b93a" stroke-width="1.55" fill="none"/><path d="M608.98 396.88H616.18M612.58 393.28V400.48" stroke="#56b93a" stroke-width="1.55" fill="none"/><path d="M614.1 397.12H621.3M617.7 393.52V400.72" stroke="#56b93a" stroke-width="1.55" fill="none"/><path d="M619.22 398.56H626.42M622.82 394.96V402.16" stroke="#56b93a" stroke-width="1.55" fill="none"/><path d="M624.34 400.48H631.54M627.94 396.88V404.08" stroke="#56b93a" stroke-width="1.55" fill="none"/><path d="M629.46 404.08H636.66M633.06 400.48V407.68" stroke="#56b93a" stroke-width="1.55" fill="none"/><path d="M634.58 408.4H641.78M638.18 404.8V412" stroke="#56b93a" stroke-width="1.55" fill="none"/><path d="M639.7 414.4H646.9M643.3 410.8V418" stroke="#56b93a" stroke-width="1.55" fill="none"/><path d="M644.82 422.08H652.02M648.42 418.48V425.68" stroke="#56b93a" stroke-width="1.55" fill="none"/><path d="M649.94 429.76H657.14M653.54 426.16V433.36" stroke="#56b93a" stroke-width="1.55" fill="none"/><path d="M655.06 437.44H662.26M658.66 433.84V441.04" stroke="#56b93a" stroke-width="1.55" fill="none"/><path d="M660.18 446.08H667.38M663.78 442.48V449.68" stroke="#56b93a" stroke-width="1.55" fill="none"/><path d="M665.3 455.68H672.5M668.9 452.08V459.28" stroke="#56b93a" stroke-width="1.55" fill="none"/><path d="M670.43 465.76H677.63M674.03 462.16V469.36" stroke="#56b93a" stroke-width="1.55" fill="none"/><path d="M675.55 476.8H682.75M679.15 473.2V480.4" stroke="#56b93a" stroke-width="1.55" fill="none"/><path d="M680.67 486.88H687.87M684.27 483.28V490.48" stroke="#56b93a" stroke-width="1.55" fill="none"/><path d="M685.79 497.92H692.99M689.39 494.32V501.52" stroke="#56b93a" stroke-width="1.55" fill="none"/><path d="M690.91 508.96H698.11M694.51 505.36V512.56" stroke="#56b93a" stroke-width="1.55" fill="none"/><path d="M696.03 520H703.23M699.63 516.4V523.6" stroke="#56b93a" stroke-width="1.55" fill="none"/><path d="M701.15 530.08H708.35M704.75 526.48V533.68" stroke="#56b93a" stroke-width="1.55" fill="none"/><path d="M706.27 540.16H713.47M709.87 536.56V543.76" stroke="#56b93a" stroke-width="1.55" fill="none"/><path d="M711.39 548.8H718.59M714.99 545.2V552.4" stroke="#56b93a" stroke-width="1.55" fill="none"/><path d="M716.51 555.52H723.71M720.11 551.92V559.12" stroke="#56b93a" stroke-width="1.55" fill="none"/><path d="M721.63 563.2H728.83M725.23 559.6V566.8" stroke="#56b93a" stroke-width="1.55" fill="none"/><path d="M726.75 568.96H733.95M730.35 565.36V572.56" stroke="#56b93a" stroke-width="1.55" fill="none"/><path d="M731.87 572.32H739.07M735.47 568.72V575.92" stroke="#56b93a" stroke-width="1.55" fill="none"/><path d="M736.99 574.38H744.19M740.59 570.78V577.98" stroke="#56b93a" stroke-width="1.55" fill="none"/><path d="M742.11 575.68H749.31M745.71 572.08V579.28" stroke="#56b93a" stroke-width="1.55" fill="none"/><path d="M747.23 576.16H754.43M750.83 572.56V579.76" stroke="#56b93a" stroke-width="1.55" fill="none"/><path d="M752.36 576.64H759.56M755.96 573.04V580.24" stroke="#56b93a" stroke-width="1.55" fill="none"/><path d="M757.48 577.6H764.68M761.08 574V581.2" stroke="#56b93a" stroke-width="1.55" fill="none"/><path d="M762.6 577.6H769.8M766.2 574V581.2" stroke="#56b93a" stroke-width="1.55" fill="none"/><path d="M767.72 577.6H774.92M771.32 574V581.2" stroke="#56b93a" stroke-width="1.55" fill="none"/><path d="M772.84 577.6H780.04M776.44 574V581.2" stroke="#56b93a" stroke-width="1.55" fill="none"/><path d="M777.96 577.6H785.16M781.56 574V581.2" stroke="#56b93a" stroke-width="1.55" fill="none"/><path d="M783.08 577.6H790.28M786.68 574V581.2" stroke="#56b93a" stroke-width="1.55" fill="none"/><path d="M788.2 577.6H795.4M791.8 574V581.2" stroke="#56b93a" stroke-width="1.55" fill="none"/>
<path d="M469.2 575.2 L474.32 573.76 L479.44 570.88 L484.56 566.8 L489.68 561.76 L494.8 556 L499.92 549.52 L505.04 542.08 L510.17 534.4 L515.29 525.76 L520.41 518.08 L525.53 508 L530.65 498.88 L535.77 489.28 L540.89 479.68 L546.01 470.56 L551.13 460.96 L556.25 453.28 L561.37 443.68 L566.49 435.04 L571.61 426.4 L576.73 420.4 L581.85 414.4 L586.97 409.12 L592.1 404.8 L597.22 401.44 L602.34 399.04 L607.46 397.12 L612.58 396.88 L617.7 397.12 L622.82 398.56 L627.94 400.48 L633.06 404.08 L638.18 408.4 L643.3 414.4 L648.42 422.08 L653.54 429.76 L658.66 437.44 L663.78 446.08 L668.9 455.68 L674.03 465.76 L679.15 476.8 L684.27 486.88 L689.39 497.92 L694.51 508.96 L699.63 520 L704.75 530.08 L709.87 540.16 L714.99 548.8 L720.11 555.52 L725.23 563.2 L730.35 568.96 L735.47 572.32 L740.59 574.38 L745.71 575.68 L750.83 576.16 L755.96 576.64 L761.08 577.6 L766.2 577.6 L771.32 577.6 L776.44 577.6 L781.56 577.6 L786.68 577.6 L791.8 577.6" stroke="#2446a8" stroke-width="1" fill="none" stroke-dasharray="5 4"/>
<circle cx="469.2" cy="575.2" r="3.4" stroke="#2446a8" stroke-width="1.35" fill="none"/><circle cx="474.32" cy="573.76" r="3.4" stroke="#2446a8" stroke-width="1.35" fill="none"/><circle cx="479.44" cy="570.88" r="3.4" stroke="#2446a8" stroke-width="1.35" fill="none"/><circle cx="484.56" cy="566.8" r="3.4" stroke="#2446a8" stroke-width="1.35" fill="none"/><circle cx="489.68" cy="561.76" r="3.4" stroke="#2446a8" stroke-width="1.35" fill="none"/><circle cx="494.8" cy="556" r="3.4" stroke="#2446a8" stroke-width="1.35" fill="none"/><circle cx="499.92" cy="549.52" r="3.4" stroke="#2446a8" stroke-width="1.35" fill="none"/><circle cx="505.04" cy="542.08" r="3.4" stroke="#2446a8" stroke-width="1.35" fill="none"/><circle cx="510.17" cy="534.4" r="3.4" stroke="#2446a8" stroke-width="1.35" fill="none"/><circle cx="515.29" cy="525.76" r="3.4" stroke="#2446a8" stroke-width="1.35" fill="none"/><circle cx="520.41" cy="518.08" r="3.4" stroke="#2446a8" stroke-width="1.35" fill="none"/><circle cx="525.53" cy="508" r="3.4" stroke="#2446a8" stroke-width="1.35" fill="none"/><circle cx="530.65" cy="498.88" r="3.4" stroke="#2446a8" stroke-width="1.35" fill="none"/><circle cx="535.77" cy="489.28" r="3.4" stroke="#2446a8" stroke-width="1.35" fill="none"/><circle cx="540.89" cy="479.68" r="3.4" stroke="#2446a8" stroke-width="1.35" fill="none"/><circle cx="546.01" cy="470.56" r="3.4" stroke="#2446a8" stroke-width="1.35" fill="none"/><circle cx="551.13" cy="460.96" r="3.4" stroke="#2446a8" stroke-width="1.35" fill="none"/><circle cx="556.25" cy="453.28" r="3.4" stroke="#2446a8" stroke-width="1.35" fill="none"/><circle cx="561.37" cy="443.68" r="3.4" stroke="#2446a8" stroke-width="1.35" fill="none"/><circle cx="566.49" cy="435.04" r="3.4" stroke="#2446a8" stroke-width="1.35" fill="none"/><circle cx="571.61" cy="426.4" r="3.4" stroke="#2446a8" stroke-width="1.35" fill="none"/><circle cx="576.73" cy="420.4" r="3.4" stroke="#2446a8" stroke-width="1.35" fill="none"/><circle cx="581.85" cy="414.4" r="3.4" stroke="#2446a8" stroke-width="1.35" fill="none"/><circle cx="586.97" cy="409.12" r="3.4" stroke="#2446a8" stroke-width="1.35" fill="none"/><circle cx="592.1" cy="404.8" r="3.4" stroke="#2446a8" stroke-width="1.35" fill="none"/><circle cx="597.22" cy="401.44" r="3.4" stroke="#2446a8" stroke-width="1.35" fill="none"/><circle cx="602.34" cy="399.04" r="3.4" stroke="#2446a8" stroke-width="1.35" fill="none"/><circle cx="607.46" cy="397.12" r="3.4" stroke="#2446a8" stroke-width="1.35" fill="none"/><circle cx="612.58" cy="396.88" r="3.4" stroke="#2446a8" stroke-width="1.35" fill="none"/><circle cx="617.7" cy="397.12" r="3.4" stroke="#2446a8" stroke-width="1.35" fill="none"/><circle cx="622.82" cy="398.56" r="3.4" stroke="#2446a8" stroke-width="1.35" fill="none"/><circle cx="627.94" cy="400.48" r="3.4" stroke="#2446a8" stroke-width="1.35" fill="none"/><circle cx="633.06" cy="404.08" r="3.4" stroke="#2446a8" stroke-width="1.35" fill="none"/><circle cx="638.18" cy="408.4" r="3.4" stroke="#2446a8" stroke-width="1.35" fill="none"/><circle cx="643.3" cy="414.4" r="3.4" stroke="#2446a8" stroke-width="1.35" fill="none"/><circle cx="648.42" cy="422.08" r="3.4" stroke="#2446a8" stroke-width="1.35" fill="none"/><circle cx="653.54" cy="429.76" r="3.4" stroke="#2446a8" stroke-width="1.35" fill="none"/><circle cx="658.66" cy="437.44" r="3.4" stroke="#2446a8" stroke-width="1.35" fill="none"/><circle cx="663.78" cy="446.08" r="3.4" stroke="#2446a8" stroke-width="1.35" fill="none"/><circle cx="668.9" cy="455.68" r="3.4" stroke="#2446a8" stroke-width="1.35" fill="none"/><circle cx="674.03" cy="465.76" r="3.4" stroke="#2446a8" stroke-width="1.35" fill="none"/><circle cx="679.15" cy="476.8" r="3.4" stroke="#2446a8" stroke-width="1.35" fill="none"/><circle cx="684.27" cy="486.88" r="3.4" stroke="#2446a8" stroke-width="1.35" fill="none"/><circle cx="689.39" cy="497.92" r="3.4" stroke="#2446a8" stroke-width="1.35" fill="none"/><circle cx="694.51" cy="508.96" r="3.4" stroke="#2446a8" stroke-width="1.35" fill="none"/><circle cx="699.63" cy="520" r="3.4" stroke="#2446a8" stroke-width="1.35" fill="none"/><circle cx="704.75" cy="530.08" r="3.4" stroke="#2446a8" stroke-width="1.35" fill="none"/><circle cx="709.87" cy="540.16" r="3.4" stroke="#2446a8" stroke-width="1.35" fill="none"/><circle cx="714.99" cy="548.8" r="3.4" stroke="#2446a8" stroke-width="1.35" fill="none"/><circle cx="720.11" cy="555.52" r="3.4" stroke="#2446a8" stroke-width="1.35" fill="none"/><circle cx="725.23" cy="563.2" r="3.4" stroke="#2446a8" stroke-width="1.35" fill="none"/><circle cx="730.35" cy="568.96" r="3.4" stroke="#2446a8" stroke-width="1.35" fill="none"/><circle cx="735.47" cy="572.32" r="3.4" stroke="#2446a8" stroke-width="1.35" fill="none"/><circle cx="740.59" cy="574.38" r="3.4" stroke="#2446a8" stroke-width="1.35" fill="none"/><circle cx="745.71" cy="575.68" r="3.4" stroke="#2446a8" stroke-width="1.35" fill="none"/><circle cx="750.83" cy="576.16" r="3.4" stroke="#2446a8" stroke-width="1.35" fill="none"/><circle cx="755.96" cy="576.64" r="3.4" stroke="#2446a8" stroke-width="1.35" fill="none"/><circle cx="761.08" cy="577.6" r="3.4" stroke="#2446a8" stroke-width="1.35" fill="none"/><circle cx="766.2" cy="577.6" r="3.4" stroke="#2446a8" stroke-width="1.35" fill="none"/><circle cx="771.32" cy="577.6" r="3.4" stroke="#2446a8" stroke-width="1.35" fill="none"/><circle cx="776.44" cy="577.6" r="3.4" stroke="#2446a8" stroke-width="1.35" fill="none"/><circle cx="781.56" cy="577.6" r="3.4" stroke="#2446a8" stroke-width="1.35" fill="none"/><circle cx="786.68" cy="577.6" r="3.4" stroke="#2446a8" stroke-width="1.35" fill="none"/><circle cx="791.8" cy="577.6" r="3.4" stroke="#2446a8" stroke-width="1.35" fill="none"/>
<path d="M469.2 577.6 L474.32 577.6 L479.44 577.6 L484.56 576.64 L489.68 573.28 L494.8 569.2 L499.92 566.32 L505.04 561.28 L510.17 555.52 L515.29 548.32 L520.41 540.64 L525.53 531.52 L530.65 521.44 L535.77 509.92 L540.89 497.44 L546.01 484 L551.13 470.56 L556.25 459.52 L561.37 445.6 L566.49 433.6 L571.61 421.6 L576.73 411.52 L581.85 402.4 L586.97 396.16 L592.1 391.84 L597.22 390.4 L602.34 391.36 L607.46 393.28 L612.58 396.16 L617.7 399.04 L622.82 402.4 L627.94 405.76 L633.06 409.6 L638.18 415.36 L643.3 421.12 L648.42 427.36 L653.54 433.6 L658.66 440.32 L663.78 448 L668.9 456.64 L674.03 466.24 L679.15 476.8 L684.27 486.88 L689.39 497.92 L694.51 508.96 L699.63 520 L704.75 530.08 L709.87 540.16 L714.99 548.8 L720.11 555.52 L725.23 563.2 L730.35 568.96 L735.47 572.32 L740.59 574.38 L745.71 575.68 L750.83 576.16 L755.96 576.64 L761.08 577.6 L766.2 577.6 L771.32 577.6 L776.44 577.6 L781.56 577.6 L786.68 577.6 L791.8 577.6" stroke="#b040b0" stroke-width="1" fill="none" stroke-dasharray="5 4"/>
<path d="M466.5 577.6H471.9M467.2 575.6L471.2 579.6M467.2 579.6L471.2 575.6" stroke="#b040b0" stroke-width="0.9" fill="none"/><path d="M471.62 577.6H477.02M472.32 575.6L476.32 579.6M472.32 579.6L476.32 575.6" stroke="#b040b0" stroke-width="0.9" fill="none"/><path d="M476.74 577.6H482.14M477.44 575.6L481.44 579.6M477.44 579.6L481.44 575.6" stroke="#b040b0" stroke-width="0.9" fill="none"/><path d="M481.86 576.64H487.26M482.56 574.64L486.56 578.64M482.56 578.64L486.56 574.64" stroke="#b040b0" stroke-width="0.9" fill="none"/><path d="M486.98 573.28H492.38M487.68 571.28L491.68 575.28M487.68 575.28L491.68 571.28" stroke="#b040b0" stroke-width="0.9" fill="none"/><path d="M492.1 569.2H497.5M492.8 567.2L496.8 571.2M492.8 571.2L496.8 567.2" stroke="#b040b0" stroke-width="0.9" fill="none"/><path d="M497.22 566.32H502.62M497.92 564.32L501.92 568.32M497.92 568.32L501.92 564.32" stroke="#b040b0" stroke-width="0.9" fill="none"/><path d="M502.34 561.28H507.74M503.04 559.28L507.04 563.28M503.04 563.28L507.04 559.28" stroke="#b040b0" stroke-width="0.9" fill="none"/><path d="M507.47 555.52H512.87M508.17 553.52L512.17 557.52M508.17 557.52L512.17 553.52" stroke="#b040b0" stroke-width="0.9" fill="none"/><path d="M512.59 548.32H517.99M513.29 546.32L517.29 550.32M513.29 550.32L517.29 546.32" stroke="#b040b0" stroke-width="0.9" fill="none"/><path d="M517.71 540.64H523.11M518.41 538.64L522.41 542.64M518.41 542.64L522.41 538.64" stroke="#b040b0" stroke-width="0.9" fill="none"/><path d="M522.83 531.52H528.23M523.53 529.52L527.53 533.52M523.53 533.52L527.53 529.52" stroke="#b040b0" stroke-width="0.9" fill="none"/><path d="M527.95 521.44H533.35M528.65 519.44L532.65 523.44M528.65 523.44L532.65 519.44" stroke="#b040b0" stroke-width="0.9" fill="none"/><path d="M533.07 509.92H538.47M533.77 507.92L537.77 511.92M533.77 511.92L537.77 507.92" stroke="#b040b0" stroke-width="0.9" fill="none"/><path d="M538.19 497.44H543.59M538.89 495.44L542.89 499.44M538.89 499.44L542.89 495.44" stroke="#b040b0" stroke-width="0.9" fill="none"/><path d="M543.31 484H548.71M544.01 482L548.01 486M544.01 486L548.01 482" stroke="#b040b0" stroke-width="0.9" fill="none"/><path d="M548.43 470.56H553.83M549.13 468.56L553.13 472.56M549.13 472.56L553.13 468.56" stroke="#b040b0" stroke-width="0.9" fill="none"/><path d="M553.55 459.52H558.95M554.25 457.52L558.25 461.52M554.25 461.52L558.25 457.52" stroke="#b040b0" stroke-width="0.9" fill="none"/><path d="M558.67 445.6H564.07M559.37 443.6L563.37 447.6M559.37 447.6L563.37 443.6" stroke="#b040b0" stroke-width="0.9" fill="none"/><path d="M563.79 433.6H569.19M564.49 431.6L568.49 435.6M564.49 435.6L568.49 431.6" stroke="#b040b0" stroke-width="0.9" fill="none"/><path d="M568.91 421.6H574.31M569.61 419.6L573.61 423.6M569.61 423.6L573.61 419.6" stroke="#b040b0" stroke-width="0.9" fill="none"/><path d="M574.03 411.52H579.43M574.73 409.52L578.73 413.52M574.73 413.52L578.73 409.52" stroke="#b040b0" stroke-width="0.9" fill="none"/><path d="M579.15 402.4H584.55M579.85 400.4L583.85 404.4M579.85 404.4L583.85 400.4" stroke="#b040b0" stroke-width="0.9" fill="none"/><path d="M584.27 396.16H589.67M584.97 394.16L588.97 398.16M584.97 398.16L588.97 394.16" stroke="#b040b0" stroke-width="0.9" fill="none"/><path d="M589.4 391.84H594.8M590.1 389.84L594.1 393.84M590.1 393.84L594.1 389.84" stroke="#b040b0" stroke-width="0.9" fill="none"/><path d="M594.52 390.4H599.92M595.22 388.4L599.22 392.4M595.22 392.4L599.22 388.4" stroke="#b040b0" stroke-width="0.9" fill="none"/><path d="M599.64 391.36H605.04M600.34 389.36L604.34 393.36M600.34 393.36L604.34 389.36" stroke="#b040b0" stroke-width="0.9" fill="none"/><path d="M604.76 393.28H610.16M605.46 391.28L609.46 395.28M605.46 395.28L609.46 391.28" stroke="#b040b0" stroke-width="0.9" fill="none"/><path d="M609.88 396.16H615.28M610.58 394.16L614.58 398.16M610.58 398.16L614.58 394.16" stroke="#b040b0" stroke-width="0.9" fill="none"/><path d="M615 399.04H620.4M615.7 397.04L619.7 401.04M615.7 401.04L619.7 397.04" stroke="#b040b0" stroke-width="0.9" fill="none"/><path d="M620.12 402.4H625.52M620.82 400.4L624.82 404.4M620.82 404.4L624.82 400.4" stroke="#b040b0" stroke-width="0.9" fill="none"/><path d="M625.24 405.76H630.64M625.94 403.76L629.94 407.76M625.94 407.76L629.94 403.76" stroke="#b040b0" stroke-width="0.9" fill="none"/><path d="M630.36 409.6H635.76M631.06 407.6L635.06 411.6M631.06 411.6L635.06 407.6" stroke="#b040b0" stroke-width="0.9" fill="none"/><path d="M635.48 415.36H640.88M636.18 413.36L640.18 417.36M636.18 417.36L640.18 413.36" stroke="#b040b0" stroke-width="0.9" fill="none"/><path d="M640.6 421.12H646M641.3 419.12L645.3 423.12M641.3 423.12L645.3 419.12" stroke="#b040b0" stroke-width="0.9" fill="none"/><path d="M645.72 427.36H651.12M646.42 425.36L650.42 429.36M646.42 429.36L650.42 425.36" stroke="#b040b0" stroke-width="0.9" fill="none"/><path d="M650.84 433.6H656.24M651.54 431.6L655.54 435.6M651.54 435.6L655.54 431.6" stroke="#b040b0" stroke-width="0.9" fill="none"/><path d="M655.96 440.32H661.36M656.66 438.32L660.66 442.32M656.66 442.32L660.66 438.32" stroke="#b040b0" stroke-width="0.9" fill="none"/><path d="M661.08 448H666.48M661.78 446L665.78 450M661.78 450L665.78 446" stroke="#b040b0" stroke-width="0.9" fill="none"/><path d="M666.2 456.64H671.6M666.9 454.64L670.9 458.64M666.9 458.64L670.9 454.64" stroke="#b040b0" stroke-width="0.9" fill="none"/><path d="M671.33 466.24H676.73M672.03 464.24L676.03 468.24M672.03 468.24L676.03 464.24" stroke="#b040b0" stroke-width="0.9" fill="none"/><path d="M676.45 476.8H681.85M677.15 474.8L681.15 478.8M677.15 478.8L681.15 474.8" stroke="#b040b0" stroke-width="0.9" fill="none"/><path d="M681.57 486.88H686.97M682.27 484.88L686.27 488.88M682.27 488.88L686.27 484.88" stroke="#b040b0" stroke-width="0.9" fill="none"/><path d="M686.69 497.92H692.09M687.39 495.92L691.39 499.92M687.39 499.92L691.39 495.92" stroke="#b040b0" stroke-width="0.9" fill="none"/><path d="M691.81 508.96H697.21M692.51 506.96L696.51 510.96M692.51 510.96L696.51 506.96" stroke="#b040b0" stroke-width="0.9" fill="none"/><path d="M696.93 520H702.33M697.63 518L701.63 522M697.63 522L701.63 518" stroke="#b040b0" stroke-width="0.9" fill="none"/><path d="M702.05 530.08H707.45M702.75 528.08L706.75 532.08M702.75 532.08L706.75 528.08" stroke="#b040b0" stroke-width="0.9" fill="none"/><path d="M707.17 540.16H712.57M707.87 538.16L711.87 542.16M707.87 542.16L711.87 538.16" stroke="#b040b0" stroke-width="0.9" fill="none"/><path d="M712.29 548.8H717.69M712.99 546.8L716.99 550.8M712.99 550.8L716.99 546.8" stroke="#b040b0" stroke-width="0.9" fill="none"/><path d="M717.41 555.52H722.81M718.11 553.52L722.11 557.52M718.11 557.52L722.11 553.52" stroke="#b040b0" stroke-width="0.9" fill="none"/><path d="M722.53 563.2H727.93M723.23 561.2L727.23 565.2M723.23 565.2L727.23 561.2" stroke="#b040b0" stroke-width="0.9" fill="none"/><path d="M727.65 568.96H733.05M728.35 566.96L732.35 570.96M728.35 570.96L732.35 566.96" stroke="#b040b0" stroke-width="0.9" fill="none"/><path d="M732.77 572.32H738.17M733.47 570.32L737.47 574.32M733.47 574.32L737.47 570.32" stroke="#b040b0" stroke-width="0.9" fill="none"/><path d="M737.89 574.38H743.29M738.59 572.38L742.59 576.38M738.59 576.38L742.59 572.38" stroke="#b040b0" stroke-width="0.9" fill="none"/><path d="M743.01 575.68H748.41M743.71 573.68L747.71 577.68M743.71 577.68L747.71 573.68" stroke="#b040b0" stroke-width="0.9" fill="none"/><path d="M748.13 576.16H753.53M748.83 574.16L752.83 578.16M748.83 578.16L752.83 574.16" stroke="#b040b0" stroke-width="0.9" fill="none"/><path d="M753.26 576.64H758.66M753.96 574.64L757.96 578.64M753.96 578.64L757.96 574.64" stroke="#b040b0" stroke-width="0.9" fill="none"/><path d="M758.38 577.6H763.78M759.08 575.6L763.08 579.6M759.08 579.6L763.08 575.6" stroke="#b040b0" stroke-width="0.9" fill="none"/><path d="M763.5 577.6H768.9M764.2 575.6L768.2 579.6M764.2 579.6L768.2 575.6" stroke="#b040b0" stroke-width="0.9" fill="none"/><path d="M768.62 577.6H774.02M769.32 575.6L773.32 579.6M769.32 579.6L773.32 575.6" stroke="#b040b0" stroke-width="0.9" fill="none"/><path d="M773.74 577.6H779.14M774.44 575.6L778.44 579.6M774.44 579.6L778.44 575.6" stroke="#b040b0" stroke-width="0.9" fill="none"/><path d="M778.86 577.6H784.26M779.56 575.6L783.56 579.6M779.56 579.6L783.56 575.6" stroke="#b040b0" stroke-width="0.9" fill="none"/><path d="M783.98 577.6H789.38M784.68 575.6L788.68 579.6M784.68 579.6L788.68 575.6" stroke="#b040b0" stroke-width="0.9" fill="none"/><path d="M789.1 577.6H794.5M789.8 575.6L793.8 579.6M789.8 579.6L793.8 575.6" stroke="#b040b0" stroke-width="0.9" fill="none"/>
<path d="M469.2 575.2 L474.32 573.76 L479.44 570.88 L484.56 566.8 L489.68 561.76 L494.8 556 L499.92 549.52 L505.04 542.08 L510.17 534.4 L515.29 525.76 L520.41 518.08 L525.53 508 L530.65 498.88 L535.77 489.28 L540.89 479.68 L546.01 470.56 L551.13 460.96 L556.25 453.28 L561.37 443.68 L566.49 435.04 L571.61 426.4 L576.73 420.4 L581.85 414.4 L586.97 409.12 L592.1 404.8 L597.22 401.44 L602.34 399.04 L607.46 397.12 L612.58 396.88 L617.7 397.12 L622.82 398.56 L627.94 400.48 L633.06 404.08 L638.18 408.4 L643.3 414.4 L648.42 422.08 L653.54 429.76 L658.66 437.44 L663.78 446.08 L668.9 455.68 L674.03 465.76 L679.15 476.8 L684.27 486.88 L689.39 497.92 L694.51 508.96 L699.63 520 L704.75 530.08 L709.87 540.16 L714.99 548.8 L720.11 555.52 L725.23 563.2 L730.35 568.96 L735.47 572.32 L740.59 574.38 L745.71 575.68 L750.83 576.16 L755.96 576.64 L761.08 577.6 L766.2 577.6 L771.32 577.6 L776.44 577.6 L781.56 577.6 L786.68 577.6 L791.8 577.6" stroke="#e3241f" stroke-width="1" fill="none" stroke-dasharray="5 4"/>
<rect x="466" y="572" width="6.4" height="6.4" stroke="#e3241f" stroke-width="1.45" fill="none"/><rect x="471.12" y="570.56" width="6.4" height="6.4" stroke="#e3241f" stroke-width="1.45" fill="none"/><rect x="476.24" y="567.68" width="6.4" height="6.4" stroke="#e3241f" stroke-width="1.45" fill="none"/><rect x="481.36" y="563.6" width="6.4" height="6.4" stroke="#e3241f" stroke-width="1.45" fill="none"/><rect x="486.48" y="558.56" width="6.4" height="6.4" stroke="#e3241f" stroke-width="1.45" fill="none"/><rect x="491.6" y="552.8" width="6.4" height="6.4" stroke="#e3241f" stroke-width="1.45" fill="none"/><rect x="496.72" y="546.32" width="6.4" height="6.4" stroke="#e3241f" stroke-width="1.45" fill="none"/><rect x="501.84" y="538.88" width="6.4" height="6.4" stroke="#e3241f" stroke-width="1.45" fill="none"/><rect x="506.97" y="531.2" width="6.4" height="6.4" stroke="#e3241f" stroke-width="1.45" fill="none"/><rect x="512.09" y="522.56" width="6.4" height="6.4" stroke="#e3241f" stroke-width="1.45" fill="none"/><rect x="517.21" y="514.88" width="6.4" height="6.4" stroke="#e3241f" stroke-width="1.45" fill="none"/><rect x="522.33" y="504.8" width="6.4" height="6.4" stroke="#e3241f" stroke-width="1.45" fill="none"/><rect x="527.45" y="495.68" width="6.4" height="6.4" stroke="#e3241f" stroke-width="1.45" fill="none"/><rect x="532.57" y="486.08" width="6.4" height="6.4" stroke="#e3241f" stroke-width="1.45" fill="none"/><rect x="537.69" y="476.48" width="6.4" height="6.4" stroke="#e3241f" stroke-width="1.45" fill="none"/><rect x="542.81" y="467.36" width="6.4" height="6.4" stroke="#e3241f" stroke-width="1.45" fill="none"/><rect x="547.93" y="457.76" width="6.4" height="6.4" stroke="#e3241f" stroke-width="1.45" fill="none"/><rect x="553.05" y="450.08" width="6.4" height="6.4" stroke="#e3241f" stroke-width="1.45" fill="none"/><rect x="558.17" y="440.48" width="6.4" height="6.4" stroke="#e3241f" stroke-width="1.45" fill="none"/><rect x="563.29" y="431.84" width="6.4" height="6.4" stroke="#e3241f" stroke-width="1.45" fill="none"/><rect x="568.41" y="423.2" width="6.4" height="6.4" stroke="#e3241f" stroke-width="1.45" fill="none"/><rect x="573.53" y="417.2" width="6.4" height="6.4" stroke="#e3241f" stroke-width="1.45" fill="none"/><rect x="578.65" y="411.2" width="6.4" height="6.4" stroke="#e3241f" stroke-width="1.45" fill="none"/><rect x="583.77" y="405.92" width="6.4" height="6.4" stroke="#e3241f" stroke-width="1.45" fill="none"/><rect x="588.9" y="401.6" width="6.4" height="6.4" stroke="#e3241f" stroke-width="1.45" fill="none"/><rect x="594.02" y="398.24" width="6.4" height="6.4" stroke="#e3241f" stroke-width="1.45" fill="none"/><rect x="599.14" y="395.84" width="6.4" height="6.4" stroke="#e3241f" stroke-width="1.45" fill="none"/><rect x="604.26" y="393.92" width="6.4" height="6.4" stroke="#e3241f" stroke-width="1.45" fill="none"/><rect x="609.38" y="393.68" width="6.4" height="6.4" stroke="#e3241f" stroke-width="1.45" fill="none"/><rect x="614.5" y="393.92" width="6.4" height="6.4" stroke="#e3241f" stroke-width="1.45" fill="none"/><rect x="619.62" y="395.36" width="6.4" height="6.4" stroke="#e3241f" stroke-width="1.45" fill="none"/><rect x="624.74" y="397.28" width="6.4" height="6.4" stroke="#e3241f" stroke-width="1.45" fill="none"/><rect x="629.86" y="400.88" width="6.4" height="6.4" stroke="#e3241f" stroke-width="1.45" fill="none"/><rect x="634.98" y="405.2" width="6.4" height="6.4" stroke="#e3241f" stroke-width="1.45" fill="none"/><rect x="640.1" y="411.2" width="6.4" height="6.4" stroke="#e3241f" stroke-width="1.45" fill="none"/><rect x="645.22" y="418.88" width="6.4" height="6.4" stroke="#e3241f" stroke-width="1.45" fill="none"/><rect x="650.34" y="426.56" width="6.4" height="6.4" stroke="#e3241f" stroke-width="1.45" fill="none"/><rect x="655.46" y="434.24" width="6.4" height="6.4" stroke="#e3241f" stroke-width="1.45" fill="none"/><rect x="660.58" y="442.88" width="6.4" height="6.4" stroke="#e3241f" stroke-width="1.45" fill="none"/><rect x="665.7" y="452.48" width="6.4" height="6.4" stroke="#e3241f" stroke-width="1.45" fill="none"/><rect x="670.83" y="462.56" width="6.4" height="6.4" stroke="#e3241f" stroke-width="1.45" fill="none"/><rect x="675.95" y="473.6" width="6.4" height="6.4" stroke="#e3241f" stroke-width="1.45" fill="none"/><rect x="681.07" y="483.68" width="6.4" height="6.4" stroke="#e3241f" stroke-width="1.45" fill="none"/><rect x="686.19" y="494.72" width="6.4" height="6.4" stroke="#e3241f" stroke-width="1.45" fill="none"/><rect x="691.31" y="505.76" width="6.4" height="6.4" stroke="#e3241f" stroke-width="1.45" fill="none"/><rect x="696.43" y="516.8" width="6.4" height="6.4" stroke="#e3241f" stroke-width="1.45" fill="none"/><rect x="701.55" y="526.88" width="6.4" height="6.4" stroke="#e3241f" stroke-width="1.45" fill="none"/><rect x="706.67" y="536.96" width="6.4" height="6.4" stroke="#e3241f" stroke-width="1.45" fill="none"/><rect x="711.79" y="545.6" width="6.4" height="6.4" stroke="#e3241f" stroke-width="1.45" fill="none"/><rect x="716.91" y="552.32" width="6.4" height="6.4" stroke="#e3241f" stroke-width="1.45" fill="none"/><rect x="722.03" y="560" width="6.4" height="6.4" stroke="#e3241f" stroke-width="1.45" fill="none"/><rect x="727.15" y="565.76" width="6.4" height="6.4" stroke="#e3241f" stroke-width="1.45" fill="none"/><rect x="732.27" y="569.12" width="6.4" height="6.4" stroke="#e3241f" stroke-width="1.45" fill="none"/><rect x="737.39" y="571.18" width="6.4" height="6.4" stroke="#e3241f" stroke-width="1.45" fill="none"/><rect x="742.51" y="572.48" width="6.4" height="6.4" stroke="#e3241f" stroke-width="1.45" fill="none"/><rect x="747.63" y="572.96" width="6.4" height="6.4" stroke="#e3241f" stroke-width="1.45" fill="none"/><rect x="752.76" y="573.44" width="6.4" height="6.4" stroke="#e3241f" stroke-width="1.45" fill="none"/><rect x="757.88" y="574.4" width="6.4" height="6.4" stroke="#e3241f" stroke-width="1.45" fill="none"/><rect x="763" y="574.4" width="6.4" height="6.4" stroke="#e3241f" stroke-width="1.45" fill="none"/><rect x="768.12" y="574.4" width="6.4" height="6.4" stroke="#e3241f" stroke-width="1.45" fill="none"/><rect x="773.24" y="574.4" width="6.4" height="6.4" stroke="#e3241f" stroke-width="1.45" fill="none"/><rect x="778.36" y="574.4" width="6.4" height="6.4" stroke="#e3241f" stroke-width="1.45" fill="none"/><rect x="783.48" y="574.4" width="6.4" height="6.4" stroke="#e3241f" stroke-width="1.45" fill="none"/><rect x="788.6" y="574.4" width="6.4" height="6.4" stroke="#e3241f" stroke-width="1.45" fill="none"/>
<path d="M469.2 576.16 L474.32 574.72 L479.44 572.32 L484.56 570.4 L489.68 567.52 L494.8 563.2 L499.92 558.4 L505.04 552.64 L510.17 545.44 L515.29 538.24 L520.41 530.8 L525.53 520.96 L530.65 509.92 L535.77 498.4 L540.89 487.36 L546.01 476.8 L551.13 464.32 L556.25 453.76 L561.37 442.72 L566.49 431.68 L571.61 422.08 L576.73 413.44 L581.85 407.68 L586.97 401.44 L592.1 396.16 L597.22 394.72 L602.34 392.8 L607.46 393.76 L612.58 395.68 L617.7 397.12 L622.82 400.48 L627.94 404.08 L633.06 408.4 L638.18 414.4 L643.3 418.72 L648.42 424.72 L653.54 430.72 L658.66 438.4 L663.78 446.08 L668.9 455.68 L674.03 465.76 L679.15 476.8 L684.27 486.88 L689.39 497.92 L694.51 508.96 L699.63 520 L704.75 530.08 L709.87 540.16 L714.99 548.8 L720.11 555.52 L725.23 563.2 L730.35 568.96 L735.47 572.32 L740.59 574.38 L745.71 575.68 L750.83 576.16 L755.96 576.64 L761.08 577.6 L766.2 577.6 L771.32 577.6 L776.44 577.6 L781.56 577.6 L786.68 577.6 L791.8 577.6" stroke="#52c3d6" stroke-width="1" fill="none" stroke-dasharray="5 4"/>
<path d="M469.2 571.46L473.5 578.76H464.9Z" stroke="#52c3d6" stroke-width="1.35" fill="none"/><path d="M474.32 570.02L478.62 577.32H470.02Z" stroke="#52c3d6" stroke-width="1.35" fill="none"/><path d="M479.44 567.62L483.74 574.92H475.14Z" stroke="#52c3d6" stroke-width="1.35" fill="none"/><path d="M484.56 565.7L488.86 573H480.26Z" stroke="#52c3d6" stroke-width="1.35" fill="none"/><path d="M489.68 562.82L493.98 570.12H485.38Z" stroke="#52c3d6" stroke-width="1.35" fill="none"/><path d="M494.8 558.5L499.1 565.8H490.5Z" stroke="#52c3d6" stroke-width="1.35" fill="none"/><path d="M499.92 553.7L504.22 561H495.62Z" stroke="#52c3d6" stroke-width="1.35" fill="none"/><path d="M505.04 547.94L509.34 555.24H500.74Z" stroke="#52c3d6" stroke-width="1.35" fill="none"/><path d="M510.17 540.74L514.47 548.04H505.87Z" stroke="#52c3d6" stroke-width="1.35" fill="none"/><path d="M515.29 533.54L519.59 540.84H510.99Z" stroke="#52c3d6" stroke-width="1.35" fill="none"/><path d="M520.41 526.1L524.71 533.4H516.11Z" stroke="#52c3d6" stroke-width="1.35" fill="none"/><path d="M525.53 516.26L529.83 523.56H521.23Z" stroke="#52c3d6" stroke-width="1.35" fill="none"/><path d="M530.65 505.22L534.95 512.52H526.35Z" stroke="#52c3d6" stroke-width="1.35" fill="none"/><path d="M535.77 493.7L540.07 501H531.47Z" stroke="#52c3d6" stroke-width="1.35" fill="none"/><path d="M540.89 482.66L545.19 489.96H536.59Z" stroke="#52c3d6" stroke-width="1.35" fill="none"/><path d="M546.01 472.1L550.31 479.4H541.71Z" stroke="#52c3d6" stroke-width="1.35" fill="none"/><path d="M551.13 459.62L555.43 466.92H546.83Z" stroke="#52c3d6" stroke-width="1.35" fill="none"/><path d="M556.25 449.06L560.55 456.36H551.95Z" stroke="#52c3d6" stroke-width="1.35" fill="none"/><path d="M561.37 438.02L565.67 445.32H557.07Z" stroke="#52c3d6" stroke-width="1.35" fill="none"/><path d="M566.49 426.98L570.79 434.28H562.19Z" stroke="#52c3d6" stroke-width="1.35" fill="none"/><path d="M571.61 417.38L575.91 424.68H567.31Z" stroke="#52c3d6" stroke-width="1.35" fill="none"/><path d="M576.73 408.74L581.03 416.04H572.43Z" stroke="#52c3d6" stroke-width="1.35" fill="none"/><path d="M581.85 402.98L586.15 410.28H577.55Z" stroke="#52c3d6" stroke-width="1.35" fill="none"/><path d="M586.97 396.74L591.27 404.04H582.67Z" stroke="#52c3d6" stroke-width="1.35" fill="none"/><path d="M592.1 391.46L596.4 398.76H587.8Z" stroke="#52c3d6" stroke-width="1.35" fill="none"/><path d="M597.22 390.02L601.52 397.32H592.92Z" stroke="#52c3d6" stroke-width="1.35" fill="none"/><path d="M602.34 388.1L606.64 395.4H598.04Z" stroke="#52c3d6" stroke-width="1.35" fill="none"/><path d="M607.46 389.06L611.76 396.36H603.16Z" stroke="#52c3d6" stroke-width="1.35" fill="none"/><path d="M612.58 390.98L616.88 398.28H608.28Z" stroke="#52c3d6" stroke-width="1.35" fill="none"/><path d="M617.7 392.42L622 399.72H613.4Z" stroke="#52c3d6" stroke-width="1.35" fill="none"/><path d="M622.82 395.78L627.12 403.08H618.52Z" stroke="#52c3d6" stroke-width="1.35" fill="none"/><path d="M627.94 399.38L632.24 406.68H623.64Z" stroke="#52c3d6" stroke-width="1.35" fill="none"/><path d="M633.06 403.7L637.36 411H628.76Z" stroke="#52c3d6" stroke-width="1.35" fill="none"/><path d="M638.18 409.7L642.48 417H633.88Z" stroke="#52c3d6" stroke-width="1.35" fill="none"/><path d="M643.3 414.02L647.6 421.32H639Z" stroke="#52c3d6" stroke-width="1.35" fill="none"/><path d="M648.42 420.02L652.72 427.32H644.12Z" stroke="#52c3d6" stroke-width="1.35" fill="none"/><path d="M653.54 426.02L657.84 433.32H649.24Z" stroke="#52c3d6" stroke-width="1.35" fill="none"/><path d="M658.66 433.7L662.96 441H654.36Z" stroke="#52c3d6" stroke-width="1.35" fill="none"/><path d="M663.78 441.38L668.08 448.68H659.48Z" stroke="#52c3d6" stroke-width="1.35" fill="none"/><path d="M668.9 450.98L673.2 458.28H664.6Z" stroke="#52c3d6" stroke-width="1.35" fill="none"/><path d="M674.03 461.06L678.33 468.36H669.73Z" stroke="#52c3d6" stroke-width="1.35" fill="none"/><path d="M679.15 472.1L683.45 479.4H674.85Z" stroke="#52c3d6" stroke-width="1.35" fill="none"/><path d="M684.27 482.18L688.57 489.48H679.97Z" stroke="#52c3d6" stroke-width="1.35" fill="none"/><path d="M689.39 493.22L693.69 500.52H685.09Z" stroke="#52c3d6" stroke-width="1.35" fill="none"/><path d="M694.51 504.26L698.81 511.56H690.21Z" stroke="#52c3d6" stroke-width="1.35" fill="none"/><path d="M699.63 515.3L703.93 522.6H695.33Z" stroke="#52c3d6" stroke-width="1.35" fill="none"/><path d="M704.75 525.38L709.05 532.68H700.45Z" stroke="#52c3d6" stroke-width="1.35" fill="none"/><path d="M709.87 535.46L714.17 542.76H705.57Z" stroke="#52c3d6" stroke-width="1.35" fill="none"/><path d="M714.99 544.1L719.29 551.4H710.69Z" stroke="#52c3d6" stroke-width="1.35" fill="none"/><path d="M720.11 550.82L724.41 558.12H715.81Z" stroke="#52c3d6" stroke-width="1.35" fill="none"/><path d="M725.23 558.5L729.53 565.8H720.93Z" stroke="#52c3d6" stroke-width="1.35" fill="none"/><path d="M730.35 564.26L734.65 571.56H726.05Z" stroke="#52c3d6" stroke-width="1.35" fill="none"/><path d="M735.47 567.62L739.77 574.92H731.17Z" stroke="#52c3d6" stroke-width="1.35" fill="none"/><path d="M740.59 569.68L744.89 576.98H736.29Z" stroke="#52c3d6" stroke-width="1.35" fill="none"/><path d="M745.71 570.98L750.01 578.28H741.41Z" stroke="#52c3d6" stroke-width="1.35" fill="none"/><path d="M750.83 571.46L755.13 578.76H746.53Z" stroke="#52c3d6" stroke-width="1.35" fill="none"/><path d="M755.96 571.94L760.26 579.24H751.66Z" stroke="#52c3d6" stroke-width="1.35" fill="none"/><path d="M761.08 572.9L765.38 580.2H756.78Z" stroke="#52c3d6" stroke-width="1.35" fill="none"/><path d="M766.2 572.9L770.5 580.2H761.9Z" stroke="#52c3d6" stroke-width="1.35" fill="none"/><path d="M771.32 572.9L775.62 580.2H767.02Z" stroke="#52c3d6" stroke-width="1.35" fill="none"/><path d="M776.44 572.9L780.74 580.2H772.14Z" stroke="#52c3d6" stroke-width="1.35" fill="none"/><path d="M781.56 572.9L785.86 580.2H777.26Z" stroke="#52c3d6" stroke-width="1.35" fill="none"/><path d="M786.68 572.9L790.98 580.2H782.38Z" stroke="#52c3d6" stroke-width="1.35" fill="none"/><path d="M791.8 572.9L796.1 580.2H787.5Z" stroke="#52c3d6" stroke-width="1.35" fill="none"/>
</g>
<rect x="469.1" y="337.6" width="322.7" height="240" fill="none" stroke="#6a6a6a" stroke-width="1.7"/>
<path d="M469.2 577.6V573.6M469.2 337.6V341.6M488.62 577.6V575.2M488.62 337.6V340M499.98 577.6V575.2M499.98 337.6V340M508.04 577.6V575.2M508.04 337.6V340M514.3 577.6V575.2M514.3 337.6V340M519.41 577.6V575.2M519.41 337.6V340M523.73 577.6V575.2M523.73 337.6V340M527.47 577.6V575.2M527.47 337.6V340M530.77 577.6V575.2M530.77 337.6V340M533.72 577.6V573.6M533.72 337.6V341.6M553.14 577.6V575.2M553.14 337.6V340M564.5 577.6V575.2M564.5 337.6V340M572.56 577.6V575.2M572.56 337.6V340M578.82 577.6V575.2M578.82 337.6V340M583.93 577.6V575.2M583.93 337.6V340M588.25 577.6V575.2M588.25 337.6V340M591.99 577.6V575.2M591.99 337.6V340M595.29 577.6V575.2M595.29 337.6V340M598.24 577.6V573.6M598.24 337.6V341.6M617.66 577.6V575.2M617.66 337.6V340M629.02 577.6V575.2M629.02 337.6V340M637.08 577.6V575.2M637.08 337.6V340M643.34 577.6V575.2M643.34 337.6V340M648.45 577.6V575.2M648.45 337.6V340M652.77 577.6V575.2M652.77 337.6V340M656.51 577.6V575.2M656.51 337.6V340M659.81 577.6V575.2M659.81 337.6V340M662.76 577.6V573.6M662.76 337.6V341.6M682.18 577.6V575.2M682.18 337.6V340M693.54 577.6V575.2M693.54 337.6V340M701.6 577.6V575.2M701.6 337.6V340M707.86 577.6V575.2M707.86 337.6V340M712.97 577.6V575.2M712.97 337.6V340M717.29 577.6V575.2M717.29 337.6V340M721.03 577.6V575.2M721.03 337.6V340M724.33 577.6V575.2M724.33 337.6V340M727.28 577.6V573.6M727.28 337.6V341.6M746.7 577.6V575.2M746.7 337.6V340M758.06 577.6V575.2M758.06 337.6V340M766.12 577.6V575.2M766.12 337.6V340M772.38 577.6V575.2M772.38 337.6V340M777.49 577.6V575.2M777.49 337.6V340M781.81 577.6V575.2M781.81 337.6V340M785.55 577.6V575.2M785.55 337.6V340M788.85 577.6V575.2M788.85 337.6V340M469.1 577.6H472.5M791.8 577.6H788.4M469.1 529.6H472.5M791.8 529.6H788.4M469.1 481.6H472.5M791.8 481.6H788.4M469.1 433.6H472.5M791.8 433.6H788.4M469.1 385.6H472.5M791.8 385.6H788.4M469.1 337.6H472.5M791.8 337.6H788.4" stroke="#4a4a4a" stroke-width="0.9" fill="none"/>
<g fill="#000"><text x="460.8" y="594.8" font-size="10.5">10<tspan font-size="6.3" dx="0.6" dy="-3.4">-1</tspan></text><text x="527.2" y="594.8" font-size="10.5">10<tspan font-size="6.3" dx="0.6" dy="-3.4">0</tspan></text><text x="592" y="594.8" font-size="10.5">10<tspan font-size="6.3" dx="0.6" dy="-3.4">1</tspan></text><text x="656.6" y="594.8" font-size="10.5">10<tspan font-size="6.3" dx="0.6" dy="-3.4">2</tspan></text><text x="721.7" y="594.8" font-size="10.5">10<tspan font-size="6.3" dx="0.6" dy="-3.4">3</tspan></text><text x="786.3" y="594.8" font-size="10.5">10<tspan font-size="6.3" dx="0.6" dy="-3.4">4</tspan></text><text x="458.8" y="583.47" font-size="10.8" text-anchor="end">0</text><text x="458.8" y="535.47" font-size="10.8" text-anchor="end">0.1</text><text x="458.8" y="487.47" font-size="10.8" text-anchor="end">0.2</text><text x="458.8" y="439.47" font-size="10.8" text-anchor="end">0.3</text><text x="458.8" y="391.47" font-size="10.8" text-anchor="end">0.4</text><text x="458.8" y="343.47" font-size="10.8" text-anchor="end">0.5</text></g>
<text x="479.4" y="355.2" font-size="17" font-weight="bold" fill="#000">(b)</text>
<text x="504.4" y="355.2" font-size="13.2" fill="#000">Curvature smoothing</text>
<text x="622.3" y="613" font-size="13.5" fill="#000">T<tspan font-size="8.8" dy="4.8">2</tspan><tspan dy="-4.8">, ms</tspan></text>
<text transform="translate(428.3 455) rotate(-90)" x="0" y="0" font-size="13.1" text-anchor="middle" fill="#000">Porosity, p.u.</text>
<path d="M679.1 353.9H708.1" stroke="#000" stroke-width="1.7"/>
<text x="711.6" y="357.44" font-size="9.9" fill="#000">Model</text>
<path d="M679.1 367.8H708.1" stroke="#56b93a" stroke-width="1.1" stroke-dasharray="6 5.75"/>
<path d="M690 367.8H697.2M693.6 364.2V371.4" stroke="#56b93a" stroke-width="1.55" fill="none"/>
<text x="711.6" y="371.34" font-size="9.9" fill="#000">DP</text>
<path d="M679.1 381.7H708.1" stroke="#2446a8" stroke-width="1.1" stroke-dasharray="6 5.75"/>
<circle cx="693.6" cy="381.7" r="3.4" stroke="#2446a8" stroke-width="1.35" fill="none"/>
<text x="711.6" y="385.24" font-size="9.9" fill="#000">GCV</text>
<path d="M679.1 395.6H708.1" stroke="#b040b0" stroke-width="1.1" stroke-dasharray="6 5.75"/>
<path d="M690.9 395.6H696.3M691.6 393.6L695.6 397.6M691.6 397.6L695.6 393.6" stroke="#b040b0" stroke-width="0.9" fill="none"/>
<text x="711.6" y="399.14" font-size="9.9" fill="#000">S-curve</text>
<path d="M679.1 409.5H708.1" stroke="#e3241f" stroke-width="1.1" stroke-dasharray="6 5.75"/>
<rect x="690.4" y="406.3" width="6.4" height="6.4" stroke="#e3241f" stroke-width="1.45" fill="none"/>
<text x="711.6" y="413.04" font-size="9.9" fill="#000">L-curve</text>
<path d="M679.1 423.4H708.1" stroke="#52c3d6" stroke-width="1.1" stroke-dasharray="6 5.75"/>
<path d="M693.6 418.7L697.9 426H689.3Z" stroke="#52c3d6" stroke-width="1.35" fill="none"/>
<text x="711.6" y="426.94" font-size="9.9" fill="#000">Slope of L-curve</text></svg></body></html>
